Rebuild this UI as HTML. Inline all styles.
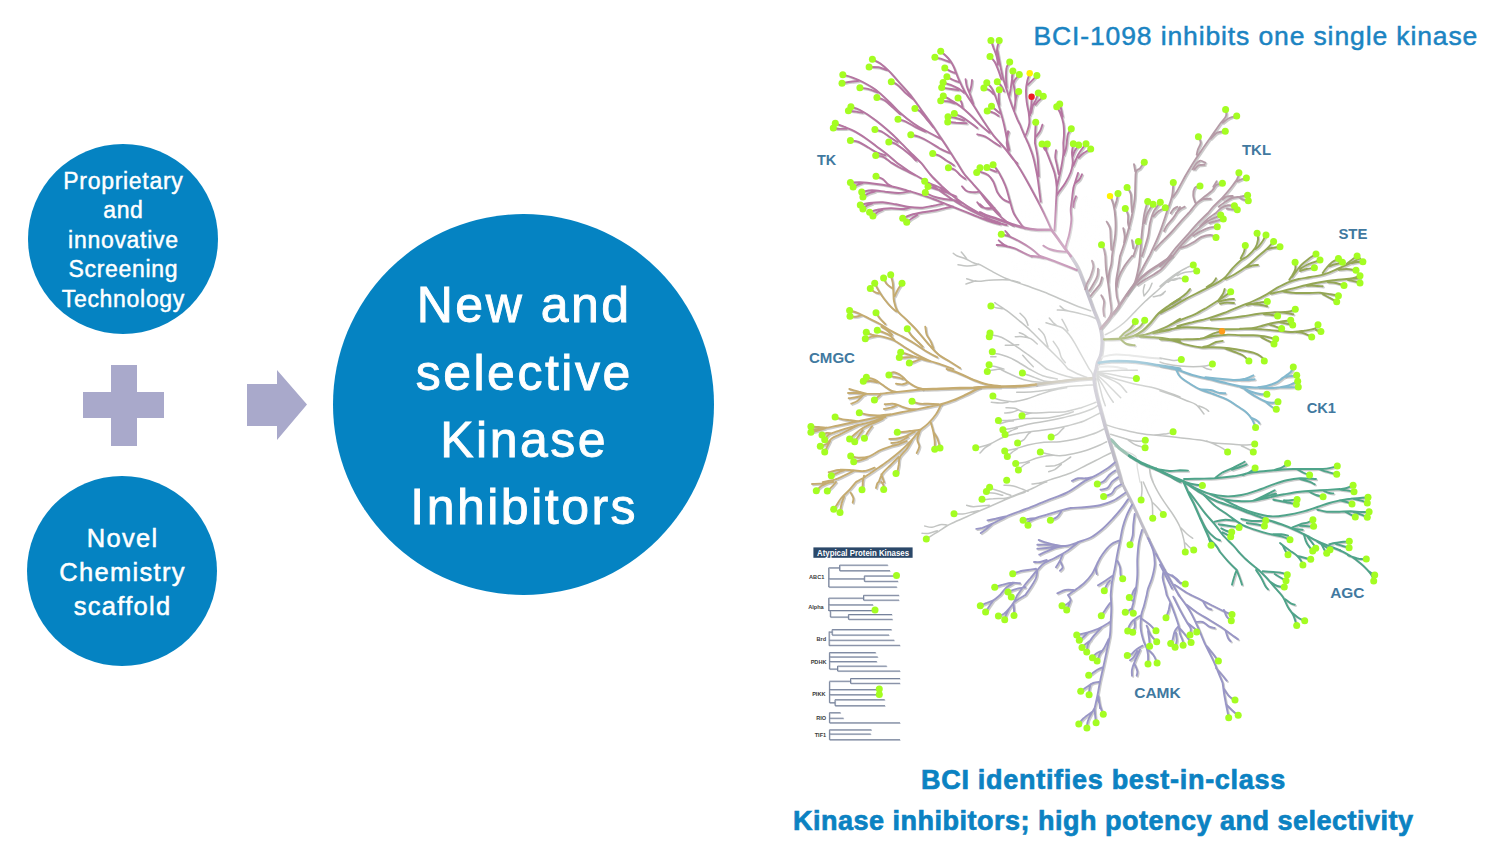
<!DOCTYPE html>
<html>
<head>
<meta charset="utf-8">
<title>BCI Kinase Inhibitors</title>
<style>
html,body{margin:0;padding:0;background:#fff;}
body{width:1500px;height:849px;position:relative;overflow:hidden;font-family:"Liberation Sans",sans-serif;}
.circ{position:absolute;border-radius:50%;background:#0583c2;}
.t{position:absolute;color:#fff;text-align:center;white-space:nowrap;}
.t div{white-space:nowrap;}
.lav{position:absolute;background:#a9a9cb;}
.title{position:absolute;color:#1b84c2;white-space:nowrap;}
.bot{position:absolute;color:#0b82c2;font-weight:bold;white-space:nowrap;text-align:center;}
svg{position:absolute;left:0;top:0;}
.lab{font-family:"Liberation Sans",sans-serif;font-weight:bold;font-size:14.2px;fill:#41799f;}
</style>
</head>
<body>
<!-- left circles -->
<div class="circ" style="left:28px;top:144px;width:190px;height:190px;"></div>
<div class="circ" style="left:27px;top:475.5px;width:190px;height:190px;"></div>
<div class="circ" style="left:332.5px;top:214px;width:381px;height:381px;"></div>

<!-- plus -->
<div class="lav" style="left:110.5px;top:364.5px;width:26px;height:81px;"></div>
<div class="lav" style="left:83px;top:392px;width:81px;height:26px;"></div>
<!-- arrow -->
<svg width="1500" height="849" viewBox="0 0 1500 849">
<polygon points="247,384 277,384 277,370 307,404.5 277,440 277,426 247,426" fill="#a9a9cb"/>
</svg>

<!-- circle texts -->
<div class="t" id="t1" style="-webkit-text-stroke:0.45px #fff;left:28.4px;top:167px;width:190px;font-size:23px;line-height:29.4px;letter-spacing:0.7px;">
<div>Proprietary</div><div>and</div><div>innovative</div><div>Screening</div><div>Technology</div></div>
<div class="t" id="t2" style="-webkit-text-stroke:0.5px #fff;left:27.6px;top:521.3px;width:190px;font-size:25.5px;line-height:34px;letter-spacing:1.3px;">
<div>Novel</div><div>Chemistry</div><div>scaffold</div></div>
<div class="t" id="t3" style="-webkit-text-stroke:0.9px #fff;left:333.7px;top:272.3px;width:381px;font-size:50px;line-height:67.3px;letter-spacing:2.5px;">
<div>New and</div><div>selective</div><div>Kinase</div><div>Inhibitors</div></div>

<div class="title" id="title" style="-webkit-text-stroke:0.5px #1b84c2;left:1033.4px;top:19.8px;font-size:26.5px;line-height:32px;letter-spacing:0.88px;">BCI-1098 inhibits one single kinase</div>

<div class="bot" id="b1" style="-webkit-text-stroke:0.7px #0b82c2;left:921px;top:762.6px;font-size:27px;line-height:34px;letter-spacing:0.71px;">BCI identifies best-in-class</div>
<div class="bot" id="b2" style="-webkit-text-stroke:0.7px #0b82c2;left:793px;top:803.6px;font-size:27px;line-height:34px;letter-spacing:0.5px;">Kinase inhibitors; high potency and selectivity</div>

<!-- kinome tree -->
<svg width="1500" height="849" viewBox="0 0 1500 849">
<defs><filter id="soft" x="-2%" y="-2%" width="104%" height="104%"><feGaussianBlur stdDeviation="0.45"/></filter></defs><g filter="url(#soft)"><g fill="none" stroke="#9a9a9a" stroke-opacity=".5" stroke-linecap="round" stroke-linejoin="round" transform="translate(1.2,1.2)"><path d="M872.4 59.3 C873.7 60.0 877.2 61.3 880.0 63.3 C882.8 65.3 886.0 68.0 889.3 71.3 C892.7 74.7 896.4 79.3 900.0 83.3 C903.6 87.3 907.1 90.9 910.7 95.3 C914.2 99.8 917.8 105.1 921.3 110.0 C924.9 114.9 928.9 120.2 932.0 124.7 C935.1 129.1 937.3 132.7 940.0 136.7 C942.7 140.7 945.6 144.9 948.0 148.7 C950.4 152.4 953.1 156.9 954.7 159.3 C956.2 161.7 956.9 162.4 957.3 163.1 M869.1 66.9 C870.7 67.0 875.7 66.8 878.7 67.3 C881.6 67.8 885.3 69.6 886.7 70.0 M891.3 81.7 C892.3 82.2 895.0 82.8 897.3 84.7 C899.7 86.5 902.7 90.2 905.3 92.7 C908.0 95.1 912.0 98.2 913.3 99.3 M842.8 74.8 C844.3 75.2 848.7 76.1 852.0 77.3 C855.3 78.5 858.7 79.9 862.7 82.0 C866.7 84.1 871.6 86.7 876.0 90.0 C880.4 93.3 885.3 98.2 889.3 102.0 C893.3 105.8 896.0 109.1 900.0 112.7 C904.0 116.2 908.9 120.2 913.3 123.3 C917.8 126.4 922.1 128.8 926.7 131.3 C931.2 133.9 938.3 137.4 940.7 138.7 M842.0 83.2 C843.4 83.0 847.9 82.1 850.7 81.7 C853.4 81.4 857.3 81.1 858.7 80.9 M859.9 87.7 C861.2 87.9 865.1 88.2 868.0 88.9 C870.9 89.7 875.8 91.8 877.3 92.4 M876.9 97.6 C878.1 98.0 881.5 98.5 884.0 100.0 C886.5 101.5 889.3 104.3 892.0 106.7 C894.7 109.0 898.7 112.8 900.0 114.0 M914.9 108.4 C915.8 108.9 918.0 109.5 920.0 111.3 C922.0 113.2 924.4 116.7 926.7 119.3 C928.9 122.0 932.2 126.0 933.3 127.3 M898.0 119.2 C899.2 119.6 902.3 120.0 905.3 121.3 C908.3 122.7 912.7 125.6 916.0 127.3 C919.3 129.0 923.8 130.9 925.3 131.6 M850.9 106.7 C852.4 107.2 856.7 108.3 860.0 110.0 C863.3 111.7 867.1 114.2 870.7 116.7 C874.2 119.1 877.8 121.8 881.3 124.7 C884.9 127.6 888.4 130.7 892.0 134.0 C895.6 137.3 899.1 141.1 902.7 144.7 C906.2 148.2 910.2 152.3 913.3 155.3 C916.4 158.4 920.0 161.8 921.3 163.1 M848.4 110.7 C849.7 110.8 853.6 111.3 856.0 111.6 C858.4 111.9 861.6 112.5 862.7 112.7 M874.9 129.6 C876.0 129.9 878.9 130.2 881.3 131.3 C883.7 132.5 886.7 134.9 889.3 136.7 C892.0 138.4 896.0 141.1 897.3 142.0 M910.8 134.8 C912.1 135.1 915.6 135.5 918.7 136.7 C921.8 137.9 925.8 140.0 929.3 142.0 C932.9 144.0 936.7 146.8 940.0 148.7 C943.3 150.5 947.8 152.2 949.3 152.9 M835.3 123.3 C836.8 123.9 840.8 125.3 844.0 126.7 C847.2 128.0 851.1 129.4 854.7 131.3 C858.2 133.2 861.8 135.6 865.3 138.0 C868.9 140.4 872.4 143.3 876.0 146.0 C879.6 148.7 883.1 151.2 886.7 154.0 C890.2 156.8 895.6 161.6 897.3 163.1 M833.3 128.0 C834.4 128.2 837.8 128.8 840.0 128.9 C842.2 129.0 845.6 128.7 846.7 128.7 M850.4 140.4 C851.8 140.7 855.7 140.8 858.7 142.0 C861.6 143.2 864.9 145.6 868.0 147.3 C871.1 149.1 874.4 151.3 877.3 152.7 C880.2 154.0 884.0 154.9 885.3 155.3 M888.8 141.9 C889.8 142.1 892.4 142.2 894.7 143.3 C897.0 144.5 900.0 146.7 902.7 148.7 C905.3 150.7 908.4 153.3 910.7 155.3 C912.9 157.3 915.1 159.8 916.0 160.7 M875.7 155.5 C876.9 155.7 880.0 155.4 882.7 156.7 C885.4 157.9 890.4 162.0 892.0 163.1 M932.7 153.6 C933.7 153.9 936.3 154.2 938.7 155.3 C941.0 156.5 944.7 159.4 946.7 160.7 C948.7 162.0 950.0 162.7 950.7 163.1 M940.7 51.3 C941.9 52.4 945.9 55.6 948.0 58.0 C950.1 60.4 951.6 62.4 953.3 66.0 C955.1 69.6 956.7 74.9 958.7 79.3 C960.7 83.8 962.7 88.0 965.3 92.7 C968.0 97.3 971.6 102.4 974.7 107.3 C977.8 112.2 980.9 117.3 984.0 122.0 C987.1 126.7 990.0 131.1 993.3 135.3 C996.7 139.6 1000.7 143.3 1004.0 147.3 C1007.3 151.3 1011.1 156.7 1013.3 159.3 C1015.6 162.0 1016.7 162.4 1017.3 163.1 M934.9 57.2 C936.2 57.6 940.3 58.5 942.7 59.3 C945.1 60.1 948.2 61.6 949.3 62.0 M944.8 68.0 C945.8 68.6 949.0 70.5 950.7 71.3 C952.4 72.2 954.2 72.7 954.9 72.9 M946.9 76.7 C948.0 77.2 951.4 79.1 953.3 80.0 C955.3 80.9 957.8 81.7 958.7 82.0 M943.1 82.4 C944.3 82.8 948.1 83.9 950.7 84.9 C953.3 86.0 956.4 87.4 958.7 88.7 C960.9 90.0 963.1 92.0 964.0 92.7 M941.7 87.6 C943.0 87.8 946.5 88.3 949.3 88.7 C952.2 89.1 957.1 89.8 958.7 90.0 M965.6 79.3 C965.8 80.4 966.0 83.8 966.7 86.0 C967.3 88.2 968.2 89.7 969.3 92.7 C970.4 95.7 972.7 102.1 973.3 104.0 M972.0 80.0 C971.9 81.0 971.8 83.9 971.3 86.0 C970.9 88.1 969.7 91.6 969.3 92.7 M943.3 96.0 C944.6 96.7 947.9 98.3 950.7 100.0 C953.4 101.7 956.9 103.7 960.0 106.0 C963.1 108.3 966.0 110.9 969.3 114.0 C972.7 117.1 976.7 121.6 980.0 124.7 C983.3 127.8 987.8 131.3 989.3 132.7 M940.7 100.8 C941.9 100.9 945.7 100.9 948.0 101.3 C950.3 101.8 953.6 103.0 954.7 103.3 M958.0 97.9 C958.6 98.6 960.6 100.4 961.3 102.0 C962.1 103.6 962.4 106.7 962.7 107.6 M954.3 113.6 C955.4 114.1 958.8 115.3 961.3 116.7 C963.8 118.1 966.7 120.1 969.3 122.0 C972.0 123.9 976.0 127.0 977.3 128.0 M948.0 116.7 C949.3 116.9 953.3 117.3 956.0 118.0 C958.7 118.7 962.7 120.2 964.0 120.7 M947.7 122.0 C949.1 122.1 952.8 122.4 956.0 122.7 C959.2 122.9 964.9 123.2 966.7 123.3 M977.3 134.3 C978.7 134.7 982.7 135.4 985.3 136.7 C988.0 138.0 990.9 140.4 993.3 142.0 C995.8 143.6 998.9 145.6 1000.0 146.3 M997.3 50.0 C997.7 51.8 998.4 56.2 999.3 60.7 C1000.2 65.1 1001.4 71.8 1002.7 76.7 C1003.9 81.6 1005.1 85.1 1006.7 90.0 C1008.2 94.9 1010.2 101.1 1012.0 106.0 C1013.8 110.9 1016.0 116.2 1017.3 119.3 C1018.7 122.4 1019.6 123.8 1020.0 124.7 M990.0 56.4 C990.8 57.3 993.2 59.5 994.7 62.0 C996.1 64.5 997.6 68.4 998.7 71.3 C999.8 74.2 1000.9 78.0 1001.3 79.3 M1009.7 62.0 C1009.2 62.9 1007.3 64.9 1006.7 67.3 C1006.0 69.8 1006.0 73.3 1006.0 76.7 C1006.0 80.0 1006.6 85.6 1006.7 87.3 M1012.9 70.9 C1012.8 72.3 1012.4 76.4 1012.0 79.3 C1011.6 82.3 1011.1 85.9 1010.7 88.7 C1010.2 91.4 1009.6 94.8 1009.3 96.0 M986.8 82.8 C987.7 83.8 990.5 86.1 992.0 88.7 C993.5 91.2 994.7 94.4 996.0 98.0 C997.3 101.6 998.7 105.6 1000.0 110.0 C1001.3 114.4 1002.9 120.0 1004.0 124.7 C1005.1 129.3 1005.8 133.8 1006.7 138.0 C1007.6 142.2 1008.9 148.0 1009.3 150.0 M983.9 88.1 C984.8 88.4 987.8 89.0 989.3 90.0 C990.9 91.0 992.7 93.3 993.3 94.0 M997.3 81.7 C998.0 82.4 1000.2 84.4 1001.3 86.0 C1002.4 87.6 1003.6 90.4 1004.0 91.3 M999.3 89.7 C999.2 90.7 998.7 92.8 998.7 95.3 C998.7 97.8 999.2 103.1 999.3 104.7 M991.5 106.3 C992.2 106.9 994.6 108.8 996.0 110.0 C997.4 111.2 999.3 112.8 1000.0 113.3 M987.2 110.9 C988.2 111.2 991.4 111.8 993.3 112.7 C995.2 113.5 997.8 115.4 998.7 116.0 M1008.0 131.3 C1007.8 132.4 1006.7 135.6 1006.7 138.0 C1006.7 140.4 1007.8 144.7 1008.0 146.0 M990.9 40.4 C991.3 41.6 992.4 44.6 993.3 47.3 C994.3 50.0 995.9 53.8 996.7 56.7 C997.4 59.6 997.8 63.3 998.0 64.7 M999.2 40.4 C998.9 41.6 997.8 45.1 997.3 47.3 C996.9 49.6 996.8 52.9 996.7 54.0 M1020.0 124.7 C1020.4 125.8 1021.3 128.3 1022.7 131.3 C1024.0 134.4 1027.1 141.1 1028.0 143.1 M1019.3 74.4 C1018.7 75.2 1016.3 77.8 1015.3 79.3 C1014.3 80.8 1013.7 82.7 1013.3 83.3 M1012.9 70.9 C1012.8 72.1 1011.9 75.9 1012.0 78.0 C1012.1 80.1 1012.8 80.9 1013.3 83.3 C1013.8 85.8 1014.6 89.6 1014.9 92.7 C1015.3 95.8 1015.5 98.9 1015.3 102.0 C1015.2 105.1 1014.2 109.8 1014.0 111.3 M1018.7 91.5 C1018.3 92.3 1016.8 94.9 1016.3 96.7 C1015.7 98.4 1015.5 101.1 1015.3 102.0 M1029.7 73.3 C1029.3 74.6 1028.0 77.9 1027.3 80.7 C1026.7 83.4 1026.1 86.4 1026.0 90.0 C1025.9 93.6 1026.2 98.2 1026.7 102.0 C1027.1 105.8 1028.2 109.1 1028.7 112.7 C1029.1 116.2 1029.7 120.0 1029.3 123.3 C1029.0 126.7 1027.4 130.4 1026.7 132.7 C1025.9 134.9 1025.0 136.0 1024.7 136.7 M1036.9 75.6 C1036.1 76.4 1033.5 79.2 1032.0 80.7 C1030.5 82.2 1028.7 84.0 1028.0 84.7 M1031.6 96.7 C1031.6 98.0 1031.6 101.6 1031.3 104.7 C1031.1 107.8 1030.2 113.6 1030.0 115.3 M1038.3 93.1 C1037.9 94.1 1036.9 97.2 1036.0 99.3 C1035.1 101.5 1033.4 103.8 1032.7 106.0 C1031.9 108.2 1031.6 111.6 1031.3 112.7 M1043.3 96.3 C1042.6 97.0 1040.0 99.3 1038.7 100.7 C1037.3 102.1 1035.9 104.0 1035.3 104.7 M1035.7 122.3 C1035.7 123.6 1035.5 126.5 1035.3 130.0 C1035.2 133.5 1035.0 140.9 1034.9 143.1 M1042.4 124.7 C1042.0 125.8 1041.1 129.3 1040.0 131.3 C1038.9 133.3 1036.7 135.8 1036.0 136.7 M1056.7 106.7 C1057.2 107.7 1058.9 109.9 1060.0 112.7 C1061.1 115.4 1062.7 119.8 1063.3 123.3 C1064.0 126.9 1064.0 130.7 1064.0 134.0 C1064.0 137.3 1063.4 141.6 1063.3 143.1 M1059.7 104.1 C1060.0 105.1 1060.8 107.9 1061.3 110.0 C1061.8 112.1 1062.4 115.6 1062.7 116.7 M1071.3 128.7 C1070.8 129.6 1068.8 131.6 1068.0 134.0 C1067.2 136.4 1066.9 141.6 1066.7 143.1 M1008.7 132.0 C1008.4 132.8 1007.7 134.8 1007.3 136.7 C1007.0 138.5 1006.8 142.0 1006.7 143.1 M1000.0 143.0 C1001.6 144.8 1006.2 149.7 1009.3 153.7 C1012.4 157.7 1015.6 162.1 1018.7 167.0 C1021.8 171.9 1024.9 177.4 1028.0 183.0 C1031.1 188.6 1034.4 194.8 1037.3 200.3 C1040.2 205.9 1043.0 211.4 1045.3 216.3 C1047.7 221.2 1050.3 227.4 1051.3 229.7 M1028.0 143.0 C1028.9 145.4 1031.8 152.1 1033.3 157.7 C1034.9 163.2 1036.3 170.8 1037.3 176.3 C1038.3 181.9 1038.8 186.8 1039.3 191.0 C1039.9 195.2 1040.4 199.9 1040.7 201.7 M1034.9 143.0 C1035.4 145.4 1037.0 152.1 1037.6 157.7 C1038.2 163.2 1038.5 173.2 1038.7 176.3 M1006.7 143.0 C1006.8 143.7 1007.0 145.7 1007.3 147.0 C1007.7 148.3 1008.4 150.3 1008.7 151.0 M1044.0 145.7 C1044.9 147.9 1047.6 154.3 1049.3 159.0 C1051.1 163.7 1053.4 169.0 1054.7 173.7 C1055.9 178.3 1056.4 182.1 1056.7 187.0 C1056.9 191.9 1056.2 198.1 1056.0 203.0 C1055.8 207.9 1055.6 211.8 1055.3 216.3 C1055.1 220.9 1054.6 228.0 1054.4 230.3 M1042.0 144.1 L1044.7 149.7 M1047.3 144.1 L1046.0 149.7 M1056.0 150.3 C1055.9 151.6 1055.1 154.9 1055.3 157.7 C1055.6 160.4 1056.8 164.2 1057.3 167.0 C1057.9 169.8 1058.4 173.1 1058.7 174.3 M1063.3 143.0 C1063.3 144.8 1063.7 149.7 1063.3 153.7 C1063.0 157.7 1062.1 162.8 1061.3 167.0 C1060.6 171.2 1059.4 175.7 1058.7 179.0 C1057.9 182.3 1057.0 185.7 1056.7 187.0 M1066.7 143.0 C1066.6 143.9 1066.4 146.3 1066.0 148.3 C1065.6 150.3 1064.3 153.9 1064.0 155.0 M1073.3 143.7 C1073.1 145.1 1072.1 149.1 1072.0 152.3 C1071.9 155.6 1072.9 159.7 1072.7 163.0 C1072.4 166.3 1071.9 169.0 1070.7 172.3 C1069.4 175.7 1067.3 179.7 1065.3 183.0 C1063.3 186.3 1060.2 190.1 1058.7 192.3 C1057.2 194.6 1056.7 195.7 1056.3 196.3 M1086.0 143.7 C1084.8 145.3 1080.8 150.0 1078.7 153.7 C1076.6 157.3 1074.2 163.7 1073.3 165.7 M1090.7 149.0 C1089.3 149.8 1084.7 152.2 1082.7 153.7 C1080.7 155.1 1079.3 157.0 1078.7 157.7 M1078.7 145.0 C1078.0 146.0 1075.7 149.1 1074.7 151.0 C1073.7 152.9 1073.0 155.4 1072.7 156.3 M1078.0 173.0 C1077.6 174.4 1076.1 179.1 1075.3 181.7 C1074.6 184.2 1073.9 185.4 1073.3 188.3 C1072.8 191.2 1072.4 195.4 1072.0 199.0 C1071.6 202.6 1070.8 206.1 1070.7 209.7 C1070.6 213.2 1071.6 216.3 1071.3 220.3 C1071.1 224.3 1070.1 229.9 1069.3 233.7 C1068.6 237.4 1067.3 240.6 1066.7 243.0 C1066.0 245.4 1065.6 247.4 1065.3 248.3 M1082.0 174.3 C1081.6 175.2 1080.4 178.2 1079.3 179.7 C1078.2 181.1 1076.0 182.4 1075.3 183.0 M1076.0 196.3 C1075.7 197.2 1074.4 199.9 1074.0 201.7 C1073.6 203.4 1073.4 206.1 1073.3 207.0 M993.1 164.7 C994.0 166.0 996.6 168.8 998.7 172.3 C1000.7 175.8 1003.6 181.2 1005.3 185.7 C1007.1 190.1 1008.0 194.6 1009.3 199.0 C1010.7 203.4 1011.6 208.3 1013.3 212.3 C1015.1 216.3 1018.2 220.4 1020.0 223.0 C1021.8 225.6 1023.3 226.9 1024.0 227.7 M986.9 167.4 C987.6 167.8 989.2 169.0 990.7 169.7 C992.2 170.4 995.1 171.3 996.0 171.7 M980.0 171.7 C981.3 172.2 985.8 173.3 988.0 175.0 C990.2 176.7 991.8 178.8 993.3 181.7 C994.9 184.6 995.8 189.4 997.3 192.3 C998.9 195.2 1000.7 197.3 1002.7 199.0 C1004.7 200.7 1008.2 201.8 1009.3 202.3 M980.0 192.3 C981.3 194.1 985.1 199.4 988.0 203.0 C990.9 206.6 994.2 210.6 997.3 213.7 C1000.4 216.8 1004.0 219.7 1006.7 221.7 C1009.3 223.7 1012.2 225.0 1013.3 225.7 M980.0 204.3 C980.9 205.0 983.3 207.6 985.3 208.3 C987.3 209.0 990.9 208.6 992.0 208.6 M980.0 217.7 C982.2 218.3 988.9 220.4 993.3 221.7 C997.8 222.9 1004.4 224.4 1006.7 225.0 M1001.3 234.3 C1002.7 234.7 1006.2 235.1 1009.3 236.3 C1012.4 237.6 1016.4 239.7 1020.0 241.7 C1023.6 243.7 1027.3 245.9 1030.7 248.3 C1034.0 250.7 1038.4 254.8 1040.0 256.1 M1005.3 231.0 L1009.3 235.7 M996.7 245.0 C997.9 245.1 1001.0 245.1 1004.0 245.7 C1007.0 246.2 1011.1 247.0 1014.7 248.3 C1018.2 249.7 1022.7 252.4 1025.3 253.7 C1028.0 255.0 1029.8 255.7 1030.7 256.1 M998.7 240.3 C999.3 240.9 1001.3 242.7 1002.7 243.7 C1004.0 244.6 1006.0 245.6 1006.7 245.9 M1043.3 245.7 C1044.3 246.2 1047.0 248.1 1049.3 249.0 C1051.7 249.9 1054.7 250.6 1057.3 251.0 C1060.0 251.4 1064.0 251.6 1065.3 251.7 M897.3 163.0 C899.6 164.6 905.8 169.2 910.7 172.3 C915.6 175.4 921.1 178.1 926.7 181.7 C932.2 185.2 938.4 189.9 944.0 193.7 C949.6 197.4 954.0 200.8 960.0 204.3 C966.0 207.9 973.3 211.9 980.0 215.0 C986.7 218.1 996.7 221.7 1000.0 223.0 M892.0 163.0 C893.1 163.7 896.2 165.7 898.7 167.0 C901.1 168.3 904.0 169.7 906.7 171.0 C909.3 172.3 913.3 174.3 914.7 175.0 M921.3 163.0 C922.9 165.0 927.3 171.2 930.7 175.0 C934.0 178.8 937.6 182.1 941.3 185.7 C945.1 189.2 949.1 193.0 953.3 196.3 C957.6 199.7 962.2 202.8 966.7 205.7 C971.1 208.6 977.8 212.3 980.0 213.7 M957.3 163.0 C958.4 164.8 961.3 170.1 964.0 173.7 C966.7 177.2 970.0 180.6 973.3 184.3 C976.7 188.1 980.7 192.6 984.0 196.3 C987.3 200.1 990.7 203.9 993.3 207.0 C996.0 210.1 998.9 213.7 1000.0 215.0 M950.7 163.0 L954.0 165.4 M948.4 167.7 C949.4 168.0 952.7 168.4 954.7 169.7 C956.6 170.9 958.2 173.4 960.0 175.0 C961.8 176.6 964.4 178.3 965.3 179.0 M962.0 186.3 C962.8 187.1 964.6 190.0 966.7 191.0 C968.8 192.0 972.7 192.2 974.7 192.3 C976.7 192.4 978.0 191.8 978.7 191.7 M977.3 202.3 C978.0 203.1 979.3 206.0 981.3 207.0 C983.3 208.0 987.1 208.1 989.3 208.3 C991.6 208.6 993.8 208.3 994.7 208.3 M876.0 176.3 C877.1 176.8 880.7 177.7 882.7 179.0 C884.7 180.3 886.2 183.0 888.0 184.3 C889.8 185.7 892.4 186.6 893.3 187.0 M850.4 182.6 C852.0 182.6 856.0 182.2 860.0 182.3 C864.0 182.5 869.6 183.0 874.7 183.7 C879.8 184.3 885.3 185.2 890.7 186.3 C896.0 187.4 901.8 189.0 906.7 190.3 C911.6 191.7 915.6 192.9 920.0 194.3 C924.4 195.8 928.9 197.3 933.3 199.0 C937.8 200.7 942.2 202.6 946.7 204.3 C951.1 206.1 955.6 207.9 960.0 209.7 C964.4 211.4 968.9 213.2 973.3 215.0 C977.8 216.8 982.2 218.8 986.7 220.3 C991.1 221.9 997.8 223.7 1000.0 224.3 M853.1 187.0 C853.8 186.7 855.7 185.7 857.3 185.0 C858.9 184.3 861.8 183.3 862.7 183.0 M861.7 191.9 C863.4 191.7 868.1 190.4 872.0 190.3 C875.9 190.3 880.9 191.2 885.3 191.7 C889.8 192.1 894.4 193.1 898.7 193.0 C902.9 192.9 908.7 191.6 910.7 191.3 M862.9 197.0 C863.8 196.4 866.0 194.6 868.0 193.7 C870.0 192.8 873.6 192.0 874.7 191.7 M860.3 205.0 C861.8 204.7 865.6 203.4 869.3 203.0 C873.1 202.6 878.2 202.1 882.7 202.3 C887.1 202.6 891.6 203.6 896.0 204.3 C900.4 205.1 904.9 206.4 909.3 207.0 C913.8 207.6 918.7 207.9 922.7 207.7 C926.7 207.4 930.0 206.3 933.3 205.7 C936.7 205.0 941.1 204.0 942.7 203.7 M862.9 209.0 C863.6 208.4 865.2 206.6 866.7 205.7 C868.2 204.8 871.1 204.0 872.0 203.7 M869.6 212.3 C870.9 211.9 873.8 210.3 877.3 209.7 C880.8 209.0 886.2 208.4 890.7 208.3 C895.1 208.2 900.7 209.2 904.0 209.0 C907.3 208.8 909.6 207.7 910.7 207.4 M872.9 216.1 C873.7 215.4 875.7 213.4 877.3 212.3 C879.0 211.3 881.8 210.1 882.7 209.7 M902.7 218.3 C904.0 217.8 907.3 216.0 910.7 215.0 C914.0 214.0 918.4 213.1 922.7 212.3 C926.9 211.6 932.0 211.1 936.0 210.3 C940.0 209.6 943.8 208.3 946.7 207.7 C949.6 207.1 952.2 206.9 953.3 206.7 M906.7 222.3 C907.6 221.7 910.2 219.6 912.0 218.3 C913.8 217.1 916.4 215.6 917.3 215.0 M924.7 181.3 C925.9 181.8 929.2 183.2 932.0 184.3 C934.8 185.5 938.4 186.8 941.3 188.3 C944.2 189.9 948.0 192.8 949.3 193.7 M928.0 186.6 C929.3 187.0 932.9 188.0 936.0 189.0 C939.1 190.0 943.3 191.1 946.7 192.3 C950.0 193.6 954.4 195.7 956.0 196.3 M925.3 192.6 C926.7 193.2 930.2 195.3 933.3 196.3 C936.4 197.4 940.4 198.3 944.0 199.0 C947.6 199.7 951.6 199.7 954.7 200.3 C957.8 201.0 961.3 202.6 962.7 203.0" stroke-width="1.9"/><path d="M980.0 212.3 C980.9 212.8 982.4 213.9 985.3 215.0 C988.2 216.1 993.1 217.6 997.3 219.0 C1001.6 220.4 1006.2 222.2 1010.7 223.7 C1015.1 225.1 1019.6 226.7 1024.0 227.7 C1028.4 228.7 1032.8 229.3 1037.3 229.7 C1041.9 230.0 1049.0 229.7 1051.3 229.7 M1051.3 229.7 C1052.8 231.7 1056.8 237.3 1060.0 241.7 C1063.2 246.1 1068.9 253.7 1070.7 256.1" stroke-width="2.6"/><path d="M1144.3 162.3 C1143.6 163.3 1141.4 166.8 1140.0 168.3 C1138.6 169.9 1136.8 169.2 1136.0 171.7 C1135.2 174.1 1135.6 178.4 1135.3 183.0 C1135.1 187.6 1135.2 193.7 1134.7 199.0 C1134.1 204.3 1133.1 209.7 1132.0 215.0 C1130.9 220.3 1129.3 226.1 1128.0 231.0 C1126.7 235.9 1125.3 240.2 1124.0 244.3 C1122.7 248.5 1120.7 254.1 1120.0 256.1 M1134.0 164.3 L1135.3 171.7 M1127.1 187.4 C1127.7 188.4 1130.0 191.1 1130.7 193.7 C1131.4 196.3 1131.1 199.9 1131.3 203.0 C1131.6 206.1 1131.9 210.8 1132.0 212.3 M1110.0 196.1 C1110.6 197.4 1112.4 200.7 1113.3 204.3 C1114.2 207.9 1115.0 212.8 1115.3 217.7 C1115.7 222.6 1115.7 228.8 1115.3 233.7 C1115.0 238.6 1113.9 243.3 1113.3 247.0 C1112.8 250.7 1112.2 254.6 1112.0 256.1 M1118.0 193.4 C1117.8 194.6 1117.2 198.1 1116.7 200.3 C1116.1 202.6 1115.0 205.9 1114.7 207.0 M1106.7 221.7 C1107.2 222.8 1109.3 225.4 1110.0 228.3 C1110.7 231.2 1110.4 235.4 1110.7 239.0 C1110.9 242.6 1111.2 247.9 1111.3 249.7 M1125.3 208.6 C1125.8 209.7 1127.6 212.6 1128.0 215.0 C1128.4 217.4 1127.8 220.8 1128.0 223.0 C1128.2 225.2 1129.1 227.4 1129.3 228.3 M1123.3 228.3 C1123.6 229.7 1124.6 233.9 1124.7 236.3 C1124.8 238.8 1124.1 241.9 1124.0 243.0 M1147.7 201.4 C1147.2 203.2 1145.5 208.3 1144.7 212.3 C1143.8 216.4 1143.2 221.2 1142.7 225.7 C1142.1 230.1 1141.8 233.9 1141.3 239.0 C1140.9 244.1 1140.2 253.2 1140.0 256.1 M1153.1 204.3 C1152.4 205.2 1150.4 207.9 1149.3 209.7 C1148.3 211.4 1147.4 212.8 1146.7 215.0 C1145.9 217.2 1145.0 221.7 1144.7 223.0 M1160.3 202.3 C1159.1 204.0 1155.0 208.9 1153.3 212.3 C1151.6 215.8 1150.9 219.0 1150.0 223.0 C1149.1 227.0 1149.0 231.9 1148.0 236.3 C1147.0 240.8 1145.0 246.4 1144.0 249.7 C1143.0 253.0 1142.3 255.0 1142.0 256.1 M1165.3 207.7 C1164.2 208.2 1160.7 209.6 1158.7 211.0 C1156.7 212.4 1154.2 215.4 1153.3 216.3 M1173.3 182.6 C1173.1 184.9 1173.1 191.4 1172.0 196.3 C1170.9 201.3 1168.4 207.0 1166.7 212.3 C1164.9 217.7 1163.1 223.4 1161.3 228.3 C1159.6 233.2 1158.0 237.0 1156.0 241.7 C1154.0 246.3 1150.4 253.7 1149.3 256.1 M1180.0 207.0 C1178.9 208.8 1175.6 214.6 1173.3 217.7 C1171.1 220.8 1168.2 223.4 1166.7 225.7 C1165.1 227.9 1164.4 230.1 1164.0 231.0 M1138.4 241.4 C1138.0 242.6 1136.8 245.9 1136.0 248.3 C1135.2 250.8 1133.8 254.8 1133.3 256.1 M1132.0 240.3 L1133.3 248.3 M1101.5 244.7 C1101.9 245.6 1103.4 247.8 1104.0 249.7 C1104.6 251.6 1105.1 255.0 1105.3 256.1 M1225.6 109.6 C1225.7 110.7 1226.9 113.6 1226.0 116.0 C1225.1 118.4 1222.6 120.4 1220.0 124.0 C1217.4 127.6 1213.8 132.9 1210.7 137.3 C1207.6 141.8 1204.2 146.4 1201.3 150.7 C1198.4 154.9 1196.0 158.4 1193.3 162.7 C1190.7 166.9 1188.0 171.3 1185.3 176.0 C1182.7 180.7 1179.4 187.1 1177.3 190.7 C1175.2 194.2 1173.4 196.2 1172.7 197.3 M1236.7 116.0 C1235.4 116.3 1231.7 116.9 1229.3 118.0 C1227.0 119.1 1223.8 121.9 1222.7 122.7 M1225.3 131.3 C1224.0 131.6 1219.8 131.4 1217.3 132.7 C1214.9 133.9 1211.8 137.7 1210.7 138.7 M1198.4 136.7 C1198.8 137.7 1200.7 140.6 1200.7 142.7 C1200.6 144.8 1198.7 147.3 1198.0 149.3 C1197.3 151.3 1196.9 153.8 1196.7 154.7 M1205.3 162.7 C1204.4 162.3 1201.6 160.4 1200.0 160.7 C1198.4 160.9 1197.2 162.6 1196.0 164.0 C1194.8 165.4 1193.2 168.4 1192.7 169.3 M1204.7 164.7 C1203.7 164.8 1200.3 164.6 1198.7 165.3 C1197.0 166.1 1195.3 168.7 1194.7 169.3 M1200.0 186.0 C1199.1 186.3 1195.8 186.3 1194.7 188.0 C1193.6 189.7 1193.2 193.6 1193.3 196.0 C1193.4 198.4 1195.0 201.6 1195.3 202.7 M1222.4 183.3 C1221.3 183.7 1217.7 184.1 1216.0 185.3 C1214.3 186.6 1213.8 188.9 1212.0 190.7 C1210.2 192.4 1207.8 194.0 1205.3 196.0 C1202.9 198.0 1199.8 200.2 1197.3 202.7 C1194.9 205.1 1192.1 208.9 1190.7 210.7 C1189.2 212.4 1189.0 212.7 1188.7 213.1 M1216.7 181.3 L1213.3 186.7 M1210.7 198.7 C1209.3 198.8 1204.9 198.7 1202.7 199.3 C1200.4 200.0 1198.2 202.1 1197.3 202.7 M1238.9 172.8 C1238.7 173.8 1238.7 176.1 1237.3 178.7 C1236.0 181.2 1233.1 184.9 1230.7 188.0 C1228.2 191.1 1225.6 194.2 1222.7 197.3 C1219.8 200.4 1215.8 204.0 1213.3 206.7 C1210.9 209.3 1208.9 212.0 1208.0 213.1 M1246.4 178.0 C1245.6 178.2 1242.8 178.8 1241.3 179.3 C1239.8 179.9 1238.0 181.0 1237.3 181.3 M1247.6 195.3 C1246.3 195.6 1242.6 196.2 1240.0 196.7 C1237.4 197.1 1234.7 197.0 1232.0 198.0 C1229.3 199.0 1226.2 201.2 1224.0 202.7 C1221.8 204.1 1219.6 206.0 1218.7 206.7 M1248.3 200.7 C1247.3 200.4 1244.0 199.8 1242.7 199.3 C1241.3 198.9 1240.4 198.2 1240.0 198.0 M1232.7 196.0 C1231.7 196.1 1228.3 196.1 1226.7 196.7 C1225.0 197.2 1223.3 198.9 1222.7 199.3 M1234.4 205.7 C1233.3 205.7 1230.2 205.0 1228.0 205.3 C1225.8 205.7 1223.3 206.7 1221.3 208.0 C1219.3 209.3 1216.9 212.2 1216.0 213.1 M1237.3 209.7 C1236.4 209.7 1233.8 209.5 1232.0 209.3 C1230.2 209.2 1227.6 208.8 1226.7 208.7 M1177.3 206.7 C1176.7 207.1 1174.4 208.3 1173.3 209.3 C1172.2 210.4 1171.1 212.4 1170.7 213.1 M1184.7 206.7 C1183.9 207.1 1181.4 208.3 1180.0 209.3 C1178.6 210.4 1176.7 212.4 1176.0 213.1 M1220.7 215.0 C1219.4 215.6 1216.1 216.9 1213.3 218.3 C1210.6 219.8 1207.3 221.2 1204.0 223.7 C1200.7 226.1 1196.9 229.7 1193.3 233.0 C1189.8 236.3 1186.2 239.7 1182.7 243.7 C1179.1 247.7 1175.1 253.2 1172.0 257.0 C1168.9 260.8 1166.0 264.1 1164.0 266.3 C1162.0 268.6 1160.7 269.7 1160.0 270.3 M1223.3 219.0 C1222.1 219.3 1218.3 220.3 1216.0 221.0 C1213.7 221.7 1210.4 222.7 1209.3 223.0 M1217.3 226.7 C1216.0 226.9 1212.2 226.8 1209.3 227.7 C1206.4 228.5 1202.7 230.3 1200.0 231.7 C1197.3 233.0 1194.4 235.0 1193.3 235.7 M1216.0 237.4 C1215.1 237.0 1213.1 235.1 1210.7 235.0 C1208.2 234.9 1204.2 235.8 1201.3 237.0 C1198.4 238.2 1196.0 240.8 1193.3 242.3 C1190.7 243.9 1187.6 245.4 1185.3 246.3 C1183.1 247.3 1180.9 247.7 1180.0 247.9 M1208.0 213.0 C1206.2 214.8 1200.9 219.9 1197.3 223.7 C1193.8 227.4 1190.2 231.7 1186.7 235.7 C1183.1 239.7 1179.3 243.7 1176.0 247.7 C1172.7 251.7 1169.3 256.6 1166.7 259.7 C1164.0 262.8 1161.1 265.2 1160.0 266.3 M1188.7 213.0 C1187.2 214.6 1183.0 219.0 1180.0 222.3 C1177.0 225.7 1173.3 230.1 1170.7 233.0 C1168.0 235.9 1165.8 237.9 1164.0 239.7 C1162.2 241.4 1161.6 242.0 1160.0 243.7 C1158.4 245.3 1155.6 248.7 1154.7 249.7 M1216.0 213.0 C1214.4 214.1 1209.3 217.4 1206.7 219.7 C1204.0 221.9 1201.1 225.2 1200.0 226.3 M1092.0 260.7 C1092.2 261.7 1093.6 264.1 1093.3 266.7 C1093.1 269.2 1091.8 273.1 1090.7 276.0 C1089.6 278.9 1087.6 281.8 1086.7 284.0 C1085.8 286.2 1085.6 288.4 1085.3 289.3 M1098.0 268.7 C1097.9 269.9 1098.1 273.4 1097.3 276.0 C1096.6 278.6 1094.7 281.6 1093.3 284.0 C1092.0 286.4 1090.0 289.6 1089.3 290.7 M1102.0 277.3 C1101.7 278.4 1101.2 281.8 1100.0 284.0 C1098.8 286.2 1096.2 288.7 1094.7 290.7 C1093.1 292.7 1091.3 295.1 1090.7 296.0 M1101.3 295.3 C1101.8 296.3 1103.7 299.0 1104.0 301.3 C1104.3 303.7 1103.3 306.9 1103.3 309.3 C1103.3 311.8 1103.9 314.9 1104.0 316.0 M1105.3 256.0 C1105.4 258.2 1105.6 264.9 1106.0 269.3 C1106.4 273.8 1107.3 277.8 1108.0 282.7 C1108.7 287.6 1109.4 293.8 1110.0 298.7 C1110.6 303.6 1111.7 308.4 1111.3 312.0 C1111.0 315.6 1109.7 317.3 1108.0 320.0 C1106.3 322.7 1102.4 326.7 1101.3 328.0 M1112.0 256.0 C1111.9 257.3 1111.8 261.3 1111.3 264.0 C1110.9 266.7 1109.8 268.9 1109.3 272.0 C1108.8 275.1 1108.4 280.9 1108.3 282.7 M1120.0 256.0 C1119.7 258.2 1118.7 264.9 1118.0 269.3 C1117.3 273.8 1116.2 278.2 1116.0 282.7 C1115.8 287.1 1116.2 292.2 1116.7 296.0 C1117.1 299.8 1119.2 302.4 1118.7 305.3 C1118.1 308.2 1114.2 312.0 1113.3 313.3 M1132.0 256.0 C1130.7 257.8 1126.2 263.1 1124.0 266.7 C1121.8 270.2 1119.9 274.0 1118.7 277.3 C1117.4 280.7 1117.0 285.1 1116.7 286.7 M1140.0 256.0 C1139.8 257.8 1139.6 262.2 1138.7 266.7 C1137.8 271.1 1136.7 278.0 1134.7 282.7 C1132.7 287.3 1128.0 292.7 1126.7 294.7 M1149.3 256.0 C1148.2 258.0 1144.9 263.8 1142.7 268.0 C1140.4 272.2 1137.1 279.1 1136.0 281.3 M1160.0 270.3 C1158.9 271.0 1155.8 273.2 1153.3 274.7 C1150.9 276.2 1148.0 277.7 1145.3 279.3 C1142.7 281.0 1138.7 283.8 1137.3 284.7" stroke-width="1.9"/><path d="M1257.1 233.3 C1257.2 234.3 1258.3 237.3 1258.0 239.7 C1257.7 242.1 1257.0 245.0 1255.3 247.7 C1253.7 250.3 1250.6 253.4 1248.0 255.7 C1245.4 257.9 1242.7 258.8 1240.0 261.0 C1237.3 263.2 1234.7 266.1 1232.0 269.0 C1229.3 271.9 1227.1 275.7 1224.0 278.3 C1220.9 281.0 1217.3 282.8 1213.3 285.0 C1209.3 287.2 1204.4 289.4 1200.0 291.7 C1195.6 293.9 1191.1 295.9 1186.7 298.3 C1182.2 300.8 1177.8 303.9 1173.3 306.3 C1168.9 308.8 1162.2 311.9 1160.0 313.0 M1266.0 235.0 C1265.4 236.0 1263.9 239.1 1262.7 241.0 C1261.4 242.9 1259.9 245.0 1258.7 246.3 C1257.4 247.7 1255.9 248.6 1255.3 249.0 M1245.3 245.4 C1245.1 246.4 1244.8 249.5 1244.0 251.7 C1243.2 253.8 1241.2 257.2 1240.7 258.3 M1273.6 241.4 C1272.4 242.7 1269.4 246.4 1266.7 249.0 C1264.0 251.6 1260.7 254.1 1257.3 257.0 C1254.0 259.9 1250.4 263.4 1246.7 266.3 C1242.9 269.2 1238.2 272.2 1234.7 274.3 C1231.1 276.4 1226.9 278.2 1225.3 279.0 M1280.0 246.7 C1278.9 246.9 1275.3 247.3 1273.3 247.7 C1271.3 248.0 1268.9 248.8 1268.0 249.0 M1258.0 265.0 C1257.0 265.1 1254.1 265.2 1252.0 265.7 C1249.9 266.1 1246.4 267.3 1245.3 267.7 M1216.0 278.3 C1215.6 279.0 1214.9 280.9 1213.3 282.3 C1211.8 283.8 1207.8 286.2 1206.7 287.0 M1190.0 289.0 C1189.4 289.7 1188.3 291.4 1186.7 293.0 C1185.0 294.6 1182.4 296.6 1180.0 298.3 C1177.6 300.1 1173.3 302.8 1172.0 303.7 M1230.7 291.7 C1229.8 292.3 1227.6 294.1 1225.3 295.7 C1223.1 297.2 1220.4 299.0 1217.3 301.0 C1214.2 303.0 1210.4 305.4 1206.7 307.7 C1202.9 309.9 1198.9 312.3 1194.7 314.3 C1190.4 316.3 1185.8 317.7 1181.3 319.7 C1176.9 321.6 1170.2 325.0 1168.0 326.1 M1224.7 289.0 C1224.3 289.9 1223.7 292.6 1222.7 294.3 C1221.7 296.1 1219.3 298.8 1218.7 299.7 M1234.0 299.0 C1232.8 299.1 1229.2 299.2 1226.7 299.7 C1224.1 300.1 1220.0 301.3 1218.7 301.7 M1234.0 303.0 C1232.8 302.9 1229.0 302.5 1226.7 302.6 C1224.3 302.7 1221.1 303.5 1220.0 303.7 M1360.0 258.3 C1358.2 259.2 1353.1 261.9 1349.3 263.7 C1345.6 265.4 1341.6 267.2 1337.3 269.0 C1333.1 270.8 1328.4 273.0 1324.0 274.3 C1319.6 275.7 1314.9 276.2 1310.7 277.0 C1306.4 277.8 1302.4 278.1 1298.7 279.0 C1294.9 279.9 1291.6 280.9 1288.0 282.3 C1284.4 283.8 1280.9 285.7 1277.3 287.7 C1273.8 289.7 1270.7 292.1 1266.7 294.3 C1262.7 296.6 1257.8 299.0 1253.3 301.0 C1248.9 303.0 1244.9 304.3 1240.0 306.3 C1235.1 308.3 1229.3 311.0 1224.0 313.0 C1218.7 315.0 1213.3 316.8 1208.0 318.3 C1202.7 319.9 1197.1 321.0 1192.0 322.3 C1186.9 323.6 1179.8 325.4 1177.3 326.1 M1295.1 262.3 C1295.1 263.4 1295.8 266.8 1295.3 269.0 C1294.8 271.2 1293.0 273.9 1292.0 275.7 C1291.0 277.4 1289.8 279.0 1289.3 279.7 M1316.0 254.1 C1314.9 254.8 1311.8 256.5 1309.3 258.3 C1306.9 260.2 1303.6 262.8 1301.3 265.0 C1299.1 267.2 1297.6 269.7 1296.0 271.7 C1294.4 273.7 1292.7 276.1 1292.0 277.0 M1320.0 260.1 C1318.9 260.4 1315.6 261.5 1313.3 262.3 C1311.1 263.2 1308.9 263.9 1306.7 265.0 C1304.4 266.1 1301.1 268.3 1300.0 269.0 M1314.4 267.7 C1313.1 267.9 1309.1 268.4 1306.7 269.0 C1304.3 269.6 1301.1 270.7 1300.0 271.0 M1338.4 258.6 C1337.3 259.2 1334.0 260.8 1332.0 262.3 C1330.0 263.8 1328.2 265.9 1326.7 267.7 C1325.1 269.4 1323.3 272.1 1322.7 273.0 M1342.4 262.3 C1341.1 262.7 1336.8 263.7 1334.7 264.3 C1332.5 265.0 1330.2 266.0 1329.3 266.3 M1357.1 255.9 C1356.2 256.6 1353.7 258.4 1352.0 259.7 C1350.3 261.0 1347.6 263.0 1346.7 263.7 M1356.0 270.3 C1354.4 270.1 1349.6 269.1 1346.7 269.0 C1343.8 268.9 1340.0 269.6 1338.7 269.7 M1360.0 278.3 C1357.8 278.4 1351.1 278.7 1346.7 279.0 C1342.2 279.3 1337.8 279.8 1333.3 280.3 C1328.9 280.9 1324.4 281.6 1320.0 282.3 C1315.6 283.1 1311.1 284.0 1306.7 285.0 C1302.2 286.0 1297.8 287.2 1293.3 288.3 C1288.9 289.4 1283.8 290.8 1280.0 291.7 C1276.2 292.6 1272.2 293.3 1270.7 293.7 M1344.0 285.4 C1342.7 285.0 1338.7 283.5 1336.0 283.0 C1333.3 282.5 1329.3 282.4 1328.0 282.3 M1322.7 286.3 C1321.3 286.2 1317.3 285.8 1314.7 285.7 C1312.0 285.6 1308.0 285.7 1306.7 285.7 M1338.4 295.7 C1337.1 295.4 1333.7 294.8 1330.7 294.3 C1327.6 293.8 1324.0 293.0 1320.0 292.7 C1316.0 292.5 1311.1 293.0 1306.7 293.0 C1302.2 293.0 1297.1 293.0 1293.3 292.7 C1289.6 292.5 1285.6 291.8 1284.0 291.7 M1336.7 301.7 C1335.4 301.0 1331.7 298.9 1329.3 297.7 C1327.0 296.4 1323.8 294.9 1322.7 294.3 M1267.3 301.4 C1266.3 301.6 1263.7 302.0 1261.3 302.3 C1259.0 302.7 1255.8 303.2 1253.3 303.7 C1250.9 304.1 1247.8 304.8 1246.7 305.0 M1267.3 306.3 C1266.3 306.1 1263.7 305.3 1261.3 305.0 C1259.0 304.7 1254.7 304.4 1253.3 304.3 M1295.3 309.3 C1294.1 309.7 1291.4 311.2 1288.0 311.7 C1284.6 312.2 1279.6 312.0 1274.7 312.3 C1269.8 312.7 1264.0 313.0 1258.7 313.7 C1253.3 314.3 1248.0 315.6 1242.7 316.3 C1237.3 317.1 1232.0 317.8 1226.7 318.3 C1221.3 318.9 1213.3 319.4 1210.7 319.7 M1293.3 314.3 C1292.2 314.1 1288.9 313.3 1286.7 313.0 C1284.4 312.7 1281.1 312.4 1280.0 312.3 M1277.6 316.1 C1276.7 315.9 1274.3 315.3 1272.0 315.0 C1269.7 314.7 1265.3 314.4 1264.0 314.3 M1290.7 320.3 C1288.9 320.6 1283.6 321.1 1280.0 321.7 C1276.4 322.2 1272.4 322.9 1269.3 323.7 C1266.2 324.4 1262.7 325.7 1261.3 326.1 M1292.7 325.0 C1291.7 324.8 1288.8 324.1 1286.7 323.7 C1284.6 323.2 1281.1 322.6 1280.0 322.3 M1362.9 261.7 C1362.0 261.8 1359.2 261.7 1357.3 262.0 C1355.5 262.3 1352.9 263.1 1352.0 263.3 M1360.0 275.6 C1359.1 276.0 1356.9 277.2 1354.7 277.7 C1352.4 278.3 1348.0 278.8 1346.7 279.1 M1360.0 283.1 C1359.1 282.8 1356.7 281.8 1354.7 281.3 C1352.7 280.8 1349.1 280.2 1348.0 280.0 M1318.0 324.7 C1317.4 325.3 1317.0 327.7 1314.7 328.7 C1312.3 329.7 1308.0 330.1 1304.0 330.7 C1300.0 331.2 1295.1 332.0 1290.7 332.0 C1286.2 332.0 1282.2 331.1 1277.3 330.7 C1272.4 330.2 1266.2 329.7 1261.3 329.3 C1256.4 329.0 1250.2 328.8 1248.0 328.7 M1320.9 331.6 L1316.0 330.0 M1311.7 336.9 C1310.4 336.3 1306.6 334.2 1304.0 333.3 C1301.4 332.5 1297.3 332.2 1296.0 332.0 M1281.6 328.4 C1280.7 328.1 1278.0 327.3 1276.0 326.7 C1274.0 326.0 1270.4 325.0 1269.3 324.7 M1261.3 326.0 C1260.0 326.3 1256.9 327.6 1253.3 328.0 C1249.8 328.4 1242.2 328.6 1240.0 328.7 M1275.7 339.1 C1274.2 338.7 1270.4 337.3 1266.7 336.7 C1262.9 336.0 1257.8 335.6 1253.3 335.3 C1248.9 335.1 1242.2 335.3 1240.0 335.3 M1180.0 318.7 C1178.2 319.8 1173.1 323.3 1169.3 325.3 C1165.6 327.3 1161.3 329.1 1157.3 330.7 C1153.3 332.2 1148.9 333.8 1145.3 334.7 C1141.8 335.6 1137.6 335.8 1136.0 336.0 M1180.0 326.7 C1177.8 327.3 1171.1 329.6 1166.7 330.7 C1162.2 331.8 1155.6 332.9 1153.3 333.3 M1135.3 321.6 C1134.6 322.7 1132.6 326.0 1130.7 328.0 C1128.8 330.0 1125.8 331.8 1124.0 333.3 C1122.2 334.9 1120.7 336.7 1120.0 337.3 M1144.7 320.3 C1143.9 321.3 1142.1 324.7 1140.0 326.7 C1137.9 328.6 1134.4 330.4 1132.0 332.0 C1129.6 333.6 1126.4 335.3 1125.3 336.0 M1134.7 345.3 C1133.3 345.1 1128.9 344.9 1126.7 344.0 C1124.4 343.1 1122.2 340.7 1121.3 340.0 M1180.0 341.3 C1177.8 340.9 1171.1 339.3 1166.7 338.7 C1162.2 338.0 1157.8 337.7 1153.3 337.3 C1148.9 337.0 1142.2 336.8 1140.0 336.7 M1275.7 339.1 C1274.2 338.7 1270.4 337.3 1266.7 336.7 C1262.9 336.0 1257.8 335.6 1253.3 335.3 C1248.9 335.1 1244.4 335.2 1240.0 335.1 C1235.6 335.0 1231.1 334.5 1226.7 334.7 C1222.2 334.8 1217.8 335.3 1213.3 336.0 C1208.9 336.7 1204.4 338.1 1200.0 338.7 C1195.6 339.2 1191.1 339.2 1186.7 339.3 C1182.2 339.4 1177.8 339.3 1173.3 339.3 C1168.9 339.3 1162.2 339.3 1160.0 339.3 M1274.0 344.0 C1273.0 343.4 1270.1 341.8 1268.0 340.7 C1265.9 339.6 1262.4 337.9 1261.3 337.3 M1222.0 331.3 C1221.0 331.6 1218.1 332.0 1216.0 332.7 C1213.9 333.3 1211.3 334.4 1209.3 335.3 C1207.3 336.2 1204.9 337.6 1204.0 338.0 M1248.0 328.7 C1244.4 328.8 1233.6 329.4 1226.7 329.3 C1219.8 329.2 1213.3 328.3 1206.7 328.0 C1200.0 327.7 1192.2 327.2 1186.7 327.3 C1181.1 327.4 1177.8 328.0 1173.3 328.7 C1168.9 329.3 1162.2 330.9 1160.0 331.3 M1160.0 339.3 C1162.2 339.6 1168.9 339.8 1173.3 340.7 C1177.8 341.6 1182.2 343.6 1186.7 344.7 C1191.1 345.8 1195.6 346.9 1200.0 347.3 C1204.4 347.8 1208.9 347.2 1213.3 347.3 C1217.8 347.4 1222.2 347.6 1226.7 348.0 C1231.1 348.4 1235.6 349.2 1240.0 350.0 C1244.4 350.8 1249.8 351.6 1253.3 352.7 C1256.9 353.8 1259.5 355.3 1261.3 356.7 C1263.2 358.0 1263.8 360.2 1264.3 360.9 M1222.7 340.9 C1221.6 341.1 1218.2 341.3 1216.0 342.0 C1213.8 342.7 1211.6 344.5 1209.3 345.3 C1207.1 346.2 1203.8 346.8 1202.7 347.1 M1225.3 348.7 C1226.9 349.2 1231.8 350.9 1234.7 352.0 C1237.6 353.1 1240.3 353.8 1242.7 355.3 C1245.0 356.8 1247.9 360.0 1248.9 360.9" stroke-width="1.9"/><path d="M1070.7 256.0 C1071.8 257.8 1075.3 262.7 1077.3 266.7 C1079.3 270.7 1080.9 275.3 1082.7 280.0 C1084.4 284.7 1086.2 289.8 1088.0 294.7 C1089.8 299.6 1091.6 304.7 1093.3 309.3 C1095.1 314.0 1097.3 318.7 1098.7 322.7 C1100.0 326.7 1100.8 330.0 1101.3 333.3 C1101.9 336.7 1102.1 339.1 1102.0 342.7 C1101.9 346.2 1101.4 351.3 1100.7 354.7 C1099.9 358.0 1098.1 360.3 1097.3 362.7 C1096.6 365.1 1096.2 368.0 1096.0 369.1 M1096.0 369.0 C1095.7 370.3 1094.2 374.1 1094.0 377.0 C1093.8 379.9 1094.1 382.8 1094.7 386.3 C1095.2 389.9 1096.2 393.9 1097.3 398.3 C1098.4 402.8 1100.0 408.1 1101.3 413.0 C1102.7 417.9 1104.0 423.0 1105.3 427.7 C1106.7 432.3 1108.0 436.6 1109.3 441.0 C1110.7 445.4 1112.0 449.9 1113.3 454.3 C1114.7 458.8 1116.0 463.0 1117.3 467.7 C1118.7 472.3 1120.7 479.7 1121.3 482.1" stroke-width="3.1"/><path d="M1040.0 256.0 C1042.4 256.9 1050.2 259.7 1054.7 261.3 C1059.1 263.0 1063.0 264.6 1066.7 266.0 C1070.3 267.4 1075.0 269.3 1076.7 270.0 M1030.7 256.0 C1031.8 256.1 1035.1 256.3 1037.3 256.7 C1039.6 257.0 1042.9 257.8 1044.0 258.0" stroke-width="2.2"/><path d="M1100.7 328.7 C1101.9 327.2 1105.0 323.7 1108.0 320.0 C1111.0 316.3 1115.6 310.9 1118.7 306.7 C1121.8 302.4 1123.8 298.7 1126.7 294.7 C1129.6 290.7 1132.4 286.4 1136.0 282.7 C1139.6 278.9 1144.0 275.1 1148.0 272.0 C1152.0 268.9 1156.0 266.7 1160.0 264.0 C1164.0 261.3 1170.0 257.3 1172.0 256.0" stroke-width="2.6"/><path d="M1098.7 362.7 C1100.7 362.4 1106.0 361.6 1110.7 361.3 C1115.3 361.1 1121.3 361.1 1126.7 361.3 C1132.0 361.6 1137.3 362.0 1142.7 362.7 C1148.0 363.3 1153.8 364.6 1158.7 365.3 C1163.6 366.1 1168.4 366.8 1172.0 367.3 C1175.6 367.9 1178.7 368.4 1180.0 368.7" stroke-width="2.6"/><path d="M1180.0 298.7 C1178.2 299.8 1172.9 302.9 1169.3 305.3 C1165.8 307.8 1161.8 310.4 1158.7 313.3 C1155.6 316.2 1153.3 319.8 1150.7 322.7 C1148.0 325.6 1145.6 328.4 1142.7 330.7 C1139.8 332.9 1137.1 334.7 1133.3 336.0 C1129.6 337.3 1124.9 338.1 1120.0 338.7 C1115.1 339.2 1106.7 339.2 1104.0 339.3" stroke-width="2.2"/><path d="M890.7 274.7 C891.0 276.0 892.2 280.0 892.7 282.7 C893.1 285.3 893.1 287.6 893.3 290.7 C893.6 293.8 893.3 298.0 894.0 301.3 C894.7 304.7 895.4 307.8 897.3 310.7 C899.2 313.6 902.4 315.8 905.3 318.7 C908.2 321.6 911.8 324.9 914.7 328.0 C917.6 331.1 920.0 334.2 922.7 337.3 C925.3 340.4 928.0 343.8 930.7 346.7 C933.3 349.6 935.6 352.2 938.7 354.7 C941.8 357.1 945.8 359.1 949.3 361.3 C952.9 363.6 958.2 366.9 960.0 368.0 M883.6 278.0 C884.1 279.0 885.3 282.3 886.7 284.0 C888.1 285.7 891.1 287.3 892.0 288.0 M902.0 283.3 C901.3 284.3 899.2 287.2 898.0 289.3 C896.8 291.4 895.2 294.9 894.7 296.0 M874.7 283.3 C875.3 284.6 877.1 288.1 878.7 290.7 C880.2 293.2 882.0 296.0 884.0 298.7 C886.0 301.3 888.7 304.6 890.7 306.7 C892.7 308.8 895.1 310.6 896.0 311.3 M870.3 288.4 C871.0 289.0 873.3 291.2 874.7 292.0 C876.1 292.8 878.0 293.1 878.7 293.3 M849.6 310.4 C851.1 310.9 855.4 312.0 858.7 313.3 C862.0 314.7 865.8 316.9 869.3 318.7 C872.9 320.4 876.4 322.0 880.0 324.0 C883.6 326.0 887.1 328.7 890.7 330.7 C894.2 332.7 897.6 334.0 901.3 336.0 C905.1 338.0 909.3 340.2 913.3 342.7 C917.3 345.1 921.3 348.2 925.3 350.7 C929.3 353.1 935.3 356.2 937.3 357.3 M850.0 316.3 C851.0 316.3 854.1 316.8 856.0 316.7 C857.9 316.5 860.4 315.6 861.3 315.3 M876.0 312.7 C876.7 313.7 878.4 316.8 880.0 318.7 C881.6 320.6 884.4 323.1 885.3 324.0 M907.3 328.7 C907.9 329.7 909.0 332.6 910.7 334.7 C912.3 336.8 915.3 339.3 917.3 341.3 C919.3 343.3 921.8 345.8 922.7 346.7 M925.3 326.7 C925.6 328.0 925.8 332.2 926.7 334.7 C927.6 337.1 929.6 339.1 930.7 341.3 C931.8 343.6 932.9 346.9 933.3 348.0 M866.3 332.3 C867.2 332.7 869.3 333.9 872.0 334.7 C874.7 335.4 879.1 335.8 882.7 336.7 C886.2 337.6 889.8 338.3 893.3 340.0 C896.9 341.7 900.4 344.4 904.0 346.7 C907.6 348.9 910.7 351.1 914.7 353.3 C918.7 355.6 923.6 358.1 928.0 360.0 C932.4 361.9 937.1 363.2 941.3 364.7 C945.6 366.2 951.3 368.3 953.3 369.1 M865.3 338.7 C866.4 338.3 870.0 337.2 872.0 336.7 C874.0 336.2 876.4 335.9 877.3 335.7 M877.3 330.3 C878.4 330.7 881.8 331.7 884.0 332.7 C886.2 333.6 888.9 334.7 890.7 336.0 C892.4 337.3 894.0 339.9 894.7 340.7 M881.3 326.7 C882.2 327.2 884.9 328.7 886.7 330.0 C888.4 331.3 891.1 333.9 892.0 334.7 M900.7 352.3 C901.7 352.6 904.3 353.3 906.7 354.0 C909.0 354.7 912.0 355.8 914.7 356.7 C917.3 357.6 920.0 358.6 922.7 359.3 C925.3 360.1 929.3 361.0 930.7 361.3 M899.3 357.6 C900.6 357.6 904.3 357.5 906.7 357.3 C909.0 357.2 912.2 356.8 913.3 356.7 M909.3 363.1 C910.2 362.8 912.9 362.0 914.7 361.3 C916.4 360.7 919.1 359.7 920.0 359.3 M941.3 404.3 C939.1 404.8 932.4 406.1 928.0 407.0 C923.6 407.9 919.1 408.8 914.7 409.7 C910.2 410.6 906.2 411.3 901.3 412.3 C896.4 413.3 890.7 414.6 885.3 415.7 C880.0 416.8 874.7 417.9 869.3 419.0 C864.0 420.1 858.7 421.2 853.3 422.3 C848.0 423.4 842.2 424.7 837.3 425.7 C832.4 426.7 828.0 427.7 824.0 428.3 C820.0 429.0 815.1 429.4 813.3 429.7 M888.9 375.0 C889.7 374.6 891.3 372.2 893.3 372.3 C895.4 372.4 899.1 374.2 901.3 375.7 C903.6 377.1 904.4 379.2 906.7 381.0 C908.9 382.8 912.0 385.0 914.7 386.3 C917.3 387.7 921.3 388.6 922.7 389.0 M896.0 383.7 C897.1 383.8 900.7 384.6 902.7 384.3 C904.7 384.1 907.1 382.7 908.0 382.3 M892.0 376.3 C893.1 376.6 896.9 377.2 898.7 377.7 C900.4 378.1 902.0 378.8 902.7 379.0 M922.7 389.3 C920.0 389.6 911.6 390.5 906.7 391.0 C901.8 391.5 897.8 391.9 893.3 392.3 C888.9 392.8 884.4 393.4 880.0 393.7 C875.6 393.9 870.2 394.0 866.7 393.7 C863.1 393.3 861.6 392.4 858.7 391.7 C855.8 390.9 850.9 389.4 849.3 389.0 M866.4 377.3 C867.8 377.7 872.0 378.4 874.7 379.7 C877.4 381.0 880.0 383.2 882.7 385.0 C885.3 386.8 888.4 389.2 890.7 390.3 C892.9 391.5 895.1 391.7 896.0 391.9 M863.3 381.3 C864.6 381.2 868.3 380.8 870.7 381.0 C873.0 381.2 876.2 382.1 877.3 382.3 M848.0 393.0 C849.3 393.0 853.3 392.9 856.0 393.0 C858.7 393.1 862.7 393.4 864.0 393.5 M848.7 398.3 C850.1 398.1 854.6 397.7 857.3 397.0 C860.1 396.3 864.0 394.8 865.3 394.3 M851.3 403.7 C852.3 403.2 855.4 402.3 857.3 401.0 C859.2 399.7 861.8 396.6 862.7 395.7 M874.4 399.9 C875.1 399.3 877.5 397.4 878.7 396.3 C879.8 395.3 880.9 394.1 881.3 393.7 M912.0 401.3 C913.3 401.7 917.3 403.3 920.0 403.7 C922.7 404.1 924.9 403.6 928.0 403.7 C931.1 403.8 936.9 404.1 938.7 404.2 M884.7 404.3 C886.1 404.2 890.6 403.3 893.3 403.7 C896.1 404.0 898.7 405.4 901.3 406.3 C904.0 407.2 906.9 408.5 909.3 409.0 C911.8 409.5 914.9 409.2 916.0 409.3 M884.0 409.0 C885.1 408.8 888.7 408.2 890.7 407.7 C892.7 407.1 895.1 406.0 896.0 405.7 M859.3 412.7 C861.0 413.1 865.9 414.6 869.3 415.0 C872.8 415.4 876.4 415.5 880.0 415.4 C883.6 415.3 888.9 414.5 890.7 414.3 M835.1 417.0 C836.3 417.4 840.1 418.8 842.7 419.4 C845.3 420.0 848.2 420.0 850.7 420.3 C853.1 420.6 856.2 421.1 857.3 421.3 M810.9 426.6 C812.2 426.7 816.0 426.8 818.7 427.0 C821.3 427.2 825.3 427.6 826.7 427.7 M810.9 432.3 C812.2 432.0 816.3 431.0 818.7 430.3 C821.1 429.7 824.2 428.7 825.3 428.3 M885.3 417.0 C882.7 417.9 874.7 420.8 869.3 422.3 C864.0 423.9 858.2 425.0 853.3 426.3 C848.4 427.7 844.0 429.0 840.0 430.3 C836.0 431.7 831.8 432.9 829.3 434.3 C826.9 435.8 826.0 438.2 825.3 439.0 M822.0 435.0 C822.8 434.7 825.2 433.3 826.7 433.0 C828.1 432.7 830.0 433.2 830.7 433.3 M820.3 446.3 C821.3 445.9 824.7 445.0 826.7 443.7 C828.6 442.3 829.8 439.9 832.0 438.3 C834.2 436.8 836.9 435.9 840.0 434.3 C843.1 432.8 847.6 430.6 850.7 429.0 C853.8 427.4 857.3 425.7 858.7 425.0 M824.7 451.9 C825.1 451.0 826.4 448.2 827.3 446.3 C828.2 444.5 829.6 441.9 830.0 441.0 M849.6 439.0 C850.4 438.2 852.7 436.0 854.7 434.3 C856.6 432.7 858.4 430.8 861.3 429.0 C864.2 427.2 868.4 425.3 872.0 423.7 C875.6 422.0 880.9 419.8 882.7 419.0 M854.7 441.7 C855.3 440.7 857.3 437.6 858.7 435.7 C860.0 433.8 862.0 431.2 862.7 430.3 M864.4 438.3 C865.0 437.2 866.7 433.7 868.0 431.7 C869.3 429.7 871.3 427.2 872.0 426.3 M941.3 404.3 C940.4 406.0 938.2 411.1 936.0 414.3 C933.8 417.6 930.7 421.0 928.0 423.7 C925.3 426.3 922.7 427.7 920.0 430.3 C917.3 433.0 915.1 436.3 912.0 439.7 C908.9 443.0 905.3 446.8 901.3 450.3 C897.3 453.9 892.4 457.7 888.0 461.0 C883.6 464.3 878.9 467.4 874.7 470.3 C870.4 473.2 865.8 476.4 862.7 478.3 C859.6 480.3 857.1 481.4 856.0 482.1 M930.7 422.3 C931.1 423.9 932.7 428.6 933.3 431.7 C934.0 434.8 934.4 438.1 934.7 441.0 C934.9 443.9 934.7 447.7 934.7 449.0 M933.3 431.7 C934.0 432.8 936.2 435.7 937.3 438.3 C938.4 441.0 939.6 446.1 940.0 447.7 M920.0 430.3 C919.6 431.9 917.4 437.0 917.3 439.7 C917.2 442.3 919.4 444.1 919.3 446.3 C919.2 448.6 917.1 451.9 916.7 453.0 M897.3 432.3 C898.7 432.2 902.7 432.0 905.3 431.7 C908.0 431.4 910.9 430.9 913.3 430.6 C915.8 430.3 918.9 429.8 920.0 429.7 M889.3 439.0 C890.9 438.9 895.8 438.9 898.7 438.3 C901.6 437.8 904.0 436.8 906.7 435.7 C909.3 434.6 913.3 432.3 914.7 431.7 M891.3 443.0 C892.8 442.8 897.2 442.7 900.0 441.7 C902.8 440.7 906.7 437.8 908.0 437.0 M850.7 455.9 C852.0 456.2 855.6 457.6 858.7 457.7 C861.8 457.7 865.8 457.6 869.3 456.3 C872.9 455.1 876.4 452.0 880.0 450.3 C883.6 448.7 887.6 447.3 890.7 446.3 C893.8 445.3 896.0 445.2 898.7 444.3 C901.3 443.4 905.3 441.6 906.7 441.0 M853.7 461.7 C854.8 461.4 857.8 460.9 860.0 460.3 C862.2 459.7 865.6 458.4 866.7 458.1 M912.0 440.3 C911.1 441.8 908.7 446.2 906.7 449.0 C904.7 451.8 901.3 454.3 900.0 457.0 C898.7 459.7 899.1 462.4 898.7 465.0 C898.2 467.6 897.6 471.1 897.3 472.3 M898.7 457.0 C897.3 458.3 893.3 462.3 890.7 465.0 C888.0 467.7 884.7 470.2 882.7 473.0 C880.7 475.8 879.3 480.6 878.7 482.1 M828.7 472.3 C830.6 471.9 835.9 470.0 840.0 469.7 C844.1 469.3 849.3 470.1 853.3 470.3 C857.3 470.6 860.4 471.4 864.0 471.0 C867.6 470.6 872.9 468.2 874.7 467.7 M831.3 475.7 C832.6 475.1 836.6 473.2 838.7 472.3 C840.8 471.4 843.1 470.7 844.0 470.3 M822.7 482.1 C824.7 481.7 831.1 480.7 834.7 479.7 C838.2 478.6 840.9 477.1 844.0 475.7 C847.1 474.2 851.8 471.8 853.3 471.0 M881.3 474.3 L884.0 482.1 M864.0 475.7 L862.7 482.1 M856.0 482.0 C854.9 483.3 851.8 487.3 849.3 490.0 C846.9 492.7 843.6 495.3 841.3 498.0 C839.1 500.7 837.3 504.1 836.0 506.0 C834.7 507.9 834.1 508.8 833.7 509.3 M840.0 512.4 C840.2 511.1 840.7 507.3 841.3 504.7 C842.0 502.0 843.6 498.0 844.0 496.7 M850.7 492.7 C851.1 493.6 853.0 496.3 853.3 498.0 C853.7 499.7 852.8 501.9 852.7 502.7 M816.3 490.7 C817.1 489.9 819.6 487.2 821.3 486.0 C823.1 484.8 824.7 484.0 826.7 483.3 C828.7 482.7 832.2 482.2 833.3 482.0 M827.3 491.1 C828.1 490.3 830.6 488.2 832.0 486.7 C833.4 485.2 835.3 482.8 836.0 482.0 M812.0 484.0 C813.3 483.9 817.6 483.7 820.0 483.6 C822.4 483.5 825.6 483.4 826.7 483.3 M862.0 489.7 C862.1 488.9 862.6 486.0 862.7 484.7 C862.8 483.4 862.7 482.4 862.7 482.0 M883.7 489.6 C883.7 488.8 883.7 485.9 883.3 484.7 C882.9 483.4 881.7 482.4 881.3 482.0 M876.0 488.0 C876.2 487.2 876.9 484.3 877.3 483.3 C877.8 482.3 878.4 482.2 878.7 482.0" stroke-width="1.9"/><path d="M1000.0 387.0 C997.8 387.0 991.1 386.9 986.7 387.0 C982.2 387.1 978.9 387.4 973.3 387.7 C967.8 387.9 960.0 388.1 953.3 388.3 C946.7 388.6 938.4 388.8 933.3 389.0 C928.2 389.2 924.4 389.2 922.7 389.3 M1000.0 386.6 C1003.3 386.5 1014.0 386.4 1020.0 386.1 C1026.0 385.7 1033.3 384.7 1036.0 384.5" stroke-width="2.6"/><path d="M946.7 369.0 C948.9 369.8 955.6 371.9 960.0 373.7 C964.4 375.4 968.9 377.9 973.3 379.7 C977.8 381.4 982.2 383.3 986.7 384.3 C991.1 385.4 997.8 385.8 1000.0 386.1 M980.0 387.7 C977.8 388.8 971.1 392.2 966.7 394.3 C962.2 396.4 957.6 398.7 953.3 400.3 C949.1 402.0 943.3 403.7 941.3 404.3" stroke-width="2.2"/><path d="M1036.0 384.5 C1040.0 383.9 1052.7 382.2 1060.0 381.3 C1067.3 380.4 1074.3 379.5 1080.0 379.0 C1085.7 378.5 1091.7 378.2 1094.0 378.1" stroke-width="2.6"/><path d="M1111.3 439.7 C1112.6 441.0 1115.7 445.0 1118.7 447.7 C1121.7 450.3 1127.6 454.3 1129.3 455.7" stroke-width="3.0"/><path d="M1129.3 455.7 C1131.6 457.0 1138.2 461.4 1142.7 463.7 C1147.1 465.9 1153.8 468.1 1156.0 469.0" stroke-width="3.0"/><path d="M1156.0 469.0 C1158.2 469.3 1165.3 470.8 1169.3 471.0 C1173.3 471.2 1176.9 470.4 1180.0 470.3 C1183.1 470.3 1186.7 470.6 1188.0 470.6 M1236.7 570.0 C1236.3 570.9 1235.4 572.9 1234.7 575.3 C1233.9 577.8 1232.4 583.1 1232.0 584.7 M1236.7 570.0 C1237.1 571.1 1238.4 574.2 1239.3 576.7 C1240.2 579.1 1241.6 583.3 1242.0 584.7 M1256.0 570.0 C1256.9 571.3 1259.8 575.3 1261.3 578.0 C1262.9 580.7 1264.2 584.1 1265.3 586.0 C1266.4 587.9 1267.6 588.8 1268.0 589.3 M1258.7 570.0 C1260.0 571.3 1264.0 575.1 1266.7 578.0 C1269.3 580.9 1272.0 584.2 1274.7 587.3 C1277.3 590.4 1280.4 593.3 1282.7 596.7 C1284.9 600.0 1286.2 604.2 1288.0 607.3 C1289.8 610.4 1291.9 612.3 1293.3 615.3 C1294.8 618.4 1296.1 623.9 1296.7 625.6 M1292.0 612.7 C1293.1 613.6 1296.6 616.7 1298.7 618.0 C1300.8 619.3 1303.7 620.2 1304.7 620.7 M1262.7 571.3 C1264.4 571.4 1270.2 571.8 1273.3 572.0 C1276.4 572.2 1279.0 572.2 1281.3 572.7 C1283.7 573.1 1286.3 574.3 1287.3 574.7 M1274.7 574.0 C1275.8 574.7 1279.4 576.9 1281.3 578.0 C1283.2 579.1 1285.2 580.2 1286.0 580.7 M1270.7 582.0 C1271.8 582.7 1275.1 585.2 1277.3 586.0 C1279.6 586.8 1283.1 586.9 1284.3 587.1 M1285.3 599.3 C1286.2 600.0 1289.1 602.4 1290.7 603.3 C1292.2 604.2 1294.0 604.4 1294.7 604.7 M1184.0 479.0 C1186.7 479.0 1194.9 478.8 1200.0 478.7 C1205.1 478.6 1209.1 478.7 1214.7 478.3 C1220.2 477.9 1226.9 477.3 1233.3 476.3 C1239.8 475.3 1246.7 473.3 1253.3 472.3 C1260.0 471.3 1266.7 470.9 1273.3 470.3 C1280.0 469.8 1286.7 469.2 1293.3 469.0 C1300.0 468.8 1307.8 469.1 1313.3 469.0 C1318.9 468.9 1322.7 469.0 1326.7 468.6 C1330.7 468.2 1335.6 466.7 1337.3 466.3 M1287.6 463.3 C1286.8 463.9 1284.8 465.9 1282.7 467.0 C1280.5 468.1 1276.0 469.4 1274.7 469.9 M1255.1 468.1 C1254.1 468.8 1251.4 471.2 1249.3 472.3 C1247.3 473.5 1243.8 474.6 1242.7 475.0 M1214.7 478.3 C1216.0 477.3 1219.6 474.1 1222.7 472.3 C1225.8 470.6 1230.2 469.1 1233.3 467.7 C1236.4 466.2 1239.4 464.7 1241.3 463.7 C1243.2 462.7 1244.1 462.0 1244.7 461.7 M1232.0 469.7 C1233.3 469.2 1237.6 467.9 1240.0 467.0 C1242.4 466.1 1245.6 464.8 1246.7 464.3 M1297.3 469.4 C1298.4 470.0 1302.0 472.1 1304.0 473.0 C1306.0 473.9 1308.7 474.7 1309.6 475.0 M1318.7 469.0 C1320.0 469.4 1323.7 470.8 1326.7 471.7 C1329.7 472.6 1335.0 473.9 1336.7 474.3 M1184.0 481.7 C1185.6 482.1 1190.3 483.7 1193.3 484.3 C1196.4 485.0 1200.9 485.2 1202.4 485.4 M1184.0 481.7 C1186.0 482.8 1191.8 486.3 1196.0 488.3 C1200.2 490.3 1204.4 492.3 1209.3 493.7 C1214.2 495.0 1220.0 496.1 1225.3 496.3 C1230.7 496.6 1236.0 496.0 1241.3 495.0 C1246.7 494.0 1252.0 492.1 1257.3 490.3 C1262.7 488.6 1268.4 486.0 1273.3 484.3 C1278.2 482.7 1282.2 481.3 1286.7 480.3 C1291.1 479.3 1295.1 478.6 1300.0 478.3 C1304.9 478.1 1313.3 478.9 1316.0 479.0 M1300.0 479.0 C1301.6 479.4 1306.9 480.8 1309.3 481.7 C1311.8 482.6 1313.8 483.9 1314.7 484.3 M1209.3 493.7 C1211.6 494.6 1217.8 497.8 1222.7 499.0 C1227.6 500.2 1233.3 500.7 1238.7 501.0 C1244.0 501.3 1249.8 501.2 1254.7 500.6 C1259.6 500.0 1263.1 498.7 1268.0 497.7 C1272.9 496.6 1278.7 495.3 1284.0 494.3 C1289.3 493.3 1294.0 492.3 1300.0 491.7 C1306.0 491.0 1313.3 490.8 1320.0 490.3 C1326.7 489.9 1336.7 489.2 1340.0 489.0 M1309.3 491.7 C1310.4 492.2 1313.7 494.2 1316.0 495.0 C1318.3 495.8 1321.9 496.4 1323.1 496.7 M1324.0 491.0 C1324.9 491.3 1327.8 492.6 1329.3 493.0 C1330.9 493.4 1332.7 493.3 1333.3 493.4 M1253.3 500.6 C1254.9 499.9 1259.8 497.7 1262.7 496.3 C1265.6 495.0 1268.7 493.3 1270.7 492.3 C1272.7 491.3 1274.0 490.7 1274.7 490.3 M1260.0 498.3 C1261.3 497.9 1265.3 496.4 1268.0 495.7 C1270.7 494.9 1274.7 494.0 1276.0 493.7 M1273.3 499.7 C1275.1 500.0 1280.2 500.9 1284.0 501.7 C1287.8 502.4 1294.2 503.9 1296.3 504.3 M1284.0 500.3 C1285.1 500.3 1288.5 500.5 1290.7 500.3 C1292.8 500.2 1296.0 499.6 1297.1 499.4 M1222.7 499.0 C1225.3 500.3 1233.3 504.7 1238.7 507.0 C1244.0 509.3 1249.3 511.4 1254.7 513.0 C1260.0 514.6 1265.3 516.0 1270.7 516.3 C1276.0 516.7 1281.3 515.8 1286.7 515.0 C1292.0 514.2 1297.6 513.0 1302.7 511.7 C1307.8 510.3 1312.9 508.4 1317.3 507.0 C1321.8 505.6 1325.6 504.1 1329.3 503.0 C1333.1 501.9 1338.2 500.8 1340.0 500.3 M1317.3 509.7 C1318.9 510.0 1322.9 511.3 1326.7 511.7 C1330.4 512.0 1337.8 511.7 1340.0 511.7 M1292.0 527.7 C1293.3 527.1 1297.3 525.2 1300.0 524.3 C1302.7 523.4 1305.8 523.1 1308.0 522.3 C1310.2 521.6 1312.1 520.1 1312.9 519.7 M1300.0 525.7 C1301.3 525.8 1305.7 526.2 1308.0 526.3 C1310.3 526.4 1312.7 526.3 1313.6 526.3 M1294.7 529.0 L1302.7 529.7 M1204.0 495.0 C1205.8 496.8 1210.7 502.3 1214.7 505.7 C1218.7 509.0 1223.6 511.9 1228.0 515.0 C1232.4 518.1 1236.9 521.9 1241.3 524.3 C1245.8 526.8 1250.2 528.1 1254.7 529.7 C1259.1 531.2 1263.6 532.6 1268.0 533.7 C1272.4 534.8 1277.7 535.3 1281.3 536.3 C1285.0 537.3 1288.6 539.1 1290.0 539.7 M1273.3 534.3 C1274.7 534.3 1278.9 534.1 1281.3 534.3 C1283.8 534.6 1286.9 535.4 1288.0 535.7 M1241.3 519.0 C1243.1 519.3 1247.9 520.7 1252.0 521.0 C1256.1 521.3 1263.4 520.7 1265.7 520.6 M1246.7 523.0 C1248.2 523.2 1253.0 523.8 1256.0 524.3 C1259.0 524.8 1263.0 525.8 1264.4 526.1 M1280.0 543.0 C1281.1 543.9 1284.7 546.8 1286.7 548.3 C1288.7 549.8 1291.1 551.4 1292.0 552.1 M1189.3 492.3 C1190.7 494.1 1194.7 499.4 1197.3 503.0 C1200.0 506.6 1202.4 510.1 1205.3 513.7 C1208.2 517.2 1211.8 520.8 1214.7 524.3 C1217.6 527.9 1219.6 531.4 1222.7 535.0 C1225.8 538.6 1230.7 542.8 1233.3 545.7 C1236.0 548.5 1237.8 551.0 1238.7 552.1 M1200.0 517.7 C1201.1 519.7 1204.2 526.3 1206.7 529.7 C1209.1 533.0 1212.4 535.9 1214.7 537.7 C1216.9 539.4 1219.1 539.9 1220.0 540.3 M1209.3 539.0 C1210.4 540.1 1214.2 543.5 1216.0 545.7 C1217.8 547.8 1219.3 551.0 1220.0 552.1 M1214.7 521.7 C1216.4 521.3 1221.8 519.8 1225.3 519.7 C1228.9 519.6 1234.2 520.8 1236.0 521.0 M1218.7 524.3 C1220.2 524.6 1224.6 525.2 1228.0 525.7 C1231.4 526.2 1237.2 527.1 1239.1 527.4 M1221.3 528.3 C1222.2 528.8 1224.9 530.4 1226.7 531.0 C1228.4 531.6 1230.9 531.8 1231.7 531.9 M1222.7 532.3 C1223.6 532.8 1226.7 534.3 1228.0 535.0 C1229.3 535.7 1230.2 536.4 1230.7 536.7 M1304.0 535.0 C1304.4 536.3 1305.2 540.3 1306.7 543.0 C1308.1 545.7 1311.7 549.7 1312.7 551.0 M1308.0 537.7 C1308.9 538.8 1312.0 542.6 1313.3 544.3 C1314.6 546.1 1315.3 547.7 1315.7 548.3 M1317.3 541.7 C1318.4 542.3 1321.9 544.3 1324.0 545.7 C1326.1 547.0 1329.0 549.0 1330.0 549.7 M1329.3 544.3 C1330.2 544.1 1332.9 543.3 1334.7 543.0 C1336.4 542.7 1339.1 542.4 1340.0 542.3 M1340.0 489.1 C1341.1 488.9 1344.5 488.6 1346.7 488.0 C1348.8 487.4 1352.0 485.8 1353.1 485.3 M1340.0 489.6 C1341.1 489.7 1344.3 490.0 1346.7 490.4 C1349.0 490.8 1352.8 491.5 1354.0 491.7 M1340.0 500.3 C1341.8 500.0 1347.3 499.0 1350.7 498.7 C1354.0 498.3 1357.1 498.2 1360.0 498.0 C1362.9 497.8 1366.7 497.4 1368.0 497.3 M1353.3 498.7 C1354.7 499.0 1359.0 500.0 1361.3 500.7 C1363.7 501.4 1366.3 502.6 1367.3 502.9 M1340.0 500.3 C1341.1 500.6 1344.7 501.4 1346.7 502.0 C1348.7 502.6 1351.1 503.7 1352.0 504.0 M1340.0 511.6 C1341.8 511.6 1347.1 511.3 1350.7 511.3 C1354.2 511.4 1358.3 511.9 1361.3 512.0 C1364.4 512.1 1367.8 511.8 1369.1 511.7 M1353.3 512.0 C1354.7 512.4 1359.0 513.8 1361.3 514.7 C1363.7 515.6 1366.3 516.9 1367.3 517.3 M1345.3 512.0 C1346.2 512.4 1349.0 513.8 1350.7 514.7 C1352.3 515.5 1354.6 516.6 1355.3 516.9 M1340.0 550.3 C1341.8 551.2 1347.1 553.7 1350.7 556.0 C1354.2 558.3 1358.4 561.6 1361.3 564.0 C1364.2 566.4 1366.2 568.7 1368.0 570.7 C1369.8 572.7 1371.0 574.3 1372.0 576.0 C1373.0 577.7 1373.4 580.1 1373.7 580.9 M1368.0 570.7 C1368.7 571.1 1370.9 572.6 1372.0 573.3 C1373.1 574.0 1374.2 574.7 1374.7 574.9 M1348.0 555.3 C1349.8 555.9 1355.6 558.0 1358.7 558.7 C1361.7 559.3 1365.0 559.0 1366.3 559.1 M1340.0 542.3 C1340.9 542.2 1343.8 541.8 1345.3 541.6 C1346.9 541.4 1348.7 541.4 1349.3 541.3 M1336.0 544.0 C1337.1 544.3 1340.5 545.4 1342.7 546.0 C1344.8 546.6 1348.0 547.4 1349.1 547.7 M1321.3 544.0 C1321.8 544.9 1323.1 547.8 1324.0 549.3 C1324.9 550.9 1326.2 552.7 1326.7 553.3 M1292.0 552.0 C1292.9 552.7 1295.8 554.4 1297.3 556.0 C1298.9 557.6 1300.4 559.8 1301.3 561.3 C1302.3 562.8 1302.7 564.3 1302.9 564.9 M1297.3 556.0 C1298.7 556.3 1303.1 557.4 1305.3 558.0 C1307.6 558.6 1309.8 559.1 1310.7 559.3 M1282.7 545.3 C1283.1 546.2 1284.4 549.1 1285.3 550.7 C1286.2 552.2 1287.6 554.0 1288.0 554.7 M1238.7 552.0 C1240.0 553.3 1244.0 557.6 1246.7 560.0 C1249.3 562.4 1252.7 565.0 1254.7 566.7 C1256.7 568.3 1258.0 569.4 1258.7 570.0 M1220.0 552.0 C1221.3 553.6 1225.2 558.3 1228.0 561.3 C1230.8 564.3 1235.2 568.6 1236.7 570.0" stroke-width="1.9"/><path d="M1156.0 469.0 C1157.8 469.9 1163.3 472.6 1166.7 474.3 C1170.0 476.1 1173.8 478.4 1176.0 479.7 C1178.2 480.9 1179.3 481.3 1180.0 481.7" stroke-width="2.4"/><path d="M1072.0 480.9 C1073.0 480.4 1075.8 478.8 1078.0 478.3 C1080.2 477.9 1083.1 478.5 1085.3 478.3 C1087.6 478.2 1090.3 477.4 1091.3 477.3 M1114.8 462.4 C1113.7 463.3 1111.1 465.8 1108.0 468.0 C1104.9 470.2 1099.8 473.2 1096.0 475.3 C1092.2 477.5 1089.8 478.0 1084.9 480.9 C1080.0 483.8 1073.0 489.4 1066.7 492.7 C1060.3 496.0 1053.3 498.0 1046.7 500.7 C1040.0 503.3 1032.9 506.3 1026.7 508.7 C1020.4 511.1 1015.1 512.6 1009.3 515.1 C1003.6 517.6 996.8 521.6 992.3 523.7 C987.8 525.9 985.1 527.0 982.4 527.9 C979.7 528.7 977.3 528.8 976.3 528.9 M987.5 520.4 C988.8 520.1 992.6 519.3 995.6 518.7 C998.6 518.0 1003.8 516.8 1005.5 516.4 M992.3 523.7 C991.2 524.7 987.6 527.9 985.7 529.5 C983.8 531.0 981.6 532.5 980.8 533.1 M1125.3 492.7 C1123.3 494.0 1117.6 498.6 1113.3 500.7 C1109.1 502.8 1104.9 504.2 1100.0 505.3 C1095.1 506.4 1088.9 506.9 1084.0 507.3 C1079.1 507.8 1074.7 507.4 1070.7 508.0 C1066.7 508.6 1064.0 509.6 1060.0 510.7 C1056.0 511.8 1050.7 513.4 1046.7 514.7 C1042.7 515.9 1039.1 516.8 1036.0 518.0 C1032.9 519.2 1029.3 521.3 1028.0 522.0 M1023.1 520.3 C1024.1 520.0 1027.2 519.0 1029.3 518.7 C1031.5 518.3 1034.9 518.1 1036.0 518.0 M1050.4 520.3 C1051.6 519.7 1055.5 518.2 1057.3 516.7 C1059.2 515.2 1060.7 512.2 1061.3 511.3 M1115.3 470.4 C1114.3 471.2 1110.8 473.6 1108.9 475.3 C1107.1 477.1 1106.1 479.5 1104.1 480.9 C1102.2 482.3 1098.5 483.3 1097.3 483.7 M1118.1 477.3 C1117.1 478.1 1113.9 479.9 1112.1 481.7 C1110.3 483.5 1109.3 486.8 1107.3 488.1 C1105.4 489.5 1101.7 489.5 1100.5 489.7 M1120.9 484.5 C1120.0 485.1 1116.9 486.6 1115.3 488.1 C1113.7 489.7 1113.3 492.3 1111.3 493.7 C1109.4 495.1 1105.0 496.1 1103.7 496.5 M1128.0 499.3 C1126.9 500.9 1123.8 505.6 1121.3 508.7 C1118.9 511.8 1116.4 514.7 1113.3 518.0 C1110.2 521.3 1106.2 525.6 1102.7 528.7 C1099.1 531.8 1096.0 534.4 1092.0 536.7 C1088.0 538.9 1083.1 540.4 1078.7 542.0 C1074.2 543.6 1069.3 545.6 1065.3 546.0 C1061.3 546.4 1057.8 545.2 1054.7 544.7 C1051.6 544.1 1049.3 543.4 1046.7 542.7 C1044.0 541.9 1040.0 540.4 1038.7 540.0 M1037.3 544.7 C1038.9 544.7 1043.8 544.6 1046.7 544.7 C1049.6 544.7 1053.3 544.9 1054.7 544.9 M1037.3 548.7 C1038.9 548.6 1043.3 548.4 1046.7 548.0 C1050.0 547.6 1055.6 546.3 1057.3 546.0 M1039.3 554.7 C1040.6 554.1 1044.1 552.4 1046.7 551.3 C1049.2 550.2 1052.0 548.8 1054.7 548.0 C1057.3 547.2 1061.3 546.6 1062.7 546.3 M1078.7 542.0 C1076.7 543.6 1070.7 548.7 1066.7 551.3 C1062.7 554.0 1058.4 556.0 1054.7 558.0 C1050.9 560.0 1046.9 561.3 1044.0 563.3 C1041.1 565.3 1039.6 567.6 1037.3 570.0 C1035.1 572.4 1032.9 575.3 1030.7 578.0 C1028.4 580.7 1026.2 583.2 1024.0 586.0 C1021.8 588.8 1018.4 593.6 1017.3 595.1 M1034.0 562.0 C1035.0 562.0 1037.9 562.3 1040.0 562.0 C1042.1 561.7 1045.6 560.3 1046.7 560.0 M1062.7 554.0 C1062.2 555.1 1061.1 558.4 1060.0 560.7 C1058.9 562.9 1056.7 566.2 1056.0 567.3 M1060.0 560.7 C1060.4 561.8 1062.7 565.7 1062.7 567.3 C1062.7 569.0 1060.4 570.1 1060.0 570.7 M1012.7 573.7 C1013.9 573.3 1017.4 572.0 1020.0 571.3 C1022.6 570.7 1025.3 570.4 1028.0 570.0 C1030.7 569.6 1034.7 568.9 1036.0 568.7 M1037.3 570.0 C1037.1 571.3 1037.1 575.1 1036.0 578.0 C1034.9 580.9 1032.4 584.5 1030.7 587.3 C1028.9 590.2 1026.2 593.8 1025.3 595.1 M994.7 587.3 C996.0 586.9 999.8 585.4 1002.7 584.7 C1005.6 583.9 1009.1 582.9 1012.0 582.7 C1014.9 582.4 1018.7 583.2 1020.0 583.3 M1000.0 595.1 C1001.1 593.8 1004.4 589.3 1006.7 587.3 C1008.9 585.4 1012.2 584.0 1013.3 583.3 M1008.0 592.0 C1009.6 591.4 1014.4 589.4 1017.3 588.7 C1020.2 587.9 1024.0 587.6 1025.3 587.3 M1132.0 504.7 C1131.1 506.4 1128.2 511.6 1126.7 515.3 C1125.1 519.1 1123.8 523.1 1122.7 527.3 C1121.6 531.6 1120.9 536.2 1120.0 540.7 C1119.1 545.1 1118.2 549.3 1117.3 554.0 C1116.4 558.7 1115.6 564.0 1114.7 568.7 C1113.8 573.3 1112.7 577.6 1112.0 582.0 C1111.3 586.4 1110.9 592.9 1110.7 595.1 M1134.7 514.0 C1134.4 515.8 1133.7 521.1 1133.3 524.7 C1133.0 528.2 1133.2 532.1 1132.7 535.3 C1132.1 538.6 1130.4 542.6 1130.0 544.0 M1118.7 540.7 C1117.3 541.3 1113.3 542.4 1110.7 544.7 C1108.0 546.9 1104.9 550.9 1102.7 554.0 C1100.4 557.1 1099.1 560.0 1097.3 563.3 C1095.6 566.7 1094.2 570.7 1092.0 574.0 C1089.8 577.3 1087.1 580.4 1084.0 583.3 C1080.9 586.2 1076.0 589.4 1073.3 591.3 C1070.7 593.3 1068.9 594.4 1068.0 595.1 M1100.0 558.0 C1099.3 559.6 1096.6 564.7 1096.0 567.3 C1095.4 570.0 1096.6 572.9 1096.7 574.0 M1057.3 593.3 C1058.7 592.8 1062.7 590.6 1065.3 590.0 C1068.0 589.4 1072.0 590.0 1073.3 590.0 M1117.3 560.7 C1117.8 561.8 1119.4 564.9 1120.0 567.3 C1120.6 569.8 1120.2 573.4 1120.7 575.3 C1121.1 577.2 1122.3 578.1 1122.7 578.7 M1113.3 575.3 C1112.0 576.2 1107.9 579.0 1105.3 580.7 C1102.8 582.3 1099.2 584.6 1098.0 585.3 M1104.3 590.7 C1104.7 589.7 1105.7 586.3 1106.7 584.7 C1107.6 583.0 1109.4 581.3 1110.0 580.7 M1142.0 530.0 C1141.4 532.2 1139.4 538.4 1138.7 543.3 C1137.9 548.2 1137.6 554.0 1137.3 559.3 C1137.1 564.7 1137.6 570.4 1137.3 575.3 C1137.1 580.2 1136.4 585.4 1136.0 588.7 C1135.6 592.0 1134.9 594.0 1134.7 595.1 M1136.0 587.3 C1135.6 588.0 1134.0 590.0 1133.3 591.3 C1132.7 592.6 1132.2 594.4 1132.0 595.1 M1148.0 538.0 C1148.9 540.2 1152.2 546.9 1153.3 551.3 C1154.4 555.8 1154.9 560.2 1154.7 564.7 C1154.4 569.1 1153.1 574.0 1152.0 578.0 C1150.9 582.0 1148.9 585.8 1148.0 588.7 C1147.1 591.5 1146.9 594.0 1146.7 595.1 M1164.0 568.7 C1163.8 570.2 1162.4 574.7 1162.7 578.0 C1162.9 581.3 1164.7 585.8 1165.3 588.7 C1166.0 591.5 1166.4 594.0 1166.7 595.1 M1172.0 575.3 C1172.9 576.0 1176.0 578.0 1177.3 579.3 C1178.7 580.7 1179.6 582.7 1180.0 583.3 M1160.0 564.7 C1161.1 566.9 1164.7 574.0 1166.7 578.0 C1168.7 582.0 1171.1 586.9 1172.0 588.7 M1000.0 595.0 C998.9 595.9 995.6 599.0 993.3 600.3 C991.1 601.7 988.8 602.1 986.7 603.0 C984.5 603.9 981.3 605.2 980.3 605.7 M993.3 600.3 C992.6 601.4 990.0 605.0 988.7 607.0 C987.4 609.0 986.1 611.2 985.6 612.1 M1017.3 595.0 C1016.7 596.3 1014.7 600.8 1013.3 603.0 C1012.0 605.2 1010.9 606.6 1009.3 608.3 C1007.8 610.1 1005.8 612.4 1004.0 613.7 C1002.2 614.9 999.3 615.6 998.4 615.9 M1009.3 608.3 C1008.8 609.4 1006.8 613.1 1006.0 615.0 C1005.2 616.9 1004.9 618.9 1004.7 619.7 M1013.3 603.0 C1013.4 604.1 1013.9 607.6 1014.0 609.7 C1014.1 611.7 1014.0 614.4 1014.0 615.4 M1025.3 595.0 C1024.2 595.7 1020.4 597.9 1018.7 599.0 C1016.9 600.1 1015.3 601.2 1014.7 601.7 M1068.0 595.0 C1068.4 595.9 1070.9 598.8 1070.7 600.3 C1070.4 601.9 1068.1 603.4 1066.7 604.3 C1065.2 605.2 1062.8 605.4 1062.0 605.7 M1070.7 600.3 C1070.3 601.2 1069.3 604.1 1068.7 605.7 C1068.0 607.3 1067.0 609.2 1066.7 609.9 M1110.7 595.0 C1110.8 597.2 1111.3 603.9 1111.3 608.3 C1111.3 612.8 1110.9 617.2 1110.7 621.7 C1110.4 626.1 1110.7 630.1 1110.0 635.0 C1109.3 639.9 1107.8 645.7 1106.7 651.0 C1105.6 656.3 1104.4 661.9 1103.3 667.0 C1102.2 672.1 1101.0 676.8 1100.0 681.7 C1099.0 686.6 1098.2 691.9 1097.3 696.3 C1096.4 700.7 1095.1 706.1 1094.7 708.1 M1101.3 615.7 C1102.0 614.7 1103.9 611.8 1105.3 609.7 C1106.8 607.6 1109.2 604.1 1110.0 603.0 M1110.7 621.7 C1109.6 622.3 1106.4 624.3 1104.0 625.7 C1101.6 627.0 1098.7 628.6 1096.0 629.7 C1093.3 630.8 1091.2 631.4 1088.0 632.3 C1084.8 633.2 1078.6 634.6 1076.7 635.0 M1088.0 632.3 C1087.1 633.2 1084.1 636.3 1082.7 637.7 C1081.2 639.0 1079.9 639.9 1079.3 640.3 M1101.3 627.7 C1100.0 629.1 1095.6 633.6 1093.3 636.3 C1091.1 639.1 1089.1 641.7 1088.0 644.3 C1086.9 647.0 1086.9 650.8 1086.7 652.1 M1090.7 640.3 C1089.8 641.0 1086.8 643.2 1085.3 644.3 C1083.9 645.5 1082.6 646.9 1082.0 647.4 M1108.7 639.0 C1107.9 640.6 1105.4 645.9 1104.0 648.3 C1102.6 650.8 1101.2 651.6 1100.0 653.7 C1098.8 655.8 1097.6 659.8 1097.1 661.0 M1101.3 651.0 C1100.4 651.4 1097.5 652.6 1096.0 653.7 C1094.5 654.8 1093.0 657.0 1092.4 657.7 M1103.3 667.0 C1102.3 667.4 1099.2 668.6 1097.3 669.7 C1095.4 670.8 1093.4 672.7 1092.0 673.7 C1090.6 674.6 1089.2 675.0 1088.7 675.3 M1100.0 681.7 C1098.9 681.9 1095.6 682.1 1093.3 683.0 C1091.1 683.9 1088.8 685.6 1086.7 687.0 C1084.6 688.4 1081.7 690.6 1080.7 691.3 M1090.7 684.3 C1090.4 685.2 1089.6 687.9 1089.3 689.7 C1089.1 691.4 1089.1 693.9 1089.1 694.7 M1097.3 699.0 C1097.7 699.7 1098.9 701.5 1099.3 703.0 C1099.8 704.5 1099.9 707.2 1100.0 708.1 M1134.7 595.0 C1134.4 596.3 1133.8 600.8 1133.3 603.0 C1132.9 605.2 1132.0 606.6 1132.0 608.3 C1132.0 610.0 1133.1 612.4 1133.3 613.3 M1132.0 608.3 C1131.3 608.8 1129.1 610.3 1128.0 611.0 C1126.9 611.7 1125.8 612.1 1125.3 612.3 M1129.3 597.4 L1132.0 600.3 M1146.7 595.0 C1146.2 596.8 1144.9 602.3 1144.0 605.7 C1143.1 609.0 1141.9 611.2 1141.3 615.0 C1140.8 618.8 1140.3 624.1 1140.7 628.3 C1141.0 632.6 1142.3 637.0 1143.3 640.3 C1144.3 643.7 1145.9 645.9 1146.7 648.3 C1147.4 650.8 1147.8 652.4 1148.0 655.0 C1148.2 657.6 1148.0 662.6 1148.0 664.1 M1146.7 648.3 C1147.8 649.4 1151.6 652.6 1153.3 655.0 C1155.1 657.4 1156.4 661.7 1157.1 663.0 M1141.3 615.0 C1140.0 615.9 1135.3 618.6 1133.3 620.3 C1131.3 622.1 1130.3 623.9 1129.3 625.7 C1128.4 627.4 1128.0 630.1 1127.7 631.0 M1134.7 620.3 C1134.7 621.4 1135.0 625.0 1134.7 627.0 C1134.3 629.0 1133.0 631.4 1132.7 632.3 M1142.0 619.0 C1143.2 619.9 1147.4 622.8 1149.3 624.3 C1151.2 625.9 1152.2 627.3 1153.3 628.3 C1154.4 629.4 1155.6 630.3 1156.0 630.7 M1146.7 625.7 C1147.3 627.2 1149.0 632.3 1150.7 635.0 C1152.3 637.7 1155.7 640.6 1156.7 641.7 M1148.0 631.0 C1148.2 632.6 1149.1 637.8 1149.3 640.3 C1149.6 642.9 1149.6 645.3 1149.6 646.3 M1142.7 645.7 C1141.6 646.3 1137.8 648.3 1136.0 649.7 C1134.2 651.0 1133.4 652.7 1132.0 653.7 C1130.6 654.6 1128.1 655.1 1127.3 655.4 M1137.3 651.0 C1136.7 652.1 1134.6 656.1 1133.3 657.7 C1132.1 659.2 1130.6 659.9 1130.0 660.3 M1140.0 649.7 C1139.1 651.7 1136.0 658.3 1134.7 661.7 C1133.3 665.0 1132.4 667.3 1132.0 669.7 C1131.6 672.0 1132.0 674.7 1132.0 675.7 M1134.7 664.3 C1135.1 665.4 1137.0 669.1 1137.3 671.0 C1137.7 672.9 1136.8 674.9 1136.7 675.7 M1178.7 595.1 C1180.4 597.6 1186.2 604.8 1189.3 610.0 C1192.4 615.2 1194.7 620.2 1197.3 626.0 C1200.0 631.8 1202.7 638.9 1205.3 644.7 C1208.0 650.4 1210.9 655.3 1213.3 660.7 C1215.8 666.0 1218.4 672.9 1220.0 676.7 C1221.6 680.4 1222.2 682.0 1222.7 683.1 M1166.7 595.1 C1167.3 596.4 1169.3 600.2 1170.7 603.3 C1172.0 606.5 1173.3 610.2 1174.7 614.0 C1176.0 617.8 1177.8 622.7 1178.7 626.0 C1179.6 629.3 1179.3 631.6 1180.0 634.0 C1180.7 636.4 1182.2 638.8 1182.7 640.7 C1183.2 642.6 1183.0 644.6 1183.1 645.3 M1170.0 603.3 C1169.8 604.4 1169.3 607.6 1168.7 610.0 C1168.0 612.4 1166.4 616.4 1166.0 617.7 M1178.7 626.0 C1178.0 626.9 1175.7 629.1 1174.7 631.3 C1173.7 633.6 1173.3 637.3 1172.7 639.3 C1172.0 641.4 1171.0 642.9 1170.7 643.6 M1176.0 632.7 C1176.1 634.0 1176.8 638.2 1176.7 640.7 C1176.5 643.1 1175.3 646.2 1175.1 647.3 M1180.0 628.7 C1181.1 630.0 1184.8 634.4 1186.7 636.7 C1188.5 639.0 1190.3 641.4 1191.1 642.4 M1173.3 596.7 C1174.4 598.9 1177.8 605.8 1180.0 610.0 C1182.2 614.2 1184.9 618.9 1186.7 622.0 C1188.4 625.1 1190.1 626.5 1190.7 628.7 C1191.2 630.8 1190.1 634.0 1190.0 635.1 M1188.0 623.3 C1189.1 624.2 1193.2 627.2 1194.7 628.7 C1196.1 630.1 1196.3 631.4 1196.7 632.0 M1165.3 572.7 C1166.7 573.3 1171.1 575.1 1173.3 576.7 C1175.6 578.2 1176.7 580.8 1178.7 582.0 C1180.7 583.2 1184.2 583.7 1185.3 584.0 M1174.7 584.7 C1176.7 586.0 1182.4 590.2 1186.7 592.7 C1190.9 595.1 1195.6 597.1 1200.0 599.3 C1204.4 601.6 1209.3 604.0 1213.3 606.0 C1217.3 608.0 1220.9 609.9 1224.0 611.3 C1227.1 612.7 1230.7 613.9 1232.0 614.4 M1224.0 610.0 C1224.4 611.1 1225.4 614.9 1226.7 616.7 C1227.9 618.4 1230.6 620.0 1231.3 620.7 M1202.7 600.7 C1203.3 601.8 1205.2 605.9 1206.7 607.3 C1208.1 608.8 1210.6 609.0 1211.3 609.3 M1186.7 604.7 C1188.4 606.0 1193.3 610.0 1197.3 612.7 C1201.3 615.3 1206.7 618.2 1210.7 620.7 C1214.7 623.1 1218.0 625.1 1221.3 627.3 C1224.7 629.6 1227.9 632.0 1230.7 634.0 C1233.4 636.0 1236.8 638.4 1238.0 639.3 M1225.3 630.0 C1225.8 631.3 1227.1 636.1 1228.0 638.0 C1228.9 639.9 1230.2 640.8 1230.7 641.3 M1196.0 622.0 C1197.1 622.0 1200.4 621.2 1202.7 622.0 C1204.9 622.8 1207.3 625.7 1209.3 626.7 C1211.3 627.7 1213.8 627.8 1214.7 628.0 M1206.7 646.0 C1207.6 647.1 1210.0 650.2 1212.0 652.7 C1214.0 655.2 1217.3 659.7 1218.4 661.1 M1216.0 668.0 C1216.9 669.0 1219.6 671.9 1221.3 674.0 C1223.1 676.1 1225.8 679.6 1226.7 680.7 M1094.6 707.9 C1093.5 710.0 1089.3 716.7 1088.1 720.1 C1086.8 723.5 1087.1 726.8 1086.9 728.1 M1098.5 696.1 C1098.7 697.7 1099.3 702.7 1100.1 705.7 C1100.9 708.7 1102.7 712.8 1103.3 714.2 M1094.6 707.9 C1094.7 709.4 1095.0 714.4 1095.3 716.9 C1095.5 719.4 1095.9 721.8 1096.1 722.8 M1092.9 711.3 C1091.3 712.5 1085.6 716.4 1083.3 718.5 C1080.9 720.6 1079.5 723.2 1078.8 724.1 M1222.6 682.9 C1222.9 684.9 1223.6 690.4 1224.2 694.5 C1224.9 698.5 1225.9 703.4 1226.6 707.3 C1227.4 711.2 1228.4 716.0 1228.7 717.7 M1223.4 688.1 C1224.4 689.4 1227.1 694.1 1229.1 696.1 C1231.0 698.1 1234.0 699.4 1235.0 700.1 M1225.8 704.1 C1226.9 705.2 1230.2 708.6 1232.3 710.5 C1234.3 712.4 1237.2 714.5 1238.2 715.3" stroke-width="1.9"/><path d="M1121.3 482.0 C1122.2 483.8 1124.7 488.7 1126.7 492.7 C1128.7 496.7 1131.1 501.3 1133.3 506.0 C1135.6 510.7 1137.6 515.3 1140.0 520.7 C1142.4 526.0 1146.7 535.1 1148.0 538.0" stroke-width="2.5"/><path d="M1148.0 538.0 L1156.0 554.0" stroke-width="2.4"/><path d="M1156.0 554.0 C1157.3 556.4 1161.3 563.8 1164.0 568.7 C1166.7 573.6 1169.6 578.9 1172.0 583.3 C1174.4 587.7 1177.6 593.1 1178.7 595.1" stroke-width="2.0"/><path d="M1160.0 366.0 C1162.7 366.6 1170.4 367.8 1176.0 369.3 C1181.6 370.9 1187.6 373.7 1193.3 375.3 C1199.1 377.0 1205.1 378.0 1210.7 379.3 C1216.2 380.7 1221.3 382.1 1226.7 383.3 C1232.0 384.6 1237.3 386.0 1242.7 386.7 C1248.0 387.3 1253.3 387.9 1258.7 387.3 C1264.0 386.8 1270.7 384.9 1274.7 383.3 C1278.7 381.8 1280.0 379.9 1282.7 378.0 C1285.3 376.1 1288.9 373.8 1290.7 372.0 C1292.4 370.2 1292.9 367.9 1293.3 367.1" stroke-width="2.2"/><path d="M1176.0 369.3 C1176.7 370.6 1177.8 374.3 1180.0 376.7 C1182.2 379.0 1186.0 381.2 1189.3 383.3 C1192.7 385.4 1196.0 387.6 1200.0 389.3 C1204.0 391.1 1208.9 392.3 1213.3 394.0 C1217.8 395.7 1222.7 397.3 1226.7 399.3 C1230.7 401.3 1234.0 403.8 1237.3 406.0 C1240.7 408.2 1244.2 410.4 1246.7 412.7 C1249.1 414.9 1250.5 416.8 1252.0 419.3 C1253.5 421.8 1255.0 426.2 1255.6 427.6 M1252.0 418.0 C1252.9 418.4 1256.1 419.8 1257.3 420.7 C1258.6 421.6 1259.0 422.9 1259.3 423.3 M1200.0 389.3 C1201.8 389.4 1207.6 389.4 1210.7 390.0 C1213.8 390.6 1216.2 392.1 1218.7 392.7 C1221.1 393.2 1224.2 393.2 1225.3 393.3 M1205.3 377.3 C1207.8 377.6 1215.1 378.2 1220.0 378.7 C1224.9 379.1 1230.4 380.0 1234.7 380.0 C1238.9 380.0 1242.2 379.4 1245.3 378.7 C1248.4 377.9 1252.0 375.9 1253.3 375.3 M1240.0 380.0 C1241.3 380.0 1245.6 380.1 1248.0 380.0 C1250.4 379.9 1253.6 379.4 1254.7 379.3 M1285.3 376.7 C1286.4 376.6 1290.1 376.2 1292.0 376.0 C1293.9 375.8 1295.9 375.4 1296.7 375.3 M1258.7 387.3 C1261.1 387.4 1268.7 388.2 1273.3 388.0 C1278.0 387.8 1282.6 387.1 1286.7 386.0 C1290.7 384.9 1295.9 382.1 1297.7 381.3 M1280.0 387.3 C1281.6 387.3 1286.3 387.4 1289.3 387.3 C1292.4 387.3 1296.8 387.1 1298.3 387.1 M1240.0 386.7 C1241.8 387.4 1247.3 390.1 1250.7 391.3 C1254.0 392.6 1257.3 393.5 1260.0 394.0 C1262.7 394.5 1265.8 394.2 1266.9 394.3 M1245.3 390.0 C1247.1 391.1 1252.4 394.7 1256.0 396.7 C1259.6 398.7 1263.8 401.0 1266.7 402.0 C1269.6 403.0 1271.4 402.7 1273.3 402.7 C1275.2 402.6 1277.2 401.9 1278.0 401.7 M1264.0 400.7 C1265.1 401.6 1268.6 404.6 1270.7 406.0 C1272.7 407.4 1275.3 408.8 1276.3 409.3" stroke-width="1.9"/><path d="M1156.0 469.0 C1157.8 469.9 1162.0 472.2 1166.7 474.3 C1171.3 476.4 1181.1 480.4 1184.0 481.7" stroke-width="2.6"/><path d="M1184.0 481.7 C1186.7 483.4 1194.9 489.2 1200.0 492.3 C1205.1 495.4 1209.1 497.9 1214.7 500.3 C1220.2 502.8 1227.6 504.9 1233.3 507.0 C1239.1 509.1 1244.0 511.0 1249.3 513.0 C1254.7 515.0 1260.0 517.1 1265.3 519.0 C1270.7 520.9 1276.4 522.6 1281.3 524.3 C1286.2 526.1 1290.2 527.7 1294.7 529.7 C1299.1 531.7 1303.6 534.1 1308.0 536.3 C1312.4 538.6 1316.9 541.0 1321.3 543.0 C1325.8 545.0 1331.6 547.1 1334.7 548.3 C1337.8 549.6 1339.1 550.0 1340.0 550.3 M1184.0 483.0 C1184.9 485.0 1187.6 491.2 1189.3 495.0 C1191.1 498.8 1192.9 501.9 1194.7 505.7 C1196.4 509.4 1198.2 513.7 1200.0 517.7 C1201.8 521.7 1203.8 526.1 1205.3 529.7 C1206.9 533.2 1208.4 536.4 1209.3 539.0 C1210.3 541.6 1210.8 544.2 1211.1 545.3" stroke-width="2.2"/></g>
<path d="M1101.3 357.3 C1103.3 356.9 1108.7 355.0 1113.3 354.7 C1118.0 354.3 1124.0 354.9 1129.3 355.3 C1134.7 355.8 1140.0 356.8 1145.3 357.3 C1150.7 357.9 1158.7 358.4 1161.3 358.7 M1098.7 366.7 C1101.1 366.7 1108.7 366.3 1113.3 366.7 C1118.0 367.1 1124.4 368.7 1126.7 369.1" fill="none" stroke="#dedfde" stroke-width="2.0" stroke-linecap="round" stroke-linejoin="round"/>
<path d="M1114.7 446.3 C1116.7 447.2 1123.1 449.9 1126.7 451.7 C1130.2 453.4 1134.2 454.3 1136.0 457.0 C1137.8 459.7 1136.7 463.5 1137.3 467.7 C1138.0 471.8 1139.6 479.7 1140.0 482.1 M1149.3 465.0 C1149.6 466.3 1150.0 470.2 1150.7 473.0 C1151.3 475.8 1152.9 480.6 1153.3 482.1" fill="none" stroke="#dedfde" stroke-width="1.3" stroke-linecap="round" stroke-linejoin="round"/>
<path d="M1193.3 265.0 C1192.2 265.4 1189.3 266.3 1186.7 267.7 C1184.0 269.0 1180.4 271.0 1177.3 273.0 C1174.2 275.0 1170.9 277.4 1168.0 279.7 C1165.1 281.9 1161.3 285.2 1160.0 286.3 M1196.7 271.0 C1195.7 271.1 1193.0 271.3 1190.7 271.7 C1188.3 272.0 1184.9 272.3 1182.7 273.0 C1180.4 273.7 1178.2 275.2 1177.3 275.7 M1185.3 279.0 C1184.2 278.9 1180.9 278.2 1178.7 278.3 C1176.4 278.4 1173.8 279.0 1172.0 279.7 C1170.2 280.3 1168.7 281.9 1168.0 282.3 M1164.7 291.7 C1164.3 292.1 1163.4 293.7 1162.7 294.3 C1161.9 295.0 1160.4 295.4 1160.0 295.7 M980.0 264.7 C981.8 265.7 986.2 268.3 990.7 270.7 C995.1 273.0 1000.9 276.2 1006.7 278.7 C1012.4 281.1 1019.1 283.1 1025.3 285.3 C1031.6 287.6 1037.8 289.6 1044.0 292.0 C1050.2 294.4 1056.9 297.6 1062.7 300.0 C1068.4 302.4 1074.0 304.9 1078.7 306.7 C1083.3 308.4 1088.7 310.0 1090.7 310.7 M980.0 281.3 C982.2 281.1 988.4 280.2 993.3 280.0 C998.2 279.8 1004.9 279.6 1009.3 280.0 C1013.8 280.4 1018.2 282.2 1020.0 282.7 M994.7 302.7 C996.7 304.0 1002.4 307.6 1006.7 310.7 C1010.9 313.8 1016.0 318.0 1020.0 321.3 C1024.0 324.7 1027.1 327.3 1030.7 330.7 C1034.2 334.0 1037.8 337.8 1041.3 341.3 C1044.9 344.9 1048.4 348.4 1052.0 352.0 C1055.6 355.6 1060.0 359.8 1062.7 362.7 C1065.3 365.5 1067.1 368.0 1068.0 369.1 M990.9 306.0 C992.0 306.3 995.4 307.6 997.3 308.0 C999.3 308.4 1001.8 308.6 1002.7 308.7 M1020.0 313.3 C1020.9 314.2 1024.0 316.7 1025.3 318.7 C1026.7 320.7 1027.6 324.2 1028.0 325.3 M1057.3 310.0 C1058.9 310.1 1063.1 310.1 1066.7 310.7 C1070.2 311.2 1074.9 312.4 1078.7 313.3 C1082.4 314.2 1086.4 315.1 1089.3 316.0 C1092.2 316.9 1094.9 318.2 1096.0 318.7 M1060.0 306.0 C1060.7 306.6 1062.7 308.6 1064.0 309.3 C1065.3 310.1 1067.3 310.4 1068.0 310.7 M1046.0 322.7 C1047.4 323.1 1051.9 324.4 1054.7 325.3 C1057.4 326.2 1060.2 326.4 1062.7 328.0 C1065.1 329.6 1067.1 331.8 1069.3 334.7 C1071.6 337.6 1073.8 341.6 1076.0 345.3 C1078.2 349.1 1080.4 353.4 1082.7 357.3 C1084.9 361.3 1088.2 367.1 1089.3 369.1 M1049.3 318.0 C1050.0 318.8 1052.0 321.3 1053.3 322.7 C1054.7 324.0 1056.7 325.4 1057.3 326.0 M1062.0 319.3 C1062.6 320.3 1064.3 323.4 1065.3 325.3 C1066.3 327.2 1067.6 329.8 1068.0 330.7 M990.0 334.7 C991.9 335.1 997.2 335.6 1001.3 337.3 C1005.4 339.1 1010.2 342.4 1014.7 345.3 C1019.1 348.2 1024.0 351.8 1028.0 354.7 C1032.0 357.6 1035.6 360.3 1038.7 362.7 C1041.8 365.1 1045.3 368.0 1046.7 369.1 M1015.3 336.7 C1016.6 336.7 1020.1 336.3 1022.7 336.7 C1025.2 337.0 1028.2 337.4 1030.7 338.7 C1033.1 339.9 1036.2 343.1 1037.3 344.0 M1019.3 332.7 C1020.1 333.0 1022.6 333.9 1024.0 334.7 C1025.4 335.4 1027.3 336.9 1028.0 337.3 M1038.7 328.7 C1039.6 329.7 1042.7 332.3 1044.0 334.7 C1045.3 337.0 1046.0 340.7 1046.7 342.7 C1047.3 344.7 1047.8 346.0 1048.0 346.7 M1053.3 341.3 C1054.2 342.7 1057.3 346.7 1058.7 349.3 C1060.0 352.0 1060.2 355.1 1061.3 357.3 C1062.4 359.6 1064.7 361.8 1065.3 362.7 M1005.3 345.3 C1006.4 345.3 1009.8 345.4 1012.0 345.3 C1014.2 345.2 1017.6 344.8 1018.7 344.7 M992.3 353.3 C993.8 353.6 998.0 353.8 1001.3 354.7 C1004.6 355.6 1008.7 357.1 1012.0 358.7 C1015.3 360.2 1018.4 362.3 1021.3 364.0 C1024.2 365.7 1028.0 368.2 1029.3 369.1 M990.7 356.7 L996.0 356.7 M1022.7 355.3 C1023.6 356.3 1026.2 359.4 1028.0 361.3 C1029.8 363.2 1032.4 365.8 1033.3 366.7 M989.1 366.0 C990.2 366.1 993.5 366.2 996.0 366.7 C998.5 367.2 1002.7 368.7 1004.0 369.1 M1180.0 272.0 C1178.2 273.3 1173.1 276.9 1169.3 280.0 C1165.6 283.1 1161.3 287.1 1157.3 290.7 C1153.3 294.2 1149.1 297.8 1145.3 301.3 C1141.6 304.9 1138.2 308.4 1134.7 312.0 C1131.1 315.6 1127.6 319.6 1124.0 322.7 C1120.4 325.8 1116.4 328.7 1113.3 330.7 C1110.2 332.7 1106.7 334.0 1105.3 334.7 M1152.0 283.3 C1151.6 284.3 1150.7 287.2 1149.3 289.3 C1148.0 291.4 1144.9 294.9 1144.0 296.0 M1144.7 284.7 C1144.4 285.7 1143.4 288.8 1143.3 290.7 C1143.2 292.6 1143.9 295.1 1144.0 296.0 M1165.3 291.3 C1164.4 292.0 1162.0 294.4 1160.0 295.3 C1158.0 296.2 1154.4 296.4 1153.3 296.7 M1180.0 278.0 C1179.1 278.3 1176.2 279.6 1174.7 280.0 C1173.1 280.4 1171.3 280.2 1170.7 280.3 M980.0 264.7 C978.9 264.3 975.8 263.7 973.3 262.7 C970.9 261.7 968.0 259.8 965.3 258.7 C962.7 257.6 959.3 256.9 957.3 256.0 C955.3 255.1 954.0 253.8 953.3 253.3 M958.0 264.7 C959.4 264.9 963.9 265.9 966.7 266.0 C969.4 266.1 972.7 265.7 974.7 265.3 C976.7 265.0 978.0 264.2 978.7 264.0 M961.3 252.0 C961.8 252.6 963.1 254.2 964.0 255.3 C964.9 256.4 966.2 258.1 966.7 258.7 M980.0 281.3 C978.9 281.2 975.6 281.1 973.3 280.7 C971.1 280.2 967.8 279.0 966.7 278.7 M966.0 284.0 C967.0 283.7 970.3 282.5 972.0 282.0 C973.7 281.5 975.3 281.2 976.0 281.1 M975.7 447.7 L980.0 447.1 M1000.0 502.0 C998.2 502.8 992.9 505.1 989.3 506.7 C985.8 508.2 982.4 509.7 978.7 511.3 C974.9 513.0 970.7 514.9 966.7 516.7 C962.7 518.4 958.0 520.4 954.7 522.0 C951.3 523.6 949.3 524.4 946.7 526.0 C944.0 527.6 941.1 529.8 938.7 531.3 C936.2 532.9 934.1 534.0 932.0 535.3 C929.9 536.6 927.2 538.4 926.3 539.1 M966.7 505.3 C967.8 505.6 970.9 506.6 973.3 506.7 C975.8 506.8 978.7 506.2 981.3 506.0 C984.0 505.8 988.0 505.4 989.3 505.3 M954.0 513.7 C955.4 513.8 959.7 514.3 962.7 514.0 C965.7 513.7 969.3 512.6 972.0 512.0 C974.7 511.4 977.6 510.9 978.7 510.7 M924.7 526.0 C925.9 526.2 929.4 527.6 932.0 527.3 C934.6 527.1 937.6 525.1 940.0 524.7 C942.4 524.3 945.6 524.9 946.7 524.9 M922.0 533.3 C923.2 533.3 926.8 533.8 929.3 533.3 C931.9 532.9 936.0 531.1 937.3 530.7 M987.3 371.4 C988.3 371.2 991.2 370.5 993.3 370.1 C995.4 369.7 998.9 369.2 1000.0 369.0 M1000.0 369.0 C1001.8 369.9 1006.7 372.6 1010.7 374.3 C1014.7 376.1 1019.1 378.3 1024.0 379.7 C1028.9 381.0 1034.9 382.0 1040.0 382.3 C1045.1 382.7 1052.2 381.8 1054.7 381.7 M1022.4 373.0 C1024.2 373.7 1029.7 375.7 1033.3 377.0 C1036.9 378.3 1040.4 380.2 1044.0 381.0 C1047.6 381.8 1050.2 381.9 1054.7 381.7 C1059.1 381.4 1065.3 380.2 1070.7 379.7 C1076.0 379.1 1084.0 378.6 1086.7 378.3 M1029.3 369.0 C1031.6 370.1 1038.0 374.0 1042.7 375.7 C1047.3 377.3 1054.9 378.4 1057.3 379.0 M1046.7 369.0 C1048.9 369.9 1055.6 372.9 1060.0 374.3 C1064.4 375.8 1069.3 377.0 1073.3 377.7 C1077.3 378.3 1082.2 378.2 1084.0 378.3 M1068.0 369.0 C1069.8 369.9 1075.6 373.0 1078.7 374.3 C1081.8 375.7 1085.3 376.8 1086.7 377.3 M1089.3 369.0 C1089.8 369.7 1091.3 371.7 1092.0 373.0 C1092.7 374.3 1093.1 376.3 1093.3 377.0 M1097.3 371.7 C1099.1 371.6 1104.0 371.2 1108.0 371.0 C1112.0 370.8 1116.4 370.4 1121.3 370.3 C1126.2 370.2 1134.7 370.3 1137.3 370.3 M1097.3 372.3 C1099.6 372.7 1106.2 373.6 1110.7 374.3 C1115.1 375.1 1119.7 376.3 1124.0 377.0 C1128.3 377.7 1134.3 378.3 1136.4 378.6 M1097.3 373.7 C1099.1 374.4 1104.4 376.7 1108.0 378.3 C1111.6 380.0 1115.6 381.3 1118.7 383.7 C1121.8 386.0 1125.3 390.9 1126.7 392.3 M1097.3 375.0 C1098.7 376.2 1102.7 379.8 1105.3 382.3 C1108.0 384.9 1110.8 387.8 1113.3 390.3 C1115.9 392.9 1119.4 396.4 1120.7 397.7 M1097.3 376.3 C1098.2 377.8 1100.9 382.0 1102.7 385.0 C1104.4 388.0 1106.2 391.4 1108.0 394.3 C1109.8 397.2 1112.4 401.0 1113.3 402.3 M1097.3 378.3 C1097.8 379.9 1099.1 384.3 1100.0 387.7 C1100.9 391.0 1101.8 395.3 1102.7 398.3 C1103.6 401.3 1104.9 404.4 1105.3 405.7 M1098.7 373.0 C1101.1 373.9 1107.6 376.6 1113.3 378.3 C1119.1 380.1 1126.7 382.1 1133.3 383.7 C1140.0 385.2 1147.3 386.1 1153.3 387.7 C1159.3 389.2 1164.9 391.4 1169.3 393.0 C1173.8 394.6 1178.2 396.3 1180.0 397.0 M1016.7 392.3 C1019.4 392.2 1027.9 392.1 1033.3 391.7 C1038.8 391.2 1044.0 390.4 1049.3 389.7 C1054.7 388.9 1060.0 387.7 1065.3 387.0 C1070.7 386.3 1076.6 386.0 1081.3 385.7 C1086.1 385.3 1091.9 385.1 1094.0 385.0 M992.9 397.7 C994.3 398.1 997.9 399.7 1001.3 400.3 C1004.7 401.0 1009.1 401.9 1013.3 401.7 C1017.6 401.4 1022.2 400.2 1026.7 399.0 C1031.1 397.8 1035.6 395.8 1040.0 394.3 C1044.4 392.9 1048.9 391.4 1053.3 390.3 C1057.8 389.2 1064.4 388.1 1066.7 387.7 M991.3 402.3 C992.8 402.4 997.2 403.0 1000.0 403.0 C1002.8 403.0 1006.7 402.4 1008.0 402.3 M1006.0 407.7 C1007.4 407.8 1011.9 407.7 1014.7 408.3 C1017.4 409.0 1019.6 410.9 1022.7 411.7 C1025.8 412.4 1028.9 412.9 1033.3 413.0 C1037.8 413.1 1044.0 412.6 1049.3 412.3 C1054.7 412.1 1060.0 412.4 1065.3 411.7 C1070.7 410.9 1076.2 409.2 1081.3 407.7 C1086.4 406.1 1093.6 403.2 1096.0 402.3 M1004.7 413.0 C1005.9 412.9 1009.7 412.9 1012.0 412.3 C1014.3 411.8 1017.6 410.1 1018.7 409.7 M1022.0 415.7 C1023.0 415.3 1026.1 414.1 1028.0 413.7 C1029.9 413.2 1032.4 413.1 1033.3 413.0 M998.4 420.6 C1000.2 420.6 1005.7 420.6 1009.3 420.3 C1012.9 420.1 1016.0 419.3 1020.0 419.0 C1024.0 418.7 1028.4 418.6 1033.3 418.3 C1038.2 418.1 1044.0 418.3 1049.3 417.7 C1054.7 417.0 1061.3 415.3 1065.3 414.3 C1069.3 413.3 1072.0 412.1 1073.3 411.7 M1000.0 423.7 C1001.1 423.3 1004.4 422.1 1006.7 421.7 C1008.9 421.2 1012.2 421.1 1013.3 421.0 M1002.9 429.7 C1004.9 429.3 1010.0 428.7 1014.7 427.7 C1019.3 426.7 1025.3 424.8 1030.7 423.7 C1036.0 422.6 1041.3 422.0 1046.7 421.0 C1052.0 420.0 1057.3 418.9 1062.7 417.7 C1068.0 416.4 1073.8 415.1 1078.7 413.7 C1083.6 412.2 1088.7 410.4 1092.0 409.0 C1095.3 407.6 1097.6 405.7 1098.7 405.0 M1005.1 434.6 C1006.0 434.0 1008.6 432.0 1010.7 431.0 C1012.7 430.0 1016.2 428.8 1017.3 428.3 M980.0 447.1 C981.8 446.6 986.7 445.4 990.7 443.7 C994.7 442.0 999.1 438.8 1004.0 437.0 C1008.9 435.2 1014.7 434.0 1020.0 433.0 C1025.3 432.0 1030.7 431.7 1036.0 431.0 C1041.3 430.3 1046.7 429.9 1052.0 429.0 C1057.3 428.1 1062.7 427.0 1068.0 425.7 C1073.3 424.3 1078.7 423.1 1084.0 421.0 C1089.3 418.9 1097.3 414.3 1100.0 413.0 M980.0 453.0 C980.9 452.1 983.6 449.1 985.3 447.7 C987.1 446.2 989.8 444.9 990.7 444.3 M1017.6 443.1 C1018.7 442.6 1022.3 441.1 1024.0 439.7 C1025.7 438.2 1026.9 435.6 1028.0 434.3 C1029.1 433.1 1030.2 432.7 1030.7 432.3 M1051.1 437.0 C1052.1 436.6 1055.6 435.4 1057.3 434.3 C1059.0 433.2 1060.2 431.4 1061.3 430.3 C1062.4 429.2 1063.6 428.1 1064.0 427.7 M1004.7 451.0 C1006.3 450.7 1010.8 450.0 1014.7 449.0 C1018.6 448.0 1023.1 446.1 1028.0 445.0 C1032.9 443.9 1038.7 442.9 1044.0 442.3 C1049.3 441.8 1054.7 442.2 1060.0 441.7 C1065.3 441.1 1070.7 440.2 1076.0 439.0 C1081.3 437.8 1087.3 436.0 1092.0 434.3 C1096.7 432.7 1102.0 429.9 1104.0 429.0 M1007.3 456.6 C1008.1 455.9 1010.3 453.6 1012.0 452.3 C1013.7 451.1 1016.4 449.6 1017.3 449.0 M1040.3 452.1 C1041.8 452.4 1046.0 453.7 1049.3 454.3 C1052.6 454.9 1056.0 455.8 1060.0 455.7 C1064.0 455.6 1068.9 454.6 1073.3 453.7 C1077.8 452.8 1082.2 451.8 1086.7 450.3 C1091.1 448.9 1096.7 446.4 1100.0 445.0 C1103.3 443.6 1105.6 442.2 1106.7 441.7 M1015.7 463.4 C1017.3 463.2 1022.0 463.2 1025.3 462.3 C1028.7 461.5 1032.4 459.4 1036.0 458.3 C1039.6 457.2 1043.1 456.2 1046.7 455.7 C1050.2 455.2 1055.6 455.4 1057.3 455.4 M1018.4 469.9 C1019.3 469.1 1022.2 466.3 1024.0 465.0 C1025.8 463.7 1028.4 462.8 1029.3 462.3 M1046.0 466.3 C1047.4 466.2 1051.9 466.3 1054.7 465.7 C1057.4 465.0 1060.0 463.8 1062.7 462.3 C1065.3 460.9 1069.3 457.9 1070.7 457.0 M1048.7 471.7 C1049.7 471.3 1052.6 470.9 1054.7 469.7 C1056.8 468.4 1060.2 465.2 1061.3 464.3 M1042.7 482.1 C1044.7 481.4 1050.0 479.8 1054.7 478.3 C1059.3 476.8 1065.3 475.2 1070.7 473.0 C1076.0 470.8 1081.8 467.4 1086.7 465.0 C1091.6 462.6 1096.0 460.3 1100.0 458.3 C1104.0 456.3 1108.9 453.9 1110.7 453.0 M1106.7 425.0 C1108.9 425.7 1114.9 427.7 1120.0 429.0 C1125.1 430.3 1131.8 432.0 1137.3 433.0 C1142.9 434.0 1148.4 434.9 1153.3 435.0 C1158.2 435.1 1163.4 434.1 1166.7 433.7 C1170.0 433.2 1172.0 432.6 1173.1 432.3 M1153.3 435.0 C1155.6 435.2 1162.2 435.9 1166.7 436.3 C1171.1 436.8 1177.8 437.4 1180.0 437.7 M1110.7 434.3 C1112.9 435.0 1120.0 437.2 1124.0 438.3 C1128.0 439.4 1131.1 440.6 1134.7 441.0 C1138.2 441.4 1143.6 441.0 1145.3 441.0 M1126.7 439.0 C1128.2 440.0 1132.9 443.6 1136.0 445.0 C1139.1 446.4 1143.6 447.2 1145.1 447.7 M1004.0 485.3 C1005.6 485.4 1010.2 485.3 1013.3 486.0 C1016.4 486.7 1020.2 488.4 1022.7 489.3 C1025.1 490.2 1027.1 491.0 1028.0 491.3 M989.6 488.0 C991.3 488.6 996.5 490.1 1000.0 491.3 C1003.5 492.6 1008.9 494.7 1010.7 495.3 M986.4 492.7 C987.8 492.8 992.0 492.9 994.7 493.3 C997.4 493.8 1001.3 495.0 1002.7 495.3 M982.0 500.0 C983.9 499.8 989.2 499.0 993.3 498.7 C997.4 498.3 1002.2 498.9 1006.7 498.0 C1011.1 497.1 1015.6 495.0 1020.0 493.3 C1024.4 491.7 1029.6 489.7 1033.3 488.0 C1037.1 486.3 1040.4 484.3 1042.7 483.3 C1044.9 482.3 1046.0 482.2 1046.7 482.0 M1000.0 502.0 C1001.6 501.3 1005.1 499.7 1009.3 498.0 C1013.6 496.3 1022.7 493.0 1025.3 492.0 M1032.0 484.0 C1033.1 483.9 1036.7 483.7 1038.7 483.3 C1040.7 483.0 1043.1 482.2 1044.0 482.0 M1141.3 482.0 C1141.4 483.3 1142.0 487.1 1142.0 490.0 C1142.0 492.9 1141.2 497.8 1141.1 499.3 M1143.3 482.0 C1144.1 483.8 1146.6 489.3 1148.0 492.7 C1149.4 496.0 1151.2 497.8 1152.0 502.0 C1152.8 506.2 1152.6 515.3 1152.7 518.0 M1152.0 502.0 C1153.1 503.1 1156.8 506.7 1158.7 508.7 C1160.6 510.7 1162.6 513.1 1163.3 514.0 M1181.3 359.6 C1180.0 359.7 1176.9 360.7 1173.3 360.4 C1169.8 360.1 1162.2 358.4 1160.0 358.0 M1212.4 364.0 C1211.2 364.3 1208.5 365.6 1205.3 366.0 C1202.2 366.4 1197.6 366.7 1193.3 366.7 C1189.1 366.7 1184.4 366.4 1180.0 366.0 C1175.6 365.6 1170.0 364.7 1166.7 364.0 C1163.3 363.3 1161.1 362.3 1160.0 362.0 M1211.3 369.7 C1210.6 369.6 1208.1 369.2 1206.7 368.7 C1205.2 368.2 1203.3 367.0 1202.7 366.7 M1160.0 390.7 C1162.2 391.4 1168.9 393.7 1173.3 395.3 C1177.8 397.0 1182.9 399.1 1186.7 400.7 C1190.4 402.2 1193.1 402.4 1196.0 404.7 C1198.9 406.9 1202.7 412.4 1204.0 414.0 M1198.7 406.0 C1199.8 406.4 1203.7 407.8 1205.3 408.7 C1207.0 409.6 1208.1 410.9 1208.7 411.3 M1180.0 437.7 C1183.3 438.1 1194.2 439.2 1200.0 440.1 C1205.8 441.0 1209.1 442.3 1214.7 443.0 C1220.2 443.7 1228.0 444.0 1233.3 444.3 C1238.7 444.7 1243.1 445.1 1246.7 445.0 C1250.2 444.9 1253.3 444.1 1254.7 443.9 M1241.3 445.7 C1242.4 446.2 1246.0 448.0 1248.0 449.0 C1250.0 450.0 1252.4 451.4 1253.3 451.9 M1206.7 441.0 C1208.2 441.7 1213.3 443.8 1216.0 445.0 C1218.7 446.2 1220.7 447.2 1222.7 448.3 C1224.6 449.5 1226.8 451.3 1227.6 451.9 M1149.3 465.7 C1149.6 467.4 1149.6 472.6 1150.7 476.3 C1151.8 480.1 1153.8 484.1 1156.0 488.3 C1158.2 492.6 1161.1 497.2 1164.0 501.7 C1166.9 506.1 1170.7 510.8 1173.3 515.0 C1176.0 519.2 1178.2 522.8 1180.0 527.0 C1181.8 531.2 1183.1 536.2 1184.0 540.3 C1184.9 544.5 1185.1 550.1 1185.3 552.1 M1180.0 527.0 C1181.1 528.1 1184.6 531.8 1186.7 533.7 C1188.8 535.6 1191.7 537.6 1192.7 538.3 M1185.3 543.0 C1186.0 543.7 1187.9 545.8 1189.3 547.0 C1190.7 548.2 1193.0 549.4 1193.7 549.9" fill="none" stroke="#c3c5c3" stroke-width="1.5" stroke-linecap="round" stroke-linejoin="round"/>
<path d="M1036.0 384.5 C1040.0 383.9 1052.7 382.2 1060.0 381.3 C1067.3 380.4 1074.3 379.5 1080.0 379.0 C1085.7 378.5 1091.7 378.2 1094.0 378.1" fill="none" stroke="#c4bfb0" stroke-width="2.6" stroke-linecap="round" stroke-linejoin="round"/>
<path d="M1111.3 439.7 C1112.6 441.0 1115.7 445.0 1118.7 447.7 C1121.7 450.3 1127.6 454.3 1129.3 455.7" fill="none" stroke="#9cc3b4" stroke-width="3.0" stroke-linecap="round" stroke-linejoin="round"/>
<path d="M1148.0 538.0 L1156.0 554.0" fill="none" stroke="#aeabc8" stroke-width="2.4" stroke-linecap="round" stroke-linejoin="round"/>
<path d="M1070.7 256.0 C1071.8 257.8 1075.3 262.7 1077.3 266.7 C1079.3 270.7 1080.9 275.3 1082.7 280.0 C1084.4 284.7 1086.2 289.8 1088.0 294.7 C1089.8 299.6 1091.6 304.7 1093.3 309.3 C1095.1 314.0 1097.3 318.7 1098.7 322.7 C1100.0 326.7 1100.8 330.0 1101.3 333.3 C1101.9 336.7 1102.1 339.1 1102.0 342.7 C1101.9 346.2 1101.4 351.3 1100.7 354.7 C1099.9 358.0 1098.1 360.3 1097.3 362.7 C1096.6 365.1 1096.2 368.0 1096.0 369.1 M1096.0 369.0 C1095.7 370.3 1094.2 374.1 1094.0 377.0 C1093.8 379.9 1094.1 382.8 1094.7 386.3 C1095.2 389.9 1096.2 393.9 1097.3 398.3 C1098.4 402.8 1100.0 408.1 1101.3 413.0 C1102.7 417.9 1104.0 423.0 1105.3 427.7 C1106.7 432.3 1108.0 436.6 1109.3 441.0 C1110.7 445.4 1112.0 449.9 1113.3 454.3 C1114.7 458.8 1116.0 463.0 1117.3 467.7 C1118.7 472.3 1120.7 479.7 1121.3 482.1" fill="none" stroke="#bebbc7" stroke-width="3.1" stroke-linecap="round" stroke-linejoin="round"/>
<path d="M1121.3 482.0 C1122.2 483.8 1124.7 488.7 1126.7 492.7 C1128.7 496.7 1131.1 501.3 1133.3 506.0 C1135.6 510.7 1137.6 515.3 1140.0 520.7 C1142.4 526.0 1146.7 535.1 1148.0 538.0" fill="none" stroke="#bebbc7" stroke-width="2.5" stroke-linecap="round" stroke-linejoin="round"/>
<path d="M1100.7 328.7 C1101.9 327.2 1105.0 323.7 1108.0 320.0 C1111.0 316.3 1115.6 310.9 1118.7 306.7 C1121.8 302.4 1123.8 298.7 1126.7 294.7 C1129.6 290.7 1132.4 286.4 1136.0 282.7 C1139.6 278.9 1144.0 275.1 1148.0 272.0 C1152.0 268.9 1156.0 266.7 1160.0 264.0 C1164.0 261.3 1170.0 257.3 1172.0 256.0" fill="none" stroke="#b59ba7" stroke-width="2.6" stroke-linecap="round" stroke-linejoin="round"/>
<path d="M1144.3 162.3 C1143.6 163.3 1141.4 166.8 1140.0 168.3 C1138.6 169.9 1136.8 169.2 1136.0 171.7 C1135.2 174.1 1135.6 178.4 1135.3 183.0 C1135.1 187.6 1135.2 193.7 1134.7 199.0 C1134.1 204.3 1133.1 209.7 1132.0 215.0 C1130.9 220.3 1129.3 226.1 1128.0 231.0 C1126.7 235.9 1125.3 240.2 1124.0 244.3 C1122.7 248.5 1120.7 254.1 1120.0 256.1 M1134.0 164.3 L1135.3 171.7 M1127.1 187.4 C1127.7 188.4 1130.0 191.1 1130.7 193.7 C1131.4 196.3 1131.1 199.9 1131.3 203.0 C1131.6 206.1 1131.9 210.8 1132.0 212.3 M1110.0 196.1 C1110.6 197.4 1112.4 200.7 1113.3 204.3 C1114.2 207.9 1115.0 212.8 1115.3 217.7 C1115.7 222.6 1115.7 228.8 1115.3 233.7 C1115.0 238.6 1113.9 243.3 1113.3 247.0 C1112.8 250.7 1112.2 254.6 1112.0 256.1 M1118.0 193.4 C1117.8 194.6 1117.2 198.1 1116.7 200.3 C1116.1 202.6 1115.0 205.9 1114.7 207.0 M1106.7 221.7 C1107.2 222.8 1109.3 225.4 1110.0 228.3 C1110.7 231.2 1110.4 235.4 1110.7 239.0 C1110.9 242.6 1111.2 247.9 1111.3 249.7 M1125.3 208.6 C1125.8 209.7 1127.6 212.6 1128.0 215.0 C1128.4 217.4 1127.8 220.8 1128.0 223.0 C1128.2 225.2 1129.1 227.4 1129.3 228.3 M1123.3 228.3 C1123.6 229.7 1124.6 233.9 1124.7 236.3 C1124.8 238.8 1124.1 241.9 1124.0 243.0 M1147.7 201.4 C1147.2 203.2 1145.5 208.3 1144.7 212.3 C1143.8 216.4 1143.2 221.2 1142.7 225.7 C1142.1 230.1 1141.8 233.9 1141.3 239.0 C1140.9 244.1 1140.2 253.2 1140.0 256.1 M1153.1 204.3 C1152.4 205.2 1150.4 207.9 1149.3 209.7 C1148.3 211.4 1147.4 212.8 1146.7 215.0 C1145.9 217.2 1145.0 221.7 1144.7 223.0 M1160.3 202.3 C1159.1 204.0 1155.0 208.9 1153.3 212.3 C1151.6 215.8 1150.9 219.0 1150.0 223.0 C1149.1 227.0 1149.0 231.9 1148.0 236.3 C1147.0 240.8 1145.0 246.4 1144.0 249.7 C1143.0 253.0 1142.3 255.0 1142.0 256.1 M1165.3 207.7 C1164.2 208.2 1160.7 209.6 1158.7 211.0 C1156.7 212.4 1154.2 215.4 1153.3 216.3 M1173.3 182.6 C1173.1 184.9 1173.1 191.4 1172.0 196.3 C1170.9 201.3 1168.4 207.0 1166.7 212.3 C1164.9 217.7 1163.1 223.4 1161.3 228.3 C1159.6 233.2 1158.0 237.0 1156.0 241.7 C1154.0 246.3 1150.4 253.7 1149.3 256.1 M1180.0 207.0 C1178.9 208.8 1175.6 214.6 1173.3 217.7 C1171.1 220.8 1168.2 223.4 1166.7 225.7 C1165.1 227.9 1164.4 230.1 1164.0 231.0 M1138.4 241.4 C1138.0 242.6 1136.8 245.9 1136.0 248.3 C1135.2 250.8 1133.8 254.8 1133.3 256.1 M1132.0 240.3 L1133.3 248.3 M1101.5 244.7 C1101.9 245.6 1103.4 247.8 1104.0 249.7 C1104.6 251.6 1105.1 255.0 1105.3 256.1 M1225.6 109.6 C1225.7 110.7 1226.9 113.6 1226.0 116.0 C1225.1 118.4 1222.6 120.4 1220.0 124.0 C1217.4 127.6 1213.8 132.9 1210.7 137.3 C1207.6 141.8 1204.2 146.4 1201.3 150.7 C1198.4 154.9 1196.0 158.4 1193.3 162.7 C1190.7 166.9 1188.0 171.3 1185.3 176.0 C1182.7 180.7 1179.4 187.1 1177.3 190.7 C1175.2 194.2 1173.4 196.2 1172.7 197.3 M1236.7 116.0 C1235.4 116.3 1231.7 116.9 1229.3 118.0 C1227.0 119.1 1223.8 121.9 1222.7 122.7 M1225.3 131.3 C1224.0 131.6 1219.8 131.4 1217.3 132.7 C1214.9 133.9 1211.8 137.7 1210.7 138.7 M1198.4 136.7 C1198.8 137.7 1200.7 140.6 1200.7 142.7 C1200.6 144.8 1198.7 147.3 1198.0 149.3 C1197.3 151.3 1196.9 153.8 1196.7 154.7 M1205.3 162.7 C1204.4 162.3 1201.6 160.4 1200.0 160.7 C1198.4 160.9 1197.2 162.6 1196.0 164.0 C1194.8 165.4 1193.2 168.4 1192.7 169.3 M1204.7 164.7 C1203.7 164.8 1200.3 164.6 1198.7 165.3 C1197.0 166.1 1195.3 168.7 1194.7 169.3 M1200.0 186.0 C1199.1 186.3 1195.8 186.3 1194.7 188.0 C1193.6 189.7 1193.2 193.6 1193.3 196.0 C1193.4 198.4 1195.0 201.6 1195.3 202.7 M1222.4 183.3 C1221.3 183.7 1217.7 184.1 1216.0 185.3 C1214.3 186.6 1213.8 188.9 1212.0 190.7 C1210.2 192.4 1207.8 194.0 1205.3 196.0 C1202.9 198.0 1199.8 200.2 1197.3 202.7 C1194.9 205.1 1192.1 208.9 1190.7 210.7 C1189.2 212.4 1189.0 212.7 1188.7 213.1 M1216.7 181.3 L1213.3 186.7 M1210.7 198.7 C1209.3 198.8 1204.9 198.7 1202.7 199.3 C1200.4 200.0 1198.2 202.1 1197.3 202.7 M1238.9 172.8 C1238.7 173.8 1238.7 176.1 1237.3 178.7 C1236.0 181.2 1233.1 184.9 1230.7 188.0 C1228.2 191.1 1225.6 194.2 1222.7 197.3 C1219.8 200.4 1215.8 204.0 1213.3 206.7 C1210.9 209.3 1208.9 212.0 1208.0 213.1 M1246.4 178.0 C1245.6 178.2 1242.8 178.8 1241.3 179.3 C1239.8 179.9 1238.0 181.0 1237.3 181.3 M1247.6 195.3 C1246.3 195.6 1242.6 196.2 1240.0 196.7 C1237.4 197.1 1234.7 197.0 1232.0 198.0 C1229.3 199.0 1226.2 201.2 1224.0 202.7 C1221.8 204.1 1219.6 206.0 1218.7 206.7 M1248.3 200.7 C1247.3 200.4 1244.0 199.8 1242.7 199.3 C1241.3 198.9 1240.4 198.2 1240.0 198.0 M1232.7 196.0 C1231.7 196.1 1228.3 196.1 1226.7 196.7 C1225.0 197.2 1223.3 198.9 1222.7 199.3 M1234.4 205.7 C1233.3 205.7 1230.2 205.0 1228.0 205.3 C1225.8 205.7 1223.3 206.7 1221.3 208.0 C1219.3 209.3 1216.9 212.2 1216.0 213.1 M1237.3 209.7 C1236.4 209.7 1233.8 209.5 1232.0 209.3 C1230.2 209.2 1227.6 208.8 1226.7 208.7 M1177.3 206.7 C1176.7 207.1 1174.4 208.3 1173.3 209.3 C1172.2 210.4 1171.1 212.4 1170.7 213.1 M1184.7 206.7 C1183.9 207.1 1181.4 208.3 1180.0 209.3 C1178.6 210.4 1176.7 212.4 1176.0 213.1 M1220.7 215.0 C1219.4 215.6 1216.1 216.9 1213.3 218.3 C1210.6 219.8 1207.3 221.2 1204.0 223.7 C1200.7 226.1 1196.9 229.7 1193.3 233.0 C1189.8 236.3 1186.2 239.7 1182.7 243.7 C1179.1 247.7 1175.1 253.2 1172.0 257.0 C1168.9 260.8 1166.0 264.1 1164.0 266.3 C1162.0 268.6 1160.7 269.7 1160.0 270.3 M1223.3 219.0 C1222.1 219.3 1218.3 220.3 1216.0 221.0 C1213.7 221.7 1210.4 222.7 1209.3 223.0 M1217.3 226.7 C1216.0 226.9 1212.2 226.8 1209.3 227.7 C1206.4 228.5 1202.7 230.3 1200.0 231.7 C1197.3 233.0 1194.4 235.0 1193.3 235.7 M1216.0 237.4 C1215.1 237.0 1213.1 235.1 1210.7 235.0 C1208.2 234.9 1204.2 235.8 1201.3 237.0 C1198.4 238.2 1196.0 240.8 1193.3 242.3 C1190.7 243.9 1187.6 245.4 1185.3 246.3 C1183.1 247.3 1180.9 247.7 1180.0 247.9 M1208.0 213.0 C1206.2 214.8 1200.9 219.9 1197.3 223.7 C1193.8 227.4 1190.2 231.7 1186.7 235.7 C1183.1 239.7 1179.3 243.7 1176.0 247.7 C1172.7 251.7 1169.3 256.6 1166.7 259.7 C1164.0 262.8 1161.1 265.2 1160.0 266.3 M1188.7 213.0 C1187.2 214.6 1183.0 219.0 1180.0 222.3 C1177.0 225.7 1173.3 230.1 1170.7 233.0 C1168.0 235.9 1165.8 237.9 1164.0 239.7 C1162.2 241.4 1161.6 242.0 1160.0 243.7 C1158.4 245.3 1155.6 248.7 1154.7 249.7 M1216.0 213.0 C1214.4 214.1 1209.3 217.4 1206.7 219.7 C1204.0 221.9 1201.1 225.2 1200.0 226.3 M1092.0 260.7 C1092.2 261.7 1093.6 264.1 1093.3 266.7 C1093.1 269.2 1091.8 273.1 1090.7 276.0 C1089.6 278.9 1087.6 281.8 1086.7 284.0 C1085.8 286.2 1085.6 288.4 1085.3 289.3 M1098.0 268.7 C1097.9 269.9 1098.1 273.4 1097.3 276.0 C1096.6 278.6 1094.7 281.6 1093.3 284.0 C1092.0 286.4 1090.0 289.6 1089.3 290.7 M1102.0 277.3 C1101.7 278.4 1101.2 281.8 1100.0 284.0 C1098.8 286.2 1096.2 288.7 1094.7 290.7 C1093.1 292.7 1091.3 295.1 1090.7 296.0 M1101.3 295.3 C1101.8 296.3 1103.7 299.0 1104.0 301.3 C1104.3 303.7 1103.3 306.9 1103.3 309.3 C1103.3 311.8 1103.9 314.9 1104.0 316.0 M1105.3 256.0 C1105.4 258.2 1105.6 264.9 1106.0 269.3 C1106.4 273.8 1107.3 277.8 1108.0 282.7 C1108.7 287.6 1109.4 293.8 1110.0 298.7 C1110.6 303.6 1111.7 308.4 1111.3 312.0 C1111.0 315.6 1109.7 317.3 1108.0 320.0 C1106.3 322.7 1102.4 326.7 1101.3 328.0 M1112.0 256.0 C1111.9 257.3 1111.8 261.3 1111.3 264.0 C1110.9 266.7 1109.8 268.9 1109.3 272.0 C1108.8 275.1 1108.4 280.9 1108.3 282.7 M1120.0 256.0 C1119.7 258.2 1118.7 264.9 1118.0 269.3 C1117.3 273.8 1116.2 278.2 1116.0 282.7 C1115.8 287.1 1116.2 292.2 1116.7 296.0 C1117.1 299.8 1119.2 302.4 1118.7 305.3 C1118.1 308.2 1114.2 312.0 1113.3 313.3 M1132.0 256.0 C1130.7 257.8 1126.2 263.1 1124.0 266.7 C1121.8 270.2 1119.9 274.0 1118.7 277.3 C1117.4 280.7 1117.0 285.1 1116.7 286.7 M1140.0 256.0 C1139.8 257.8 1139.6 262.2 1138.7 266.7 C1137.8 271.1 1136.7 278.0 1134.7 282.7 C1132.7 287.3 1128.0 292.7 1126.7 294.7 M1149.3 256.0 C1148.2 258.0 1144.9 263.8 1142.7 268.0 C1140.4 272.2 1137.1 279.1 1136.0 281.3 M1160.0 270.3 C1158.9 271.0 1155.8 273.2 1153.3 274.7 C1150.9 276.2 1148.0 277.7 1145.3 279.3 C1142.7 281.0 1138.7 283.8 1137.3 284.7" fill="none" stroke="#b59ba7" stroke-width="1.9" stroke-linecap="round" stroke-linejoin="round"/>
<path d="M1180.0 298.7 C1178.2 299.8 1172.9 302.9 1169.3 305.3 C1165.8 307.8 1161.8 310.4 1158.7 313.3 C1155.6 316.2 1153.3 319.8 1150.7 322.7 C1148.0 325.6 1145.6 328.4 1142.7 330.7 C1139.8 332.9 1137.1 334.7 1133.3 336.0 C1129.6 337.3 1124.9 338.1 1120.0 338.7 C1115.1 339.2 1106.7 339.2 1104.0 339.3" fill="none" stroke="#94a655" stroke-width="2.2" stroke-linecap="round" stroke-linejoin="round"/>
<path d="M1257.1 233.3 C1257.2 234.3 1258.3 237.3 1258.0 239.7 C1257.7 242.1 1257.0 245.0 1255.3 247.7 C1253.7 250.3 1250.6 253.4 1248.0 255.7 C1245.4 257.9 1242.7 258.8 1240.0 261.0 C1237.3 263.2 1234.7 266.1 1232.0 269.0 C1229.3 271.9 1227.1 275.7 1224.0 278.3 C1220.9 281.0 1217.3 282.8 1213.3 285.0 C1209.3 287.2 1204.4 289.4 1200.0 291.7 C1195.6 293.9 1191.1 295.9 1186.7 298.3 C1182.2 300.8 1177.8 303.9 1173.3 306.3 C1168.9 308.8 1162.2 311.9 1160.0 313.0 M1266.0 235.0 C1265.4 236.0 1263.9 239.1 1262.7 241.0 C1261.4 242.9 1259.9 245.0 1258.7 246.3 C1257.4 247.7 1255.9 248.6 1255.3 249.0 M1245.3 245.4 C1245.1 246.4 1244.8 249.5 1244.0 251.7 C1243.2 253.8 1241.2 257.2 1240.7 258.3 M1273.6 241.4 C1272.4 242.7 1269.4 246.4 1266.7 249.0 C1264.0 251.6 1260.7 254.1 1257.3 257.0 C1254.0 259.9 1250.4 263.4 1246.7 266.3 C1242.9 269.2 1238.2 272.2 1234.7 274.3 C1231.1 276.4 1226.9 278.2 1225.3 279.0 M1280.0 246.7 C1278.9 246.9 1275.3 247.3 1273.3 247.7 C1271.3 248.0 1268.9 248.8 1268.0 249.0 M1258.0 265.0 C1257.0 265.1 1254.1 265.2 1252.0 265.7 C1249.9 266.1 1246.4 267.3 1245.3 267.7 M1216.0 278.3 C1215.6 279.0 1214.9 280.9 1213.3 282.3 C1211.8 283.8 1207.8 286.2 1206.7 287.0 M1190.0 289.0 C1189.4 289.7 1188.3 291.4 1186.7 293.0 C1185.0 294.6 1182.4 296.6 1180.0 298.3 C1177.6 300.1 1173.3 302.8 1172.0 303.7 M1230.7 291.7 C1229.8 292.3 1227.6 294.1 1225.3 295.7 C1223.1 297.2 1220.4 299.0 1217.3 301.0 C1214.2 303.0 1210.4 305.4 1206.7 307.7 C1202.9 309.9 1198.9 312.3 1194.7 314.3 C1190.4 316.3 1185.8 317.7 1181.3 319.7 C1176.9 321.6 1170.2 325.0 1168.0 326.1 M1224.7 289.0 C1224.3 289.9 1223.7 292.6 1222.7 294.3 C1221.7 296.1 1219.3 298.8 1218.7 299.7 M1234.0 299.0 C1232.8 299.1 1229.2 299.2 1226.7 299.7 C1224.1 300.1 1220.0 301.3 1218.7 301.7 M1234.0 303.0 C1232.8 302.9 1229.0 302.5 1226.7 302.6 C1224.3 302.7 1221.1 303.5 1220.0 303.7 M1360.0 258.3 C1358.2 259.2 1353.1 261.9 1349.3 263.7 C1345.6 265.4 1341.6 267.2 1337.3 269.0 C1333.1 270.8 1328.4 273.0 1324.0 274.3 C1319.6 275.7 1314.9 276.2 1310.7 277.0 C1306.4 277.8 1302.4 278.1 1298.7 279.0 C1294.9 279.9 1291.6 280.9 1288.0 282.3 C1284.4 283.8 1280.9 285.7 1277.3 287.7 C1273.8 289.7 1270.7 292.1 1266.7 294.3 C1262.7 296.6 1257.8 299.0 1253.3 301.0 C1248.9 303.0 1244.9 304.3 1240.0 306.3 C1235.1 308.3 1229.3 311.0 1224.0 313.0 C1218.7 315.0 1213.3 316.8 1208.0 318.3 C1202.7 319.9 1197.1 321.0 1192.0 322.3 C1186.9 323.6 1179.8 325.4 1177.3 326.1 M1295.1 262.3 C1295.1 263.4 1295.8 266.8 1295.3 269.0 C1294.8 271.2 1293.0 273.9 1292.0 275.7 C1291.0 277.4 1289.8 279.0 1289.3 279.7 M1316.0 254.1 C1314.9 254.8 1311.8 256.5 1309.3 258.3 C1306.9 260.2 1303.6 262.8 1301.3 265.0 C1299.1 267.2 1297.6 269.7 1296.0 271.7 C1294.4 273.7 1292.7 276.1 1292.0 277.0 M1320.0 260.1 C1318.9 260.4 1315.6 261.5 1313.3 262.3 C1311.1 263.2 1308.9 263.9 1306.7 265.0 C1304.4 266.1 1301.1 268.3 1300.0 269.0 M1314.4 267.7 C1313.1 267.9 1309.1 268.4 1306.7 269.0 C1304.3 269.6 1301.1 270.7 1300.0 271.0 M1338.4 258.6 C1337.3 259.2 1334.0 260.8 1332.0 262.3 C1330.0 263.8 1328.2 265.9 1326.7 267.7 C1325.1 269.4 1323.3 272.1 1322.7 273.0 M1342.4 262.3 C1341.1 262.7 1336.8 263.7 1334.7 264.3 C1332.5 265.0 1330.2 266.0 1329.3 266.3 M1357.1 255.9 C1356.2 256.6 1353.7 258.4 1352.0 259.7 C1350.3 261.0 1347.6 263.0 1346.7 263.7 M1356.0 270.3 C1354.4 270.1 1349.6 269.1 1346.7 269.0 C1343.8 268.9 1340.0 269.6 1338.7 269.7 M1360.0 278.3 C1357.8 278.4 1351.1 278.7 1346.7 279.0 C1342.2 279.3 1337.8 279.8 1333.3 280.3 C1328.9 280.9 1324.4 281.6 1320.0 282.3 C1315.6 283.1 1311.1 284.0 1306.7 285.0 C1302.2 286.0 1297.8 287.2 1293.3 288.3 C1288.9 289.4 1283.8 290.8 1280.0 291.7 C1276.2 292.6 1272.2 293.3 1270.7 293.7 M1344.0 285.4 C1342.7 285.0 1338.7 283.5 1336.0 283.0 C1333.3 282.5 1329.3 282.4 1328.0 282.3 M1322.7 286.3 C1321.3 286.2 1317.3 285.8 1314.7 285.7 C1312.0 285.6 1308.0 285.7 1306.7 285.7 M1338.4 295.7 C1337.1 295.4 1333.7 294.8 1330.7 294.3 C1327.6 293.8 1324.0 293.0 1320.0 292.7 C1316.0 292.5 1311.1 293.0 1306.7 293.0 C1302.2 293.0 1297.1 293.0 1293.3 292.7 C1289.6 292.5 1285.6 291.8 1284.0 291.7 M1336.7 301.7 C1335.4 301.0 1331.7 298.9 1329.3 297.7 C1327.0 296.4 1323.8 294.9 1322.7 294.3 M1267.3 301.4 C1266.3 301.6 1263.7 302.0 1261.3 302.3 C1259.0 302.7 1255.8 303.2 1253.3 303.7 C1250.9 304.1 1247.8 304.8 1246.7 305.0 M1267.3 306.3 C1266.3 306.1 1263.7 305.3 1261.3 305.0 C1259.0 304.7 1254.7 304.4 1253.3 304.3 M1295.3 309.3 C1294.1 309.7 1291.4 311.2 1288.0 311.7 C1284.6 312.2 1279.6 312.0 1274.7 312.3 C1269.8 312.7 1264.0 313.0 1258.7 313.7 C1253.3 314.3 1248.0 315.6 1242.7 316.3 C1237.3 317.1 1232.0 317.8 1226.7 318.3 C1221.3 318.9 1213.3 319.4 1210.7 319.7 M1293.3 314.3 C1292.2 314.1 1288.9 313.3 1286.7 313.0 C1284.4 312.7 1281.1 312.4 1280.0 312.3 M1277.6 316.1 C1276.7 315.9 1274.3 315.3 1272.0 315.0 C1269.7 314.7 1265.3 314.4 1264.0 314.3 M1290.7 320.3 C1288.9 320.6 1283.6 321.1 1280.0 321.7 C1276.4 322.2 1272.4 322.9 1269.3 323.7 C1266.2 324.4 1262.7 325.7 1261.3 326.1 M1292.7 325.0 C1291.7 324.8 1288.8 324.1 1286.7 323.7 C1284.6 323.2 1281.1 322.6 1280.0 322.3 M1362.9 261.7 C1362.0 261.8 1359.2 261.7 1357.3 262.0 C1355.5 262.3 1352.9 263.1 1352.0 263.3 M1360.0 275.6 C1359.1 276.0 1356.9 277.2 1354.7 277.7 C1352.4 278.3 1348.0 278.8 1346.7 279.1 M1360.0 283.1 C1359.1 282.8 1356.7 281.8 1354.7 281.3 C1352.7 280.8 1349.1 280.2 1348.0 280.0 M1318.0 324.7 C1317.4 325.3 1317.0 327.7 1314.7 328.7 C1312.3 329.7 1308.0 330.1 1304.0 330.7 C1300.0 331.2 1295.1 332.0 1290.7 332.0 C1286.2 332.0 1282.2 331.1 1277.3 330.7 C1272.4 330.2 1266.2 329.7 1261.3 329.3 C1256.4 329.0 1250.2 328.8 1248.0 328.7 M1320.9 331.6 L1316.0 330.0 M1311.7 336.9 C1310.4 336.3 1306.6 334.2 1304.0 333.3 C1301.4 332.5 1297.3 332.2 1296.0 332.0 M1281.6 328.4 C1280.7 328.1 1278.0 327.3 1276.0 326.7 C1274.0 326.0 1270.4 325.0 1269.3 324.7 M1261.3 326.0 C1260.0 326.3 1256.9 327.6 1253.3 328.0 C1249.8 328.4 1242.2 328.6 1240.0 328.7 M1275.7 339.1 C1274.2 338.7 1270.4 337.3 1266.7 336.7 C1262.9 336.0 1257.8 335.6 1253.3 335.3 C1248.9 335.1 1242.2 335.3 1240.0 335.3 M1180.0 318.7 C1178.2 319.8 1173.1 323.3 1169.3 325.3 C1165.6 327.3 1161.3 329.1 1157.3 330.7 C1153.3 332.2 1148.9 333.8 1145.3 334.7 C1141.8 335.6 1137.6 335.8 1136.0 336.0 M1180.0 326.7 C1177.8 327.3 1171.1 329.6 1166.7 330.7 C1162.2 331.8 1155.6 332.9 1153.3 333.3 M1135.3 321.6 C1134.6 322.7 1132.6 326.0 1130.7 328.0 C1128.8 330.0 1125.8 331.8 1124.0 333.3 C1122.2 334.9 1120.7 336.7 1120.0 337.3 M1144.7 320.3 C1143.9 321.3 1142.1 324.7 1140.0 326.7 C1137.9 328.6 1134.4 330.4 1132.0 332.0 C1129.6 333.6 1126.4 335.3 1125.3 336.0 M1134.7 345.3 C1133.3 345.1 1128.9 344.9 1126.7 344.0 C1124.4 343.1 1122.2 340.7 1121.3 340.0 M1180.0 341.3 C1177.8 340.9 1171.1 339.3 1166.7 338.7 C1162.2 338.0 1157.8 337.7 1153.3 337.3 C1148.9 337.0 1142.2 336.8 1140.0 336.7 M1275.7 339.1 C1274.2 338.7 1270.4 337.3 1266.7 336.7 C1262.9 336.0 1257.8 335.6 1253.3 335.3 C1248.9 335.1 1244.4 335.2 1240.0 335.1 C1235.6 335.0 1231.1 334.5 1226.7 334.7 C1222.2 334.8 1217.8 335.3 1213.3 336.0 C1208.9 336.7 1204.4 338.1 1200.0 338.7 C1195.6 339.2 1191.1 339.2 1186.7 339.3 C1182.2 339.4 1177.8 339.3 1173.3 339.3 C1168.9 339.3 1162.2 339.3 1160.0 339.3 M1274.0 344.0 C1273.0 343.4 1270.1 341.8 1268.0 340.7 C1265.9 339.6 1262.4 337.9 1261.3 337.3 M1222.0 331.3 C1221.0 331.6 1218.1 332.0 1216.0 332.7 C1213.9 333.3 1211.3 334.4 1209.3 335.3 C1207.3 336.2 1204.9 337.6 1204.0 338.0 M1248.0 328.7 C1244.4 328.8 1233.6 329.4 1226.7 329.3 C1219.8 329.2 1213.3 328.3 1206.7 328.0 C1200.0 327.7 1192.2 327.2 1186.7 327.3 C1181.1 327.4 1177.8 328.0 1173.3 328.7 C1168.9 329.3 1162.2 330.9 1160.0 331.3 M1160.0 339.3 C1162.2 339.6 1168.9 339.8 1173.3 340.7 C1177.8 341.6 1182.2 343.6 1186.7 344.7 C1191.1 345.8 1195.6 346.9 1200.0 347.3 C1204.4 347.8 1208.9 347.2 1213.3 347.3 C1217.8 347.4 1222.2 347.6 1226.7 348.0 C1231.1 348.4 1235.6 349.2 1240.0 350.0 C1244.4 350.8 1249.8 351.6 1253.3 352.7 C1256.9 353.8 1259.5 355.3 1261.3 356.7 C1263.2 358.0 1263.8 360.2 1264.3 360.9 M1222.7 340.9 C1221.6 341.1 1218.2 341.3 1216.0 342.0 C1213.8 342.7 1211.6 344.5 1209.3 345.3 C1207.1 346.2 1203.8 346.8 1202.7 347.1 M1225.3 348.7 C1226.9 349.2 1231.8 350.9 1234.7 352.0 C1237.6 353.1 1240.3 353.8 1242.7 355.3 C1245.0 356.8 1247.9 360.0 1248.9 360.9" fill="none" stroke="#94a655" stroke-width="1.9" stroke-linecap="round" stroke-linejoin="round"/>
<path d="M1098.7 362.7 C1100.7 362.4 1106.0 361.6 1110.7 361.3 C1115.3 361.1 1121.3 361.1 1126.7 361.3 C1132.0 361.6 1137.3 362.0 1142.7 362.7 C1148.0 363.3 1153.8 364.6 1158.7 365.3 C1163.6 366.1 1168.4 366.8 1172.0 367.3 C1175.6 367.9 1178.7 368.4 1180.0 368.7" fill="none" stroke="#82b8ce" stroke-width="2.6" stroke-linecap="round" stroke-linejoin="round"/>
<path d="M1160.0 366.0 C1162.7 366.6 1170.4 367.8 1176.0 369.3 C1181.6 370.9 1187.6 373.7 1193.3 375.3 C1199.1 377.0 1205.1 378.0 1210.7 379.3 C1216.2 380.7 1221.3 382.1 1226.7 383.3 C1232.0 384.6 1237.3 386.0 1242.7 386.7 C1248.0 387.3 1253.3 387.9 1258.7 387.3 C1264.0 386.8 1270.7 384.9 1274.7 383.3 C1278.7 381.8 1280.0 379.9 1282.7 378.0 C1285.3 376.1 1288.9 373.8 1290.7 372.0 C1292.4 370.2 1292.9 367.9 1293.3 367.1" fill="none" stroke="#82b8ce" stroke-width="2.2" stroke-linecap="round" stroke-linejoin="round"/>
<path d="M1176.0 369.3 C1176.7 370.6 1177.8 374.3 1180.0 376.7 C1182.2 379.0 1186.0 381.2 1189.3 383.3 C1192.7 385.4 1196.0 387.6 1200.0 389.3 C1204.0 391.1 1208.9 392.3 1213.3 394.0 C1217.8 395.7 1222.7 397.3 1226.7 399.3 C1230.7 401.3 1234.0 403.8 1237.3 406.0 C1240.7 408.2 1244.2 410.4 1246.7 412.7 C1249.1 414.9 1250.5 416.8 1252.0 419.3 C1253.5 421.8 1255.0 426.2 1255.6 427.6 M1252.0 418.0 C1252.9 418.4 1256.1 419.8 1257.3 420.7 C1258.6 421.6 1259.0 422.9 1259.3 423.3 M1200.0 389.3 C1201.8 389.4 1207.6 389.4 1210.7 390.0 C1213.8 390.6 1216.2 392.1 1218.7 392.7 C1221.1 393.2 1224.2 393.2 1225.3 393.3 M1205.3 377.3 C1207.8 377.6 1215.1 378.2 1220.0 378.7 C1224.9 379.1 1230.4 380.0 1234.7 380.0 C1238.9 380.0 1242.2 379.4 1245.3 378.7 C1248.4 377.9 1252.0 375.9 1253.3 375.3 M1240.0 380.0 C1241.3 380.0 1245.6 380.1 1248.0 380.0 C1250.4 379.9 1253.6 379.4 1254.7 379.3 M1285.3 376.7 C1286.4 376.6 1290.1 376.2 1292.0 376.0 C1293.9 375.8 1295.9 375.4 1296.7 375.3 M1258.7 387.3 C1261.1 387.4 1268.7 388.2 1273.3 388.0 C1278.0 387.8 1282.6 387.1 1286.7 386.0 C1290.7 384.9 1295.9 382.1 1297.7 381.3 M1280.0 387.3 C1281.6 387.3 1286.3 387.4 1289.3 387.3 C1292.4 387.3 1296.8 387.1 1298.3 387.1 M1240.0 386.7 C1241.8 387.4 1247.3 390.1 1250.7 391.3 C1254.0 392.6 1257.3 393.5 1260.0 394.0 C1262.7 394.5 1265.8 394.2 1266.9 394.3 M1245.3 390.0 C1247.1 391.1 1252.4 394.7 1256.0 396.7 C1259.6 398.7 1263.8 401.0 1266.7 402.0 C1269.6 403.0 1271.4 402.7 1273.3 402.7 C1275.2 402.6 1277.2 401.9 1278.0 401.7 M1264.0 400.7 C1265.1 401.6 1268.6 404.6 1270.7 406.0 C1272.7 407.4 1275.3 408.8 1276.3 409.3" fill="none" stroke="#82b8ce" stroke-width="1.9" stroke-linecap="round" stroke-linejoin="round"/>
<path d="M1129.3 455.7 C1131.6 457.0 1138.2 461.4 1142.7 463.7 C1147.1 465.9 1153.8 468.1 1156.0 469.0" fill="none" stroke="#4fa48a" stroke-width="3.0" stroke-linecap="round" stroke-linejoin="round"/>
<path d="M1156.0 469.0 C1157.8 469.9 1162.0 472.2 1166.7 474.3 C1171.3 476.4 1181.1 480.4 1184.0 481.7" fill="none" stroke="#4fa48a" stroke-width="2.6" stroke-linecap="round" stroke-linejoin="round"/>
<path d="M1156.0 469.0 C1157.8 469.9 1163.3 472.6 1166.7 474.3 C1170.0 476.1 1173.8 478.4 1176.0 479.7 C1178.2 480.9 1179.3 481.3 1180.0 481.7" fill="none" stroke="#4fa48a" stroke-width="2.4" stroke-linecap="round" stroke-linejoin="round"/>
<path d="M1184.0 481.7 C1186.7 483.4 1194.9 489.2 1200.0 492.3 C1205.1 495.4 1209.1 497.9 1214.7 500.3 C1220.2 502.8 1227.6 504.9 1233.3 507.0 C1239.1 509.1 1244.0 511.0 1249.3 513.0 C1254.7 515.0 1260.0 517.1 1265.3 519.0 C1270.7 520.9 1276.4 522.6 1281.3 524.3 C1286.2 526.1 1290.2 527.7 1294.7 529.7 C1299.1 531.7 1303.6 534.1 1308.0 536.3 C1312.4 538.6 1316.9 541.0 1321.3 543.0 C1325.8 545.0 1331.6 547.1 1334.7 548.3 C1337.8 549.6 1339.1 550.0 1340.0 550.3 M1184.0 483.0 C1184.9 485.0 1187.6 491.2 1189.3 495.0 C1191.1 498.8 1192.9 501.9 1194.7 505.7 C1196.4 509.4 1198.2 513.7 1200.0 517.7 C1201.8 521.7 1203.8 526.1 1205.3 529.7 C1206.9 533.2 1208.4 536.4 1209.3 539.0 C1210.3 541.6 1210.8 544.2 1211.1 545.3" fill="none" stroke="#4fa48a" stroke-width="2.2" stroke-linecap="round" stroke-linejoin="round"/>
<path d="M1156.0 469.0 C1158.2 469.3 1165.3 470.8 1169.3 471.0 C1173.3 471.2 1176.9 470.4 1180.0 470.3 C1183.1 470.3 1186.7 470.6 1188.0 470.6 M1236.7 570.0 C1236.3 570.9 1235.4 572.9 1234.7 575.3 C1233.9 577.8 1232.4 583.1 1232.0 584.7 M1236.7 570.0 C1237.1 571.1 1238.4 574.2 1239.3 576.7 C1240.2 579.1 1241.6 583.3 1242.0 584.7 M1256.0 570.0 C1256.9 571.3 1259.8 575.3 1261.3 578.0 C1262.9 580.7 1264.2 584.1 1265.3 586.0 C1266.4 587.9 1267.6 588.8 1268.0 589.3 M1258.7 570.0 C1260.0 571.3 1264.0 575.1 1266.7 578.0 C1269.3 580.9 1272.0 584.2 1274.7 587.3 C1277.3 590.4 1280.4 593.3 1282.7 596.7 C1284.9 600.0 1286.2 604.2 1288.0 607.3 C1289.8 610.4 1291.9 612.3 1293.3 615.3 C1294.8 618.4 1296.1 623.9 1296.7 625.6 M1292.0 612.7 C1293.1 613.6 1296.6 616.7 1298.7 618.0 C1300.8 619.3 1303.7 620.2 1304.7 620.7 M1262.7 571.3 C1264.4 571.4 1270.2 571.8 1273.3 572.0 C1276.4 572.2 1279.0 572.2 1281.3 572.7 C1283.7 573.1 1286.3 574.3 1287.3 574.7 M1274.7 574.0 C1275.8 574.7 1279.4 576.9 1281.3 578.0 C1283.2 579.1 1285.2 580.2 1286.0 580.7 M1270.7 582.0 C1271.8 582.7 1275.1 585.2 1277.3 586.0 C1279.6 586.8 1283.1 586.9 1284.3 587.1 M1285.3 599.3 C1286.2 600.0 1289.1 602.4 1290.7 603.3 C1292.2 604.2 1294.0 604.4 1294.7 604.7 M1184.0 479.0 C1186.7 479.0 1194.9 478.8 1200.0 478.7 C1205.1 478.6 1209.1 478.7 1214.7 478.3 C1220.2 477.9 1226.9 477.3 1233.3 476.3 C1239.8 475.3 1246.7 473.3 1253.3 472.3 C1260.0 471.3 1266.7 470.9 1273.3 470.3 C1280.0 469.8 1286.7 469.2 1293.3 469.0 C1300.0 468.8 1307.8 469.1 1313.3 469.0 C1318.9 468.9 1322.7 469.0 1326.7 468.6 C1330.7 468.2 1335.6 466.7 1337.3 466.3 M1287.6 463.3 C1286.8 463.9 1284.8 465.9 1282.7 467.0 C1280.5 468.1 1276.0 469.4 1274.7 469.9 M1255.1 468.1 C1254.1 468.8 1251.4 471.2 1249.3 472.3 C1247.3 473.5 1243.8 474.6 1242.7 475.0 M1214.7 478.3 C1216.0 477.3 1219.6 474.1 1222.7 472.3 C1225.8 470.6 1230.2 469.1 1233.3 467.7 C1236.4 466.2 1239.4 464.7 1241.3 463.7 C1243.2 462.7 1244.1 462.0 1244.7 461.7 M1232.0 469.7 C1233.3 469.2 1237.6 467.9 1240.0 467.0 C1242.4 466.1 1245.6 464.8 1246.7 464.3 M1297.3 469.4 C1298.4 470.0 1302.0 472.1 1304.0 473.0 C1306.0 473.9 1308.7 474.7 1309.6 475.0 M1318.7 469.0 C1320.0 469.4 1323.7 470.8 1326.7 471.7 C1329.7 472.6 1335.0 473.9 1336.7 474.3 M1184.0 481.7 C1185.6 482.1 1190.3 483.7 1193.3 484.3 C1196.4 485.0 1200.9 485.2 1202.4 485.4 M1184.0 481.7 C1186.0 482.8 1191.8 486.3 1196.0 488.3 C1200.2 490.3 1204.4 492.3 1209.3 493.7 C1214.2 495.0 1220.0 496.1 1225.3 496.3 C1230.7 496.6 1236.0 496.0 1241.3 495.0 C1246.7 494.0 1252.0 492.1 1257.3 490.3 C1262.7 488.6 1268.4 486.0 1273.3 484.3 C1278.2 482.7 1282.2 481.3 1286.7 480.3 C1291.1 479.3 1295.1 478.6 1300.0 478.3 C1304.9 478.1 1313.3 478.9 1316.0 479.0 M1300.0 479.0 C1301.6 479.4 1306.9 480.8 1309.3 481.7 C1311.8 482.6 1313.8 483.9 1314.7 484.3 M1209.3 493.7 C1211.6 494.6 1217.8 497.8 1222.7 499.0 C1227.6 500.2 1233.3 500.7 1238.7 501.0 C1244.0 501.3 1249.8 501.2 1254.7 500.6 C1259.6 500.0 1263.1 498.7 1268.0 497.7 C1272.9 496.6 1278.7 495.3 1284.0 494.3 C1289.3 493.3 1294.0 492.3 1300.0 491.7 C1306.0 491.0 1313.3 490.8 1320.0 490.3 C1326.7 489.9 1336.7 489.2 1340.0 489.0 M1309.3 491.7 C1310.4 492.2 1313.7 494.2 1316.0 495.0 C1318.3 495.8 1321.9 496.4 1323.1 496.7 M1324.0 491.0 C1324.9 491.3 1327.8 492.6 1329.3 493.0 C1330.9 493.4 1332.7 493.3 1333.3 493.4 M1253.3 500.6 C1254.9 499.9 1259.8 497.7 1262.7 496.3 C1265.6 495.0 1268.7 493.3 1270.7 492.3 C1272.7 491.3 1274.0 490.7 1274.7 490.3 M1260.0 498.3 C1261.3 497.9 1265.3 496.4 1268.0 495.7 C1270.7 494.9 1274.7 494.0 1276.0 493.7 M1273.3 499.7 C1275.1 500.0 1280.2 500.9 1284.0 501.7 C1287.8 502.4 1294.2 503.9 1296.3 504.3 M1284.0 500.3 C1285.1 500.3 1288.5 500.5 1290.7 500.3 C1292.8 500.2 1296.0 499.6 1297.1 499.4 M1222.7 499.0 C1225.3 500.3 1233.3 504.7 1238.7 507.0 C1244.0 509.3 1249.3 511.4 1254.7 513.0 C1260.0 514.6 1265.3 516.0 1270.7 516.3 C1276.0 516.7 1281.3 515.8 1286.7 515.0 C1292.0 514.2 1297.6 513.0 1302.7 511.7 C1307.8 510.3 1312.9 508.4 1317.3 507.0 C1321.8 505.6 1325.6 504.1 1329.3 503.0 C1333.1 501.9 1338.2 500.8 1340.0 500.3 M1317.3 509.7 C1318.9 510.0 1322.9 511.3 1326.7 511.7 C1330.4 512.0 1337.8 511.7 1340.0 511.7 M1292.0 527.7 C1293.3 527.1 1297.3 525.2 1300.0 524.3 C1302.7 523.4 1305.8 523.1 1308.0 522.3 C1310.2 521.6 1312.1 520.1 1312.9 519.7 M1300.0 525.7 C1301.3 525.8 1305.7 526.2 1308.0 526.3 C1310.3 526.4 1312.7 526.3 1313.6 526.3 M1294.7 529.0 L1302.7 529.7 M1204.0 495.0 C1205.8 496.8 1210.7 502.3 1214.7 505.7 C1218.7 509.0 1223.6 511.9 1228.0 515.0 C1232.4 518.1 1236.9 521.9 1241.3 524.3 C1245.8 526.8 1250.2 528.1 1254.7 529.7 C1259.1 531.2 1263.6 532.6 1268.0 533.7 C1272.4 534.8 1277.7 535.3 1281.3 536.3 C1285.0 537.3 1288.6 539.1 1290.0 539.7 M1273.3 534.3 C1274.7 534.3 1278.9 534.1 1281.3 534.3 C1283.8 534.6 1286.9 535.4 1288.0 535.7 M1241.3 519.0 C1243.1 519.3 1247.9 520.7 1252.0 521.0 C1256.1 521.3 1263.4 520.7 1265.7 520.6 M1246.7 523.0 C1248.2 523.2 1253.0 523.8 1256.0 524.3 C1259.0 524.8 1263.0 525.8 1264.4 526.1 M1280.0 543.0 C1281.1 543.9 1284.7 546.8 1286.7 548.3 C1288.7 549.8 1291.1 551.4 1292.0 552.1 M1189.3 492.3 C1190.7 494.1 1194.7 499.4 1197.3 503.0 C1200.0 506.6 1202.4 510.1 1205.3 513.7 C1208.2 517.2 1211.8 520.8 1214.7 524.3 C1217.6 527.9 1219.6 531.4 1222.7 535.0 C1225.8 538.6 1230.7 542.8 1233.3 545.7 C1236.0 548.5 1237.8 551.0 1238.7 552.1 M1200.0 517.7 C1201.1 519.7 1204.2 526.3 1206.7 529.7 C1209.1 533.0 1212.4 535.9 1214.7 537.7 C1216.9 539.4 1219.1 539.9 1220.0 540.3 M1209.3 539.0 C1210.4 540.1 1214.2 543.5 1216.0 545.7 C1217.8 547.8 1219.3 551.0 1220.0 552.1 M1214.7 521.7 C1216.4 521.3 1221.8 519.8 1225.3 519.7 C1228.9 519.6 1234.2 520.8 1236.0 521.0 M1218.7 524.3 C1220.2 524.6 1224.6 525.2 1228.0 525.7 C1231.4 526.2 1237.2 527.1 1239.1 527.4 M1221.3 528.3 C1222.2 528.8 1224.9 530.4 1226.7 531.0 C1228.4 531.6 1230.9 531.8 1231.7 531.9 M1222.7 532.3 C1223.6 532.8 1226.7 534.3 1228.0 535.0 C1229.3 535.7 1230.2 536.4 1230.7 536.7 M1304.0 535.0 C1304.4 536.3 1305.2 540.3 1306.7 543.0 C1308.1 545.7 1311.7 549.7 1312.7 551.0 M1308.0 537.7 C1308.9 538.8 1312.0 542.6 1313.3 544.3 C1314.6 546.1 1315.3 547.7 1315.7 548.3 M1317.3 541.7 C1318.4 542.3 1321.9 544.3 1324.0 545.7 C1326.1 547.0 1329.0 549.0 1330.0 549.7 M1329.3 544.3 C1330.2 544.1 1332.9 543.3 1334.7 543.0 C1336.4 542.7 1339.1 542.4 1340.0 542.3 M1340.0 489.1 C1341.1 488.9 1344.5 488.6 1346.7 488.0 C1348.8 487.4 1352.0 485.8 1353.1 485.3 M1340.0 489.6 C1341.1 489.7 1344.3 490.0 1346.7 490.4 C1349.0 490.8 1352.8 491.5 1354.0 491.7 M1340.0 500.3 C1341.8 500.0 1347.3 499.0 1350.7 498.7 C1354.0 498.3 1357.1 498.2 1360.0 498.0 C1362.9 497.8 1366.7 497.4 1368.0 497.3 M1353.3 498.7 C1354.7 499.0 1359.0 500.0 1361.3 500.7 C1363.7 501.4 1366.3 502.6 1367.3 502.9 M1340.0 500.3 C1341.1 500.6 1344.7 501.4 1346.7 502.0 C1348.7 502.6 1351.1 503.7 1352.0 504.0 M1340.0 511.6 C1341.8 511.6 1347.1 511.3 1350.7 511.3 C1354.2 511.4 1358.3 511.9 1361.3 512.0 C1364.4 512.1 1367.8 511.8 1369.1 511.7 M1353.3 512.0 C1354.7 512.4 1359.0 513.8 1361.3 514.7 C1363.7 515.6 1366.3 516.9 1367.3 517.3 M1345.3 512.0 C1346.2 512.4 1349.0 513.8 1350.7 514.7 C1352.3 515.5 1354.6 516.6 1355.3 516.9 M1340.0 550.3 C1341.8 551.2 1347.1 553.7 1350.7 556.0 C1354.2 558.3 1358.4 561.6 1361.3 564.0 C1364.2 566.4 1366.2 568.7 1368.0 570.7 C1369.8 572.7 1371.0 574.3 1372.0 576.0 C1373.0 577.7 1373.4 580.1 1373.7 580.9 M1368.0 570.7 C1368.7 571.1 1370.9 572.6 1372.0 573.3 C1373.1 574.0 1374.2 574.7 1374.7 574.9 M1348.0 555.3 C1349.8 555.9 1355.6 558.0 1358.7 558.7 C1361.7 559.3 1365.0 559.0 1366.3 559.1 M1340.0 542.3 C1340.9 542.2 1343.8 541.8 1345.3 541.6 C1346.9 541.4 1348.7 541.4 1349.3 541.3 M1336.0 544.0 C1337.1 544.3 1340.5 545.4 1342.7 546.0 C1344.8 546.6 1348.0 547.4 1349.1 547.7 M1321.3 544.0 C1321.8 544.9 1323.1 547.8 1324.0 549.3 C1324.9 550.9 1326.2 552.7 1326.7 553.3 M1292.0 552.0 C1292.9 552.7 1295.8 554.4 1297.3 556.0 C1298.9 557.6 1300.4 559.8 1301.3 561.3 C1302.3 562.8 1302.7 564.3 1302.9 564.9 M1297.3 556.0 C1298.7 556.3 1303.1 557.4 1305.3 558.0 C1307.6 558.6 1309.8 559.1 1310.7 559.3 M1282.7 545.3 C1283.1 546.2 1284.4 549.1 1285.3 550.7 C1286.2 552.2 1287.6 554.0 1288.0 554.7 M1238.7 552.0 C1240.0 553.3 1244.0 557.6 1246.7 560.0 C1249.3 562.4 1252.7 565.0 1254.7 566.7 C1256.7 568.3 1258.0 569.4 1258.7 570.0 M1220.0 552.0 C1221.3 553.6 1225.2 558.3 1228.0 561.3 C1230.8 564.3 1235.2 568.6 1236.7 570.0" fill="none" stroke="#4fa48a" stroke-width="1.9" stroke-linecap="round" stroke-linejoin="round"/>
<path d="M1156.0 554.0 C1157.3 556.4 1161.3 563.8 1164.0 568.7 C1166.7 573.6 1169.6 578.9 1172.0 583.3 C1174.4 587.7 1177.6 593.1 1178.7 595.1" fill="none" stroke="#9996c6" stroke-width="2.0" stroke-linecap="round" stroke-linejoin="round"/>
<path d="M1072.0 480.9 C1073.0 480.4 1075.8 478.8 1078.0 478.3 C1080.2 477.9 1083.1 478.5 1085.3 478.3 C1087.6 478.2 1090.3 477.4 1091.3 477.3 M1114.8 462.4 C1113.7 463.3 1111.1 465.8 1108.0 468.0 C1104.9 470.2 1099.8 473.2 1096.0 475.3 C1092.2 477.5 1089.8 478.0 1084.9 480.9 C1080.0 483.8 1073.0 489.4 1066.7 492.7 C1060.3 496.0 1053.3 498.0 1046.7 500.7 C1040.0 503.3 1032.9 506.3 1026.7 508.7 C1020.4 511.1 1015.1 512.6 1009.3 515.1 C1003.6 517.6 996.8 521.6 992.3 523.7 C987.8 525.9 985.1 527.0 982.4 527.9 C979.7 528.7 977.3 528.8 976.3 528.9 M987.5 520.4 C988.8 520.1 992.6 519.3 995.6 518.7 C998.6 518.0 1003.8 516.8 1005.5 516.4 M992.3 523.7 C991.2 524.7 987.6 527.9 985.7 529.5 C983.8 531.0 981.6 532.5 980.8 533.1 M1125.3 492.7 C1123.3 494.0 1117.6 498.6 1113.3 500.7 C1109.1 502.8 1104.9 504.2 1100.0 505.3 C1095.1 506.4 1088.9 506.9 1084.0 507.3 C1079.1 507.8 1074.7 507.4 1070.7 508.0 C1066.7 508.6 1064.0 509.6 1060.0 510.7 C1056.0 511.8 1050.7 513.4 1046.7 514.7 C1042.7 515.9 1039.1 516.8 1036.0 518.0 C1032.9 519.2 1029.3 521.3 1028.0 522.0 M1023.1 520.3 C1024.1 520.0 1027.2 519.0 1029.3 518.7 C1031.5 518.3 1034.9 518.1 1036.0 518.0 M1050.4 520.3 C1051.6 519.7 1055.5 518.2 1057.3 516.7 C1059.2 515.2 1060.7 512.2 1061.3 511.3 M1115.3 470.4 C1114.3 471.2 1110.8 473.6 1108.9 475.3 C1107.1 477.1 1106.1 479.5 1104.1 480.9 C1102.2 482.3 1098.5 483.3 1097.3 483.7 M1118.1 477.3 C1117.1 478.1 1113.9 479.9 1112.1 481.7 C1110.3 483.5 1109.3 486.8 1107.3 488.1 C1105.4 489.5 1101.7 489.5 1100.5 489.7 M1120.9 484.5 C1120.0 485.1 1116.9 486.6 1115.3 488.1 C1113.7 489.7 1113.3 492.3 1111.3 493.7 C1109.4 495.1 1105.0 496.1 1103.7 496.5 M1128.0 499.3 C1126.9 500.9 1123.8 505.6 1121.3 508.7 C1118.9 511.8 1116.4 514.7 1113.3 518.0 C1110.2 521.3 1106.2 525.6 1102.7 528.7 C1099.1 531.8 1096.0 534.4 1092.0 536.7 C1088.0 538.9 1083.1 540.4 1078.7 542.0 C1074.2 543.6 1069.3 545.6 1065.3 546.0 C1061.3 546.4 1057.8 545.2 1054.7 544.7 C1051.6 544.1 1049.3 543.4 1046.7 542.7 C1044.0 541.9 1040.0 540.4 1038.7 540.0 M1037.3 544.7 C1038.9 544.7 1043.8 544.6 1046.7 544.7 C1049.6 544.7 1053.3 544.9 1054.7 544.9 M1037.3 548.7 C1038.9 548.6 1043.3 548.4 1046.7 548.0 C1050.0 547.6 1055.6 546.3 1057.3 546.0 M1039.3 554.7 C1040.6 554.1 1044.1 552.4 1046.7 551.3 C1049.2 550.2 1052.0 548.8 1054.7 548.0 C1057.3 547.2 1061.3 546.6 1062.7 546.3 M1078.7 542.0 C1076.7 543.6 1070.7 548.7 1066.7 551.3 C1062.7 554.0 1058.4 556.0 1054.7 558.0 C1050.9 560.0 1046.9 561.3 1044.0 563.3 C1041.1 565.3 1039.6 567.6 1037.3 570.0 C1035.1 572.4 1032.9 575.3 1030.7 578.0 C1028.4 580.7 1026.2 583.2 1024.0 586.0 C1021.8 588.8 1018.4 593.6 1017.3 595.1 M1034.0 562.0 C1035.0 562.0 1037.9 562.3 1040.0 562.0 C1042.1 561.7 1045.6 560.3 1046.7 560.0 M1062.7 554.0 C1062.2 555.1 1061.1 558.4 1060.0 560.7 C1058.9 562.9 1056.7 566.2 1056.0 567.3 M1060.0 560.7 C1060.4 561.8 1062.7 565.7 1062.7 567.3 C1062.7 569.0 1060.4 570.1 1060.0 570.7 M1012.7 573.7 C1013.9 573.3 1017.4 572.0 1020.0 571.3 C1022.6 570.7 1025.3 570.4 1028.0 570.0 C1030.7 569.6 1034.7 568.9 1036.0 568.7 M1037.3 570.0 C1037.1 571.3 1037.1 575.1 1036.0 578.0 C1034.9 580.9 1032.4 584.5 1030.7 587.3 C1028.9 590.2 1026.2 593.8 1025.3 595.1 M994.7 587.3 C996.0 586.9 999.8 585.4 1002.7 584.7 C1005.6 583.9 1009.1 582.9 1012.0 582.7 C1014.9 582.4 1018.7 583.2 1020.0 583.3 M1000.0 595.1 C1001.1 593.8 1004.4 589.3 1006.7 587.3 C1008.9 585.4 1012.2 584.0 1013.3 583.3 M1008.0 592.0 C1009.6 591.4 1014.4 589.4 1017.3 588.7 C1020.2 587.9 1024.0 587.6 1025.3 587.3 M1132.0 504.7 C1131.1 506.4 1128.2 511.6 1126.7 515.3 C1125.1 519.1 1123.8 523.1 1122.7 527.3 C1121.6 531.6 1120.9 536.2 1120.0 540.7 C1119.1 545.1 1118.2 549.3 1117.3 554.0 C1116.4 558.7 1115.6 564.0 1114.7 568.7 C1113.8 573.3 1112.7 577.6 1112.0 582.0 C1111.3 586.4 1110.9 592.9 1110.7 595.1 M1134.7 514.0 C1134.4 515.8 1133.7 521.1 1133.3 524.7 C1133.0 528.2 1133.2 532.1 1132.7 535.3 C1132.1 538.6 1130.4 542.6 1130.0 544.0 M1118.7 540.7 C1117.3 541.3 1113.3 542.4 1110.7 544.7 C1108.0 546.9 1104.9 550.9 1102.7 554.0 C1100.4 557.1 1099.1 560.0 1097.3 563.3 C1095.6 566.7 1094.2 570.7 1092.0 574.0 C1089.8 577.3 1087.1 580.4 1084.0 583.3 C1080.9 586.2 1076.0 589.4 1073.3 591.3 C1070.7 593.3 1068.9 594.4 1068.0 595.1 M1100.0 558.0 C1099.3 559.6 1096.6 564.7 1096.0 567.3 C1095.4 570.0 1096.6 572.9 1096.7 574.0 M1057.3 593.3 C1058.7 592.8 1062.7 590.6 1065.3 590.0 C1068.0 589.4 1072.0 590.0 1073.3 590.0 M1117.3 560.7 C1117.8 561.8 1119.4 564.9 1120.0 567.3 C1120.6 569.8 1120.2 573.4 1120.7 575.3 C1121.1 577.2 1122.3 578.1 1122.7 578.7 M1113.3 575.3 C1112.0 576.2 1107.9 579.0 1105.3 580.7 C1102.8 582.3 1099.2 584.6 1098.0 585.3 M1104.3 590.7 C1104.7 589.7 1105.7 586.3 1106.7 584.7 C1107.6 583.0 1109.4 581.3 1110.0 580.7 M1142.0 530.0 C1141.4 532.2 1139.4 538.4 1138.7 543.3 C1137.9 548.2 1137.6 554.0 1137.3 559.3 C1137.1 564.7 1137.6 570.4 1137.3 575.3 C1137.1 580.2 1136.4 585.4 1136.0 588.7 C1135.6 592.0 1134.9 594.0 1134.7 595.1 M1136.0 587.3 C1135.6 588.0 1134.0 590.0 1133.3 591.3 C1132.7 592.6 1132.2 594.4 1132.0 595.1 M1148.0 538.0 C1148.9 540.2 1152.2 546.9 1153.3 551.3 C1154.4 555.8 1154.9 560.2 1154.7 564.7 C1154.4 569.1 1153.1 574.0 1152.0 578.0 C1150.9 582.0 1148.9 585.8 1148.0 588.7 C1147.1 591.5 1146.9 594.0 1146.7 595.1 M1164.0 568.7 C1163.8 570.2 1162.4 574.7 1162.7 578.0 C1162.9 581.3 1164.7 585.8 1165.3 588.7 C1166.0 591.5 1166.4 594.0 1166.7 595.1 M1172.0 575.3 C1172.9 576.0 1176.0 578.0 1177.3 579.3 C1178.7 580.7 1179.6 582.7 1180.0 583.3 M1160.0 564.7 C1161.1 566.9 1164.7 574.0 1166.7 578.0 C1168.7 582.0 1171.1 586.9 1172.0 588.7 M1000.0 595.0 C998.9 595.9 995.6 599.0 993.3 600.3 C991.1 601.7 988.8 602.1 986.7 603.0 C984.5 603.9 981.3 605.2 980.3 605.7 M993.3 600.3 C992.6 601.4 990.0 605.0 988.7 607.0 C987.4 609.0 986.1 611.2 985.6 612.1 M1017.3 595.0 C1016.7 596.3 1014.7 600.8 1013.3 603.0 C1012.0 605.2 1010.9 606.6 1009.3 608.3 C1007.8 610.1 1005.8 612.4 1004.0 613.7 C1002.2 614.9 999.3 615.6 998.4 615.9 M1009.3 608.3 C1008.8 609.4 1006.8 613.1 1006.0 615.0 C1005.2 616.9 1004.9 618.9 1004.7 619.7 M1013.3 603.0 C1013.4 604.1 1013.9 607.6 1014.0 609.7 C1014.1 611.7 1014.0 614.4 1014.0 615.4 M1025.3 595.0 C1024.2 595.7 1020.4 597.9 1018.7 599.0 C1016.9 600.1 1015.3 601.2 1014.7 601.7 M1068.0 595.0 C1068.4 595.9 1070.9 598.8 1070.7 600.3 C1070.4 601.9 1068.1 603.4 1066.7 604.3 C1065.2 605.2 1062.8 605.4 1062.0 605.7 M1070.7 600.3 C1070.3 601.2 1069.3 604.1 1068.7 605.7 C1068.0 607.3 1067.0 609.2 1066.7 609.9 M1110.7 595.0 C1110.8 597.2 1111.3 603.9 1111.3 608.3 C1111.3 612.8 1110.9 617.2 1110.7 621.7 C1110.4 626.1 1110.7 630.1 1110.0 635.0 C1109.3 639.9 1107.8 645.7 1106.7 651.0 C1105.6 656.3 1104.4 661.9 1103.3 667.0 C1102.2 672.1 1101.0 676.8 1100.0 681.7 C1099.0 686.6 1098.2 691.9 1097.3 696.3 C1096.4 700.7 1095.1 706.1 1094.7 708.1 M1101.3 615.7 C1102.0 614.7 1103.9 611.8 1105.3 609.7 C1106.8 607.6 1109.2 604.1 1110.0 603.0 M1110.7 621.7 C1109.6 622.3 1106.4 624.3 1104.0 625.7 C1101.6 627.0 1098.7 628.6 1096.0 629.7 C1093.3 630.8 1091.2 631.4 1088.0 632.3 C1084.8 633.2 1078.6 634.6 1076.7 635.0 M1088.0 632.3 C1087.1 633.2 1084.1 636.3 1082.7 637.7 C1081.2 639.0 1079.9 639.9 1079.3 640.3 M1101.3 627.7 C1100.0 629.1 1095.6 633.6 1093.3 636.3 C1091.1 639.1 1089.1 641.7 1088.0 644.3 C1086.9 647.0 1086.9 650.8 1086.7 652.1 M1090.7 640.3 C1089.8 641.0 1086.8 643.2 1085.3 644.3 C1083.9 645.5 1082.6 646.9 1082.0 647.4 M1108.7 639.0 C1107.9 640.6 1105.4 645.9 1104.0 648.3 C1102.6 650.8 1101.2 651.6 1100.0 653.7 C1098.8 655.8 1097.6 659.8 1097.1 661.0 M1101.3 651.0 C1100.4 651.4 1097.5 652.6 1096.0 653.7 C1094.5 654.8 1093.0 657.0 1092.4 657.7 M1103.3 667.0 C1102.3 667.4 1099.2 668.6 1097.3 669.7 C1095.4 670.8 1093.4 672.7 1092.0 673.7 C1090.6 674.6 1089.2 675.0 1088.7 675.3 M1100.0 681.7 C1098.9 681.9 1095.6 682.1 1093.3 683.0 C1091.1 683.9 1088.8 685.6 1086.7 687.0 C1084.6 688.4 1081.7 690.6 1080.7 691.3 M1090.7 684.3 C1090.4 685.2 1089.6 687.9 1089.3 689.7 C1089.1 691.4 1089.1 693.9 1089.1 694.7 M1097.3 699.0 C1097.7 699.7 1098.9 701.5 1099.3 703.0 C1099.8 704.5 1099.9 707.2 1100.0 708.1 M1134.7 595.0 C1134.4 596.3 1133.8 600.8 1133.3 603.0 C1132.9 605.2 1132.0 606.6 1132.0 608.3 C1132.0 610.0 1133.1 612.4 1133.3 613.3 M1132.0 608.3 C1131.3 608.8 1129.1 610.3 1128.0 611.0 C1126.9 611.7 1125.8 612.1 1125.3 612.3 M1129.3 597.4 L1132.0 600.3 M1146.7 595.0 C1146.2 596.8 1144.9 602.3 1144.0 605.7 C1143.1 609.0 1141.9 611.2 1141.3 615.0 C1140.8 618.8 1140.3 624.1 1140.7 628.3 C1141.0 632.6 1142.3 637.0 1143.3 640.3 C1144.3 643.7 1145.9 645.9 1146.7 648.3 C1147.4 650.8 1147.8 652.4 1148.0 655.0 C1148.2 657.6 1148.0 662.6 1148.0 664.1 M1146.7 648.3 C1147.8 649.4 1151.6 652.6 1153.3 655.0 C1155.1 657.4 1156.4 661.7 1157.1 663.0 M1141.3 615.0 C1140.0 615.9 1135.3 618.6 1133.3 620.3 C1131.3 622.1 1130.3 623.9 1129.3 625.7 C1128.4 627.4 1128.0 630.1 1127.7 631.0 M1134.7 620.3 C1134.7 621.4 1135.0 625.0 1134.7 627.0 C1134.3 629.0 1133.0 631.4 1132.7 632.3 M1142.0 619.0 C1143.2 619.9 1147.4 622.8 1149.3 624.3 C1151.2 625.9 1152.2 627.3 1153.3 628.3 C1154.4 629.4 1155.6 630.3 1156.0 630.7 M1146.7 625.7 C1147.3 627.2 1149.0 632.3 1150.7 635.0 C1152.3 637.7 1155.7 640.6 1156.7 641.7 M1148.0 631.0 C1148.2 632.6 1149.1 637.8 1149.3 640.3 C1149.6 642.9 1149.6 645.3 1149.6 646.3 M1142.7 645.7 C1141.6 646.3 1137.8 648.3 1136.0 649.7 C1134.2 651.0 1133.4 652.7 1132.0 653.7 C1130.6 654.6 1128.1 655.1 1127.3 655.4 M1137.3 651.0 C1136.7 652.1 1134.6 656.1 1133.3 657.7 C1132.1 659.2 1130.6 659.9 1130.0 660.3 M1140.0 649.7 C1139.1 651.7 1136.0 658.3 1134.7 661.7 C1133.3 665.0 1132.4 667.3 1132.0 669.7 C1131.6 672.0 1132.0 674.7 1132.0 675.7 M1134.7 664.3 C1135.1 665.4 1137.0 669.1 1137.3 671.0 C1137.7 672.9 1136.8 674.9 1136.7 675.7 M1178.7 595.1 C1180.4 597.6 1186.2 604.8 1189.3 610.0 C1192.4 615.2 1194.7 620.2 1197.3 626.0 C1200.0 631.8 1202.7 638.9 1205.3 644.7 C1208.0 650.4 1210.9 655.3 1213.3 660.7 C1215.8 666.0 1218.4 672.9 1220.0 676.7 C1221.6 680.4 1222.2 682.0 1222.7 683.1 M1166.7 595.1 C1167.3 596.4 1169.3 600.2 1170.7 603.3 C1172.0 606.5 1173.3 610.2 1174.7 614.0 C1176.0 617.8 1177.8 622.7 1178.7 626.0 C1179.6 629.3 1179.3 631.6 1180.0 634.0 C1180.7 636.4 1182.2 638.8 1182.7 640.7 C1183.2 642.6 1183.0 644.6 1183.1 645.3 M1170.0 603.3 C1169.8 604.4 1169.3 607.6 1168.7 610.0 C1168.0 612.4 1166.4 616.4 1166.0 617.7 M1178.7 626.0 C1178.0 626.9 1175.7 629.1 1174.7 631.3 C1173.7 633.6 1173.3 637.3 1172.7 639.3 C1172.0 641.4 1171.0 642.9 1170.7 643.6 M1176.0 632.7 C1176.1 634.0 1176.8 638.2 1176.7 640.7 C1176.5 643.1 1175.3 646.2 1175.1 647.3 M1180.0 628.7 C1181.1 630.0 1184.8 634.4 1186.7 636.7 C1188.5 639.0 1190.3 641.4 1191.1 642.4 M1173.3 596.7 C1174.4 598.9 1177.8 605.8 1180.0 610.0 C1182.2 614.2 1184.9 618.9 1186.7 622.0 C1188.4 625.1 1190.1 626.5 1190.7 628.7 C1191.2 630.8 1190.1 634.0 1190.0 635.1 M1188.0 623.3 C1189.1 624.2 1193.2 627.2 1194.7 628.7 C1196.1 630.1 1196.3 631.4 1196.7 632.0 M1165.3 572.7 C1166.7 573.3 1171.1 575.1 1173.3 576.7 C1175.6 578.2 1176.7 580.8 1178.7 582.0 C1180.7 583.2 1184.2 583.7 1185.3 584.0 M1174.7 584.7 C1176.7 586.0 1182.4 590.2 1186.7 592.7 C1190.9 595.1 1195.6 597.1 1200.0 599.3 C1204.4 601.6 1209.3 604.0 1213.3 606.0 C1217.3 608.0 1220.9 609.9 1224.0 611.3 C1227.1 612.7 1230.7 613.9 1232.0 614.4 M1224.0 610.0 C1224.4 611.1 1225.4 614.9 1226.7 616.7 C1227.9 618.4 1230.6 620.0 1231.3 620.7 M1202.7 600.7 C1203.3 601.8 1205.2 605.9 1206.7 607.3 C1208.1 608.8 1210.6 609.0 1211.3 609.3 M1186.7 604.7 C1188.4 606.0 1193.3 610.0 1197.3 612.7 C1201.3 615.3 1206.7 618.2 1210.7 620.7 C1214.7 623.1 1218.0 625.1 1221.3 627.3 C1224.7 629.6 1227.9 632.0 1230.7 634.0 C1233.4 636.0 1236.8 638.4 1238.0 639.3 M1225.3 630.0 C1225.8 631.3 1227.1 636.1 1228.0 638.0 C1228.9 639.9 1230.2 640.8 1230.7 641.3 M1196.0 622.0 C1197.1 622.0 1200.4 621.2 1202.7 622.0 C1204.9 622.8 1207.3 625.7 1209.3 626.7 C1211.3 627.7 1213.8 627.8 1214.7 628.0 M1206.7 646.0 C1207.6 647.1 1210.0 650.2 1212.0 652.7 C1214.0 655.2 1217.3 659.7 1218.4 661.1 M1216.0 668.0 C1216.9 669.0 1219.6 671.9 1221.3 674.0 C1223.1 676.1 1225.8 679.6 1226.7 680.7 M1094.6 707.9 C1093.5 710.0 1089.3 716.7 1088.1 720.1 C1086.8 723.5 1087.1 726.8 1086.9 728.1 M1098.5 696.1 C1098.7 697.7 1099.3 702.7 1100.1 705.7 C1100.9 708.7 1102.7 712.8 1103.3 714.2 M1094.6 707.9 C1094.7 709.4 1095.0 714.4 1095.3 716.9 C1095.5 719.4 1095.9 721.8 1096.1 722.8 M1092.9 711.3 C1091.3 712.5 1085.6 716.4 1083.3 718.5 C1080.9 720.6 1079.5 723.2 1078.8 724.1 M1222.6 682.9 C1222.9 684.9 1223.6 690.4 1224.2 694.5 C1224.9 698.5 1225.9 703.4 1226.6 707.3 C1227.4 711.2 1228.4 716.0 1228.7 717.7 M1223.4 688.1 C1224.4 689.4 1227.1 694.1 1229.1 696.1 C1231.0 698.1 1234.0 699.4 1235.0 700.1 M1225.8 704.1 C1226.9 705.2 1230.2 708.6 1232.3 710.5 C1234.3 712.4 1237.2 714.5 1238.2 715.3" fill="none" stroke="#9996c6" stroke-width="1.9" stroke-linecap="round" stroke-linejoin="round"/>
<path d="M1000.0 387.0 C997.8 387.0 991.1 386.9 986.7 387.0 C982.2 387.1 978.9 387.4 973.3 387.7 C967.8 387.9 960.0 388.1 953.3 388.3 C946.7 388.6 938.4 388.8 933.3 389.0 C928.2 389.2 924.4 389.2 922.7 389.3 M1000.0 386.6 C1003.3 386.5 1014.0 386.4 1020.0 386.1 C1026.0 385.7 1033.3 384.7 1036.0 384.5" fill="none" stroke="#c5ab70" stroke-width="2.6" stroke-linecap="round" stroke-linejoin="round"/>
<path d="M946.7 369.0 C948.9 369.8 955.6 371.9 960.0 373.7 C964.4 375.4 968.9 377.9 973.3 379.7 C977.8 381.4 982.2 383.3 986.7 384.3 C991.1 385.4 997.8 385.8 1000.0 386.1 M980.0 387.7 C977.8 388.8 971.1 392.2 966.7 394.3 C962.2 396.4 957.6 398.7 953.3 400.3 C949.1 402.0 943.3 403.7 941.3 404.3" fill="none" stroke="#c5ab70" stroke-width="2.2" stroke-linecap="round" stroke-linejoin="round"/>
<path d="M890.7 274.7 C891.0 276.0 892.2 280.0 892.7 282.7 C893.1 285.3 893.1 287.6 893.3 290.7 C893.6 293.8 893.3 298.0 894.0 301.3 C894.7 304.7 895.4 307.8 897.3 310.7 C899.2 313.6 902.4 315.8 905.3 318.7 C908.2 321.6 911.8 324.9 914.7 328.0 C917.6 331.1 920.0 334.2 922.7 337.3 C925.3 340.4 928.0 343.8 930.7 346.7 C933.3 349.6 935.6 352.2 938.7 354.7 C941.8 357.1 945.8 359.1 949.3 361.3 C952.9 363.6 958.2 366.9 960.0 368.0 M883.6 278.0 C884.1 279.0 885.3 282.3 886.7 284.0 C888.1 285.7 891.1 287.3 892.0 288.0 M902.0 283.3 C901.3 284.3 899.2 287.2 898.0 289.3 C896.8 291.4 895.2 294.9 894.7 296.0 M874.7 283.3 C875.3 284.6 877.1 288.1 878.7 290.7 C880.2 293.2 882.0 296.0 884.0 298.7 C886.0 301.3 888.7 304.6 890.7 306.7 C892.7 308.8 895.1 310.6 896.0 311.3 M870.3 288.4 C871.0 289.0 873.3 291.2 874.7 292.0 C876.1 292.8 878.0 293.1 878.7 293.3 M849.6 310.4 C851.1 310.9 855.4 312.0 858.7 313.3 C862.0 314.7 865.8 316.9 869.3 318.7 C872.9 320.4 876.4 322.0 880.0 324.0 C883.6 326.0 887.1 328.7 890.7 330.7 C894.2 332.7 897.6 334.0 901.3 336.0 C905.1 338.0 909.3 340.2 913.3 342.7 C917.3 345.1 921.3 348.2 925.3 350.7 C929.3 353.1 935.3 356.2 937.3 357.3 M850.0 316.3 C851.0 316.3 854.1 316.8 856.0 316.7 C857.9 316.5 860.4 315.6 861.3 315.3 M876.0 312.7 C876.7 313.7 878.4 316.8 880.0 318.7 C881.6 320.6 884.4 323.1 885.3 324.0 M907.3 328.7 C907.9 329.7 909.0 332.6 910.7 334.7 C912.3 336.8 915.3 339.3 917.3 341.3 C919.3 343.3 921.8 345.8 922.7 346.7 M925.3 326.7 C925.6 328.0 925.8 332.2 926.7 334.7 C927.6 337.1 929.6 339.1 930.7 341.3 C931.8 343.6 932.9 346.9 933.3 348.0 M866.3 332.3 C867.2 332.7 869.3 333.9 872.0 334.7 C874.7 335.4 879.1 335.8 882.7 336.7 C886.2 337.6 889.8 338.3 893.3 340.0 C896.9 341.7 900.4 344.4 904.0 346.7 C907.6 348.9 910.7 351.1 914.7 353.3 C918.7 355.6 923.6 358.1 928.0 360.0 C932.4 361.9 937.1 363.2 941.3 364.7 C945.6 366.2 951.3 368.3 953.3 369.1 M865.3 338.7 C866.4 338.3 870.0 337.2 872.0 336.7 C874.0 336.2 876.4 335.9 877.3 335.7 M877.3 330.3 C878.4 330.7 881.8 331.7 884.0 332.7 C886.2 333.6 888.9 334.7 890.7 336.0 C892.4 337.3 894.0 339.9 894.7 340.7 M881.3 326.7 C882.2 327.2 884.9 328.7 886.7 330.0 C888.4 331.3 891.1 333.9 892.0 334.7 M900.7 352.3 C901.7 352.6 904.3 353.3 906.7 354.0 C909.0 354.7 912.0 355.8 914.7 356.7 C917.3 357.6 920.0 358.6 922.7 359.3 C925.3 360.1 929.3 361.0 930.7 361.3 M899.3 357.6 C900.6 357.6 904.3 357.5 906.7 357.3 C909.0 357.2 912.2 356.8 913.3 356.7 M909.3 363.1 C910.2 362.8 912.9 362.0 914.7 361.3 C916.4 360.7 919.1 359.7 920.0 359.3 M941.3 404.3 C939.1 404.8 932.4 406.1 928.0 407.0 C923.6 407.9 919.1 408.8 914.7 409.7 C910.2 410.6 906.2 411.3 901.3 412.3 C896.4 413.3 890.7 414.6 885.3 415.7 C880.0 416.8 874.7 417.9 869.3 419.0 C864.0 420.1 858.7 421.2 853.3 422.3 C848.0 423.4 842.2 424.7 837.3 425.7 C832.4 426.7 828.0 427.7 824.0 428.3 C820.0 429.0 815.1 429.4 813.3 429.7 M888.9 375.0 C889.7 374.6 891.3 372.2 893.3 372.3 C895.4 372.4 899.1 374.2 901.3 375.7 C903.6 377.1 904.4 379.2 906.7 381.0 C908.9 382.8 912.0 385.0 914.7 386.3 C917.3 387.7 921.3 388.6 922.7 389.0 M896.0 383.7 C897.1 383.8 900.7 384.6 902.7 384.3 C904.7 384.1 907.1 382.7 908.0 382.3 M892.0 376.3 C893.1 376.6 896.9 377.2 898.7 377.7 C900.4 378.1 902.0 378.8 902.7 379.0 M922.7 389.3 C920.0 389.6 911.6 390.5 906.7 391.0 C901.8 391.5 897.8 391.9 893.3 392.3 C888.9 392.8 884.4 393.4 880.0 393.7 C875.6 393.9 870.2 394.0 866.7 393.7 C863.1 393.3 861.6 392.4 858.7 391.7 C855.8 390.9 850.9 389.4 849.3 389.0 M866.4 377.3 C867.8 377.7 872.0 378.4 874.7 379.7 C877.4 381.0 880.0 383.2 882.7 385.0 C885.3 386.8 888.4 389.2 890.7 390.3 C892.9 391.5 895.1 391.7 896.0 391.9 M863.3 381.3 C864.6 381.2 868.3 380.8 870.7 381.0 C873.0 381.2 876.2 382.1 877.3 382.3 M848.0 393.0 C849.3 393.0 853.3 392.9 856.0 393.0 C858.7 393.1 862.7 393.4 864.0 393.5 M848.7 398.3 C850.1 398.1 854.6 397.7 857.3 397.0 C860.1 396.3 864.0 394.8 865.3 394.3 M851.3 403.7 C852.3 403.2 855.4 402.3 857.3 401.0 C859.2 399.7 861.8 396.6 862.7 395.7 M874.4 399.9 C875.1 399.3 877.5 397.4 878.7 396.3 C879.8 395.3 880.9 394.1 881.3 393.7 M912.0 401.3 C913.3 401.7 917.3 403.3 920.0 403.7 C922.7 404.1 924.9 403.6 928.0 403.7 C931.1 403.8 936.9 404.1 938.7 404.2 M884.7 404.3 C886.1 404.2 890.6 403.3 893.3 403.7 C896.1 404.0 898.7 405.4 901.3 406.3 C904.0 407.2 906.9 408.5 909.3 409.0 C911.8 409.5 914.9 409.2 916.0 409.3 M884.0 409.0 C885.1 408.8 888.7 408.2 890.7 407.7 C892.7 407.1 895.1 406.0 896.0 405.7 M859.3 412.7 C861.0 413.1 865.9 414.6 869.3 415.0 C872.8 415.4 876.4 415.5 880.0 415.4 C883.6 415.3 888.9 414.5 890.7 414.3 M835.1 417.0 C836.3 417.4 840.1 418.8 842.7 419.4 C845.3 420.0 848.2 420.0 850.7 420.3 C853.1 420.6 856.2 421.1 857.3 421.3 M810.9 426.6 C812.2 426.7 816.0 426.8 818.7 427.0 C821.3 427.2 825.3 427.6 826.7 427.7 M810.9 432.3 C812.2 432.0 816.3 431.0 818.7 430.3 C821.1 429.7 824.2 428.7 825.3 428.3 M885.3 417.0 C882.7 417.9 874.7 420.8 869.3 422.3 C864.0 423.9 858.2 425.0 853.3 426.3 C848.4 427.7 844.0 429.0 840.0 430.3 C836.0 431.7 831.8 432.9 829.3 434.3 C826.9 435.8 826.0 438.2 825.3 439.0 M822.0 435.0 C822.8 434.7 825.2 433.3 826.7 433.0 C828.1 432.7 830.0 433.2 830.7 433.3 M820.3 446.3 C821.3 445.9 824.7 445.0 826.7 443.7 C828.6 442.3 829.8 439.9 832.0 438.3 C834.2 436.8 836.9 435.9 840.0 434.3 C843.1 432.8 847.6 430.6 850.7 429.0 C853.8 427.4 857.3 425.7 858.7 425.0 M824.7 451.9 C825.1 451.0 826.4 448.2 827.3 446.3 C828.2 444.5 829.6 441.9 830.0 441.0 M849.6 439.0 C850.4 438.2 852.7 436.0 854.7 434.3 C856.6 432.7 858.4 430.8 861.3 429.0 C864.2 427.2 868.4 425.3 872.0 423.7 C875.6 422.0 880.9 419.8 882.7 419.0 M854.7 441.7 C855.3 440.7 857.3 437.6 858.7 435.7 C860.0 433.8 862.0 431.2 862.7 430.3 M864.4 438.3 C865.0 437.2 866.7 433.7 868.0 431.7 C869.3 429.7 871.3 427.2 872.0 426.3 M941.3 404.3 C940.4 406.0 938.2 411.1 936.0 414.3 C933.8 417.6 930.7 421.0 928.0 423.7 C925.3 426.3 922.7 427.7 920.0 430.3 C917.3 433.0 915.1 436.3 912.0 439.7 C908.9 443.0 905.3 446.8 901.3 450.3 C897.3 453.9 892.4 457.7 888.0 461.0 C883.6 464.3 878.9 467.4 874.7 470.3 C870.4 473.2 865.8 476.4 862.7 478.3 C859.6 480.3 857.1 481.4 856.0 482.1 M930.7 422.3 C931.1 423.9 932.7 428.6 933.3 431.7 C934.0 434.8 934.4 438.1 934.7 441.0 C934.9 443.9 934.7 447.7 934.7 449.0 M933.3 431.7 C934.0 432.8 936.2 435.7 937.3 438.3 C938.4 441.0 939.6 446.1 940.0 447.7 M920.0 430.3 C919.6 431.9 917.4 437.0 917.3 439.7 C917.2 442.3 919.4 444.1 919.3 446.3 C919.2 448.6 917.1 451.9 916.7 453.0 M897.3 432.3 C898.7 432.2 902.7 432.0 905.3 431.7 C908.0 431.4 910.9 430.9 913.3 430.6 C915.8 430.3 918.9 429.8 920.0 429.7 M889.3 439.0 C890.9 438.9 895.8 438.9 898.7 438.3 C901.6 437.8 904.0 436.8 906.7 435.7 C909.3 434.6 913.3 432.3 914.7 431.7 M891.3 443.0 C892.8 442.8 897.2 442.7 900.0 441.7 C902.8 440.7 906.7 437.8 908.0 437.0 M850.7 455.9 C852.0 456.2 855.6 457.6 858.7 457.7 C861.8 457.7 865.8 457.6 869.3 456.3 C872.9 455.1 876.4 452.0 880.0 450.3 C883.6 448.7 887.6 447.3 890.7 446.3 C893.8 445.3 896.0 445.2 898.7 444.3 C901.3 443.4 905.3 441.6 906.7 441.0 M853.7 461.7 C854.8 461.4 857.8 460.9 860.0 460.3 C862.2 459.7 865.6 458.4 866.7 458.1 M912.0 440.3 C911.1 441.8 908.7 446.2 906.7 449.0 C904.7 451.8 901.3 454.3 900.0 457.0 C898.7 459.7 899.1 462.4 898.7 465.0 C898.2 467.6 897.6 471.1 897.3 472.3 M898.7 457.0 C897.3 458.3 893.3 462.3 890.7 465.0 C888.0 467.7 884.7 470.2 882.7 473.0 C880.7 475.8 879.3 480.6 878.7 482.1 M828.7 472.3 C830.6 471.9 835.9 470.0 840.0 469.7 C844.1 469.3 849.3 470.1 853.3 470.3 C857.3 470.6 860.4 471.4 864.0 471.0 C867.6 470.6 872.9 468.2 874.7 467.7 M831.3 475.7 C832.6 475.1 836.6 473.2 838.7 472.3 C840.8 471.4 843.1 470.7 844.0 470.3 M822.7 482.1 C824.7 481.7 831.1 480.7 834.7 479.7 C838.2 478.6 840.9 477.1 844.0 475.7 C847.1 474.2 851.8 471.8 853.3 471.0 M881.3 474.3 L884.0 482.1 M864.0 475.7 L862.7 482.1 M856.0 482.0 C854.9 483.3 851.8 487.3 849.3 490.0 C846.9 492.7 843.6 495.3 841.3 498.0 C839.1 500.7 837.3 504.1 836.0 506.0 C834.7 507.9 834.1 508.8 833.7 509.3 M840.0 512.4 C840.2 511.1 840.7 507.3 841.3 504.7 C842.0 502.0 843.6 498.0 844.0 496.7 M850.7 492.7 C851.1 493.6 853.0 496.3 853.3 498.0 C853.7 499.7 852.8 501.9 852.7 502.7 M816.3 490.7 C817.1 489.9 819.6 487.2 821.3 486.0 C823.1 484.8 824.7 484.0 826.7 483.3 C828.7 482.7 832.2 482.2 833.3 482.0 M827.3 491.1 C828.1 490.3 830.6 488.2 832.0 486.7 C833.4 485.2 835.3 482.8 836.0 482.0 M812.0 484.0 C813.3 483.9 817.6 483.7 820.0 483.6 C822.4 483.5 825.6 483.4 826.7 483.3 M862.0 489.7 C862.1 488.9 862.6 486.0 862.7 484.7 C862.8 483.4 862.7 482.4 862.7 482.0 M883.7 489.6 C883.7 488.8 883.7 485.9 883.3 484.7 C882.9 483.4 881.7 482.4 881.3 482.0 M876.0 488.0 C876.2 487.2 876.9 484.3 877.3 483.3 C877.8 482.3 878.4 482.2 878.7 482.0" fill="none" stroke="#c5ab70" stroke-width="1.9" stroke-linecap="round" stroke-linejoin="round"/>
<path d="M980.0 212.3 C980.9 212.8 982.4 213.9 985.3 215.0 C988.2 216.1 993.1 217.6 997.3 219.0 C1001.6 220.4 1006.2 222.2 1010.7 223.7 C1015.1 225.1 1019.6 226.7 1024.0 227.7 C1028.4 228.7 1032.8 229.3 1037.3 229.7 C1041.9 230.0 1049.0 229.7 1051.3 229.7 M1051.3 229.7 C1052.8 231.7 1056.8 237.3 1060.0 241.7 C1063.2 246.1 1068.9 253.7 1070.7 256.1" fill="none" stroke="#b575a1" stroke-width="2.6" stroke-linecap="round" stroke-linejoin="round"/>
<path d="M1040.0 256.0 C1042.4 256.9 1050.2 259.7 1054.7 261.3 C1059.1 263.0 1063.0 264.6 1066.7 266.0 C1070.3 267.4 1075.0 269.3 1076.7 270.0 M1030.7 256.0 C1031.8 256.1 1035.1 256.3 1037.3 256.7 C1039.6 257.0 1042.9 257.8 1044.0 258.0" fill="none" stroke="#b575a1" stroke-width="2.2" stroke-linecap="round" stroke-linejoin="round"/>
<path d="M872.4 59.3 C873.7 60.0 877.2 61.3 880.0 63.3 C882.8 65.3 886.0 68.0 889.3 71.3 C892.7 74.7 896.4 79.3 900.0 83.3 C903.6 87.3 907.1 90.9 910.7 95.3 C914.2 99.8 917.8 105.1 921.3 110.0 C924.9 114.9 928.9 120.2 932.0 124.7 C935.1 129.1 937.3 132.7 940.0 136.7 C942.7 140.7 945.6 144.9 948.0 148.7 C950.4 152.4 953.1 156.9 954.7 159.3 C956.2 161.7 956.9 162.4 957.3 163.1 M869.1 66.9 C870.7 67.0 875.7 66.8 878.7 67.3 C881.6 67.8 885.3 69.6 886.7 70.0 M891.3 81.7 C892.3 82.2 895.0 82.8 897.3 84.7 C899.7 86.5 902.7 90.2 905.3 92.7 C908.0 95.1 912.0 98.2 913.3 99.3 M842.8 74.8 C844.3 75.2 848.7 76.1 852.0 77.3 C855.3 78.5 858.7 79.9 862.7 82.0 C866.7 84.1 871.6 86.7 876.0 90.0 C880.4 93.3 885.3 98.2 889.3 102.0 C893.3 105.8 896.0 109.1 900.0 112.7 C904.0 116.2 908.9 120.2 913.3 123.3 C917.8 126.4 922.1 128.8 926.7 131.3 C931.2 133.9 938.3 137.4 940.7 138.7 M842.0 83.2 C843.4 83.0 847.9 82.1 850.7 81.7 C853.4 81.4 857.3 81.1 858.7 80.9 M859.9 87.7 C861.2 87.9 865.1 88.2 868.0 88.9 C870.9 89.7 875.8 91.8 877.3 92.4 M876.9 97.6 C878.1 98.0 881.5 98.5 884.0 100.0 C886.5 101.5 889.3 104.3 892.0 106.7 C894.7 109.0 898.7 112.8 900.0 114.0 M914.9 108.4 C915.8 108.9 918.0 109.5 920.0 111.3 C922.0 113.2 924.4 116.7 926.7 119.3 C928.9 122.0 932.2 126.0 933.3 127.3 M898.0 119.2 C899.2 119.6 902.3 120.0 905.3 121.3 C908.3 122.7 912.7 125.6 916.0 127.3 C919.3 129.0 923.8 130.9 925.3 131.6 M850.9 106.7 C852.4 107.2 856.7 108.3 860.0 110.0 C863.3 111.7 867.1 114.2 870.7 116.7 C874.2 119.1 877.8 121.8 881.3 124.7 C884.9 127.6 888.4 130.7 892.0 134.0 C895.6 137.3 899.1 141.1 902.7 144.7 C906.2 148.2 910.2 152.3 913.3 155.3 C916.4 158.4 920.0 161.8 921.3 163.1 M848.4 110.7 C849.7 110.8 853.6 111.3 856.0 111.6 C858.4 111.9 861.6 112.5 862.7 112.7 M874.9 129.6 C876.0 129.9 878.9 130.2 881.3 131.3 C883.7 132.5 886.7 134.9 889.3 136.7 C892.0 138.4 896.0 141.1 897.3 142.0 M910.8 134.8 C912.1 135.1 915.6 135.5 918.7 136.7 C921.8 137.9 925.8 140.0 929.3 142.0 C932.9 144.0 936.7 146.8 940.0 148.7 C943.3 150.5 947.8 152.2 949.3 152.9 M835.3 123.3 C836.8 123.9 840.8 125.3 844.0 126.7 C847.2 128.0 851.1 129.4 854.7 131.3 C858.2 133.2 861.8 135.6 865.3 138.0 C868.9 140.4 872.4 143.3 876.0 146.0 C879.6 148.7 883.1 151.2 886.7 154.0 C890.2 156.8 895.6 161.6 897.3 163.1 M833.3 128.0 C834.4 128.2 837.8 128.8 840.0 128.9 C842.2 129.0 845.6 128.7 846.7 128.7 M850.4 140.4 C851.8 140.7 855.7 140.8 858.7 142.0 C861.6 143.2 864.9 145.6 868.0 147.3 C871.1 149.1 874.4 151.3 877.3 152.7 C880.2 154.0 884.0 154.9 885.3 155.3 M888.8 141.9 C889.8 142.1 892.4 142.2 894.7 143.3 C897.0 144.5 900.0 146.7 902.7 148.7 C905.3 150.7 908.4 153.3 910.7 155.3 C912.9 157.3 915.1 159.8 916.0 160.7 M875.7 155.5 C876.9 155.7 880.0 155.4 882.7 156.7 C885.4 157.9 890.4 162.0 892.0 163.1 M932.7 153.6 C933.7 153.9 936.3 154.2 938.7 155.3 C941.0 156.5 944.7 159.4 946.7 160.7 C948.7 162.0 950.0 162.7 950.7 163.1 M940.7 51.3 C941.9 52.4 945.9 55.6 948.0 58.0 C950.1 60.4 951.6 62.4 953.3 66.0 C955.1 69.6 956.7 74.9 958.7 79.3 C960.7 83.8 962.7 88.0 965.3 92.7 C968.0 97.3 971.6 102.4 974.7 107.3 C977.8 112.2 980.9 117.3 984.0 122.0 C987.1 126.7 990.0 131.1 993.3 135.3 C996.7 139.6 1000.7 143.3 1004.0 147.3 C1007.3 151.3 1011.1 156.7 1013.3 159.3 C1015.6 162.0 1016.7 162.4 1017.3 163.1 M934.9 57.2 C936.2 57.6 940.3 58.5 942.7 59.3 C945.1 60.1 948.2 61.6 949.3 62.0 M944.8 68.0 C945.8 68.6 949.0 70.5 950.7 71.3 C952.4 72.2 954.2 72.7 954.9 72.9 M946.9 76.7 C948.0 77.2 951.4 79.1 953.3 80.0 C955.3 80.9 957.8 81.7 958.7 82.0 M943.1 82.4 C944.3 82.8 948.1 83.9 950.7 84.9 C953.3 86.0 956.4 87.4 958.7 88.7 C960.9 90.0 963.1 92.0 964.0 92.7 M941.7 87.6 C943.0 87.8 946.5 88.3 949.3 88.7 C952.2 89.1 957.1 89.8 958.7 90.0 M965.6 79.3 C965.8 80.4 966.0 83.8 966.7 86.0 C967.3 88.2 968.2 89.7 969.3 92.7 C970.4 95.7 972.7 102.1 973.3 104.0 M972.0 80.0 C971.9 81.0 971.8 83.9 971.3 86.0 C970.9 88.1 969.7 91.6 969.3 92.7 M943.3 96.0 C944.6 96.7 947.9 98.3 950.7 100.0 C953.4 101.7 956.9 103.7 960.0 106.0 C963.1 108.3 966.0 110.9 969.3 114.0 C972.7 117.1 976.7 121.6 980.0 124.7 C983.3 127.8 987.8 131.3 989.3 132.7 M940.7 100.8 C941.9 100.9 945.7 100.9 948.0 101.3 C950.3 101.8 953.6 103.0 954.7 103.3 M958.0 97.9 C958.6 98.6 960.6 100.4 961.3 102.0 C962.1 103.6 962.4 106.7 962.7 107.6 M954.3 113.6 C955.4 114.1 958.8 115.3 961.3 116.7 C963.8 118.1 966.7 120.1 969.3 122.0 C972.0 123.9 976.0 127.0 977.3 128.0 M948.0 116.7 C949.3 116.9 953.3 117.3 956.0 118.0 C958.7 118.7 962.7 120.2 964.0 120.7 M947.7 122.0 C949.1 122.1 952.8 122.4 956.0 122.7 C959.2 122.9 964.9 123.2 966.7 123.3 M977.3 134.3 C978.7 134.7 982.7 135.4 985.3 136.7 C988.0 138.0 990.9 140.4 993.3 142.0 C995.8 143.6 998.9 145.6 1000.0 146.3 M997.3 50.0 C997.7 51.8 998.4 56.2 999.3 60.7 C1000.2 65.1 1001.4 71.8 1002.7 76.7 C1003.9 81.6 1005.1 85.1 1006.7 90.0 C1008.2 94.9 1010.2 101.1 1012.0 106.0 C1013.8 110.9 1016.0 116.2 1017.3 119.3 C1018.7 122.4 1019.6 123.8 1020.0 124.7 M990.0 56.4 C990.8 57.3 993.2 59.5 994.7 62.0 C996.1 64.5 997.6 68.4 998.7 71.3 C999.8 74.2 1000.9 78.0 1001.3 79.3 M1009.7 62.0 C1009.2 62.9 1007.3 64.9 1006.7 67.3 C1006.0 69.8 1006.0 73.3 1006.0 76.7 C1006.0 80.0 1006.6 85.6 1006.7 87.3 M1012.9 70.9 C1012.8 72.3 1012.4 76.4 1012.0 79.3 C1011.6 82.3 1011.1 85.9 1010.7 88.7 C1010.2 91.4 1009.6 94.8 1009.3 96.0 M986.8 82.8 C987.7 83.8 990.5 86.1 992.0 88.7 C993.5 91.2 994.7 94.4 996.0 98.0 C997.3 101.6 998.7 105.6 1000.0 110.0 C1001.3 114.4 1002.9 120.0 1004.0 124.7 C1005.1 129.3 1005.8 133.8 1006.7 138.0 C1007.6 142.2 1008.9 148.0 1009.3 150.0 M983.9 88.1 C984.8 88.4 987.8 89.0 989.3 90.0 C990.9 91.0 992.7 93.3 993.3 94.0 M997.3 81.7 C998.0 82.4 1000.2 84.4 1001.3 86.0 C1002.4 87.6 1003.6 90.4 1004.0 91.3 M999.3 89.7 C999.2 90.7 998.7 92.8 998.7 95.3 C998.7 97.8 999.2 103.1 999.3 104.7 M991.5 106.3 C992.2 106.9 994.6 108.8 996.0 110.0 C997.4 111.2 999.3 112.8 1000.0 113.3 M987.2 110.9 C988.2 111.2 991.4 111.8 993.3 112.7 C995.2 113.5 997.8 115.4 998.7 116.0 M1008.0 131.3 C1007.8 132.4 1006.7 135.6 1006.7 138.0 C1006.7 140.4 1007.8 144.7 1008.0 146.0 M990.9 40.4 C991.3 41.6 992.4 44.6 993.3 47.3 C994.3 50.0 995.9 53.8 996.7 56.7 C997.4 59.6 997.8 63.3 998.0 64.7 M999.2 40.4 C998.9 41.6 997.8 45.1 997.3 47.3 C996.9 49.6 996.8 52.9 996.7 54.0 M1020.0 124.7 C1020.4 125.8 1021.3 128.3 1022.7 131.3 C1024.0 134.4 1027.1 141.1 1028.0 143.1 M1019.3 74.4 C1018.7 75.2 1016.3 77.8 1015.3 79.3 C1014.3 80.8 1013.7 82.7 1013.3 83.3 M1012.9 70.9 C1012.8 72.1 1011.9 75.9 1012.0 78.0 C1012.1 80.1 1012.8 80.9 1013.3 83.3 C1013.8 85.8 1014.6 89.6 1014.9 92.7 C1015.3 95.8 1015.5 98.9 1015.3 102.0 C1015.2 105.1 1014.2 109.8 1014.0 111.3 M1018.7 91.5 C1018.3 92.3 1016.8 94.9 1016.3 96.7 C1015.7 98.4 1015.5 101.1 1015.3 102.0 M1029.7 73.3 C1029.3 74.6 1028.0 77.9 1027.3 80.7 C1026.7 83.4 1026.1 86.4 1026.0 90.0 C1025.9 93.6 1026.2 98.2 1026.7 102.0 C1027.1 105.8 1028.2 109.1 1028.7 112.7 C1029.1 116.2 1029.7 120.0 1029.3 123.3 C1029.0 126.7 1027.4 130.4 1026.7 132.7 C1025.9 134.9 1025.0 136.0 1024.7 136.7 M1036.9 75.6 C1036.1 76.4 1033.5 79.2 1032.0 80.7 C1030.5 82.2 1028.7 84.0 1028.0 84.7 M1031.6 96.7 C1031.6 98.0 1031.6 101.6 1031.3 104.7 C1031.1 107.8 1030.2 113.6 1030.0 115.3 M1038.3 93.1 C1037.9 94.1 1036.9 97.2 1036.0 99.3 C1035.1 101.5 1033.4 103.8 1032.7 106.0 C1031.9 108.2 1031.6 111.6 1031.3 112.7 M1043.3 96.3 C1042.6 97.0 1040.0 99.3 1038.7 100.7 C1037.3 102.1 1035.9 104.0 1035.3 104.7 M1035.7 122.3 C1035.7 123.6 1035.5 126.5 1035.3 130.0 C1035.2 133.5 1035.0 140.9 1034.9 143.1 M1042.4 124.7 C1042.0 125.8 1041.1 129.3 1040.0 131.3 C1038.9 133.3 1036.7 135.8 1036.0 136.7 M1056.7 106.7 C1057.2 107.7 1058.9 109.9 1060.0 112.7 C1061.1 115.4 1062.7 119.8 1063.3 123.3 C1064.0 126.9 1064.0 130.7 1064.0 134.0 C1064.0 137.3 1063.4 141.6 1063.3 143.1 M1059.7 104.1 C1060.0 105.1 1060.8 107.9 1061.3 110.0 C1061.8 112.1 1062.4 115.6 1062.7 116.7 M1071.3 128.7 C1070.8 129.6 1068.8 131.6 1068.0 134.0 C1067.2 136.4 1066.9 141.6 1066.7 143.1 M1008.7 132.0 C1008.4 132.8 1007.7 134.8 1007.3 136.7 C1007.0 138.5 1006.8 142.0 1006.7 143.1 M1000.0 143.0 C1001.6 144.8 1006.2 149.7 1009.3 153.7 C1012.4 157.7 1015.6 162.1 1018.7 167.0 C1021.8 171.9 1024.9 177.4 1028.0 183.0 C1031.1 188.6 1034.4 194.8 1037.3 200.3 C1040.2 205.9 1043.0 211.4 1045.3 216.3 C1047.7 221.2 1050.3 227.4 1051.3 229.7 M1028.0 143.0 C1028.9 145.4 1031.8 152.1 1033.3 157.7 C1034.9 163.2 1036.3 170.8 1037.3 176.3 C1038.3 181.9 1038.8 186.8 1039.3 191.0 C1039.9 195.2 1040.4 199.9 1040.7 201.7 M1034.9 143.0 C1035.4 145.4 1037.0 152.1 1037.6 157.7 C1038.2 163.2 1038.5 173.2 1038.7 176.3 M1006.7 143.0 C1006.8 143.7 1007.0 145.7 1007.3 147.0 C1007.7 148.3 1008.4 150.3 1008.7 151.0 M1044.0 145.7 C1044.9 147.9 1047.6 154.3 1049.3 159.0 C1051.1 163.7 1053.4 169.0 1054.7 173.7 C1055.9 178.3 1056.4 182.1 1056.7 187.0 C1056.9 191.9 1056.2 198.1 1056.0 203.0 C1055.8 207.9 1055.6 211.8 1055.3 216.3 C1055.1 220.9 1054.6 228.0 1054.4 230.3 M1042.0 144.1 L1044.7 149.7 M1047.3 144.1 L1046.0 149.7 M1056.0 150.3 C1055.9 151.6 1055.1 154.9 1055.3 157.7 C1055.6 160.4 1056.8 164.2 1057.3 167.0 C1057.9 169.8 1058.4 173.1 1058.7 174.3 M1063.3 143.0 C1063.3 144.8 1063.7 149.7 1063.3 153.7 C1063.0 157.7 1062.1 162.8 1061.3 167.0 C1060.6 171.2 1059.4 175.7 1058.7 179.0 C1057.9 182.3 1057.0 185.7 1056.7 187.0 M1066.7 143.0 C1066.6 143.9 1066.4 146.3 1066.0 148.3 C1065.6 150.3 1064.3 153.9 1064.0 155.0 M1073.3 143.7 C1073.1 145.1 1072.1 149.1 1072.0 152.3 C1071.9 155.6 1072.9 159.7 1072.7 163.0 C1072.4 166.3 1071.9 169.0 1070.7 172.3 C1069.4 175.7 1067.3 179.7 1065.3 183.0 C1063.3 186.3 1060.2 190.1 1058.7 192.3 C1057.2 194.6 1056.7 195.7 1056.3 196.3 M1086.0 143.7 C1084.8 145.3 1080.8 150.0 1078.7 153.7 C1076.6 157.3 1074.2 163.7 1073.3 165.7 M1090.7 149.0 C1089.3 149.8 1084.7 152.2 1082.7 153.7 C1080.7 155.1 1079.3 157.0 1078.7 157.7 M1078.7 145.0 C1078.0 146.0 1075.7 149.1 1074.7 151.0 C1073.7 152.9 1073.0 155.4 1072.7 156.3 M1078.0 173.0 C1077.6 174.4 1076.1 179.1 1075.3 181.7 C1074.6 184.2 1073.9 185.4 1073.3 188.3 C1072.8 191.2 1072.4 195.4 1072.0 199.0 C1071.6 202.6 1070.8 206.1 1070.7 209.7 C1070.6 213.2 1071.6 216.3 1071.3 220.3 C1071.1 224.3 1070.1 229.9 1069.3 233.7 C1068.6 237.4 1067.3 240.6 1066.7 243.0 C1066.0 245.4 1065.6 247.4 1065.3 248.3 M1082.0 174.3 C1081.6 175.2 1080.4 178.2 1079.3 179.7 C1078.2 181.1 1076.0 182.4 1075.3 183.0 M1076.0 196.3 C1075.7 197.2 1074.4 199.9 1074.0 201.7 C1073.6 203.4 1073.4 206.1 1073.3 207.0 M993.1 164.7 C994.0 166.0 996.6 168.8 998.7 172.3 C1000.7 175.8 1003.6 181.2 1005.3 185.7 C1007.1 190.1 1008.0 194.6 1009.3 199.0 C1010.7 203.4 1011.6 208.3 1013.3 212.3 C1015.1 216.3 1018.2 220.4 1020.0 223.0 C1021.8 225.6 1023.3 226.9 1024.0 227.7 M986.9 167.4 C987.6 167.8 989.2 169.0 990.7 169.7 C992.2 170.4 995.1 171.3 996.0 171.7 M980.0 171.7 C981.3 172.2 985.8 173.3 988.0 175.0 C990.2 176.7 991.8 178.8 993.3 181.7 C994.9 184.6 995.8 189.4 997.3 192.3 C998.9 195.2 1000.7 197.3 1002.7 199.0 C1004.7 200.7 1008.2 201.8 1009.3 202.3 M980.0 192.3 C981.3 194.1 985.1 199.4 988.0 203.0 C990.9 206.6 994.2 210.6 997.3 213.7 C1000.4 216.8 1004.0 219.7 1006.7 221.7 C1009.3 223.7 1012.2 225.0 1013.3 225.7 M980.0 204.3 C980.9 205.0 983.3 207.6 985.3 208.3 C987.3 209.0 990.9 208.6 992.0 208.6 M980.0 217.7 C982.2 218.3 988.9 220.4 993.3 221.7 C997.8 222.9 1004.4 224.4 1006.7 225.0 M1001.3 234.3 C1002.7 234.7 1006.2 235.1 1009.3 236.3 C1012.4 237.6 1016.4 239.7 1020.0 241.7 C1023.6 243.7 1027.3 245.9 1030.7 248.3 C1034.0 250.7 1038.4 254.8 1040.0 256.1 M1005.3 231.0 L1009.3 235.7 M996.7 245.0 C997.9 245.1 1001.0 245.1 1004.0 245.7 C1007.0 246.2 1011.1 247.0 1014.7 248.3 C1018.2 249.7 1022.7 252.4 1025.3 253.7 C1028.0 255.0 1029.8 255.7 1030.7 256.1 M998.7 240.3 C999.3 240.9 1001.3 242.7 1002.7 243.7 C1004.0 244.6 1006.0 245.6 1006.7 245.9 M1043.3 245.7 C1044.3 246.2 1047.0 248.1 1049.3 249.0 C1051.7 249.9 1054.7 250.6 1057.3 251.0 C1060.0 251.4 1064.0 251.6 1065.3 251.7 M897.3 163.0 C899.6 164.6 905.8 169.2 910.7 172.3 C915.6 175.4 921.1 178.1 926.7 181.7 C932.2 185.2 938.4 189.9 944.0 193.7 C949.6 197.4 954.0 200.8 960.0 204.3 C966.0 207.9 973.3 211.9 980.0 215.0 C986.7 218.1 996.7 221.7 1000.0 223.0 M892.0 163.0 C893.1 163.7 896.2 165.7 898.7 167.0 C901.1 168.3 904.0 169.7 906.7 171.0 C909.3 172.3 913.3 174.3 914.7 175.0 M921.3 163.0 C922.9 165.0 927.3 171.2 930.7 175.0 C934.0 178.8 937.6 182.1 941.3 185.7 C945.1 189.2 949.1 193.0 953.3 196.3 C957.6 199.7 962.2 202.8 966.7 205.7 C971.1 208.6 977.8 212.3 980.0 213.7 M957.3 163.0 C958.4 164.8 961.3 170.1 964.0 173.7 C966.7 177.2 970.0 180.6 973.3 184.3 C976.7 188.1 980.7 192.6 984.0 196.3 C987.3 200.1 990.7 203.9 993.3 207.0 C996.0 210.1 998.9 213.7 1000.0 215.0 M950.7 163.0 L954.0 165.4 M948.4 167.7 C949.4 168.0 952.7 168.4 954.7 169.7 C956.6 170.9 958.2 173.4 960.0 175.0 C961.8 176.6 964.4 178.3 965.3 179.0 M962.0 186.3 C962.8 187.1 964.6 190.0 966.7 191.0 C968.8 192.0 972.7 192.2 974.7 192.3 C976.7 192.4 978.0 191.8 978.7 191.7 M977.3 202.3 C978.0 203.1 979.3 206.0 981.3 207.0 C983.3 208.0 987.1 208.1 989.3 208.3 C991.6 208.6 993.8 208.3 994.7 208.3 M876.0 176.3 C877.1 176.8 880.7 177.7 882.7 179.0 C884.7 180.3 886.2 183.0 888.0 184.3 C889.8 185.7 892.4 186.6 893.3 187.0 M850.4 182.6 C852.0 182.6 856.0 182.2 860.0 182.3 C864.0 182.5 869.6 183.0 874.7 183.7 C879.8 184.3 885.3 185.2 890.7 186.3 C896.0 187.4 901.8 189.0 906.7 190.3 C911.6 191.7 915.6 192.9 920.0 194.3 C924.4 195.8 928.9 197.3 933.3 199.0 C937.8 200.7 942.2 202.6 946.7 204.3 C951.1 206.1 955.6 207.9 960.0 209.7 C964.4 211.4 968.9 213.2 973.3 215.0 C977.8 216.8 982.2 218.8 986.7 220.3 C991.1 221.9 997.8 223.7 1000.0 224.3 M853.1 187.0 C853.8 186.7 855.7 185.7 857.3 185.0 C858.9 184.3 861.8 183.3 862.7 183.0 M861.7 191.9 C863.4 191.7 868.1 190.4 872.0 190.3 C875.9 190.3 880.9 191.2 885.3 191.7 C889.8 192.1 894.4 193.1 898.7 193.0 C902.9 192.9 908.7 191.6 910.7 191.3 M862.9 197.0 C863.8 196.4 866.0 194.6 868.0 193.7 C870.0 192.8 873.6 192.0 874.7 191.7 M860.3 205.0 C861.8 204.7 865.6 203.4 869.3 203.0 C873.1 202.6 878.2 202.1 882.7 202.3 C887.1 202.6 891.6 203.6 896.0 204.3 C900.4 205.1 904.9 206.4 909.3 207.0 C913.8 207.6 918.7 207.9 922.7 207.7 C926.7 207.4 930.0 206.3 933.3 205.7 C936.7 205.0 941.1 204.0 942.7 203.7 M862.9 209.0 C863.6 208.4 865.2 206.6 866.7 205.7 C868.2 204.8 871.1 204.0 872.0 203.7 M869.6 212.3 C870.9 211.9 873.8 210.3 877.3 209.7 C880.8 209.0 886.2 208.4 890.7 208.3 C895.1 208.2 900.7 209.2 904.0 209.0 C907.3 208.8 909.6 207.7 910.7 207.4 M872.9 216.1 C873.7 215.4 875.7 213.4 877.3 212.3 C879.0 211.3 881.8 210.1 882.7 209.7 M902.7 218.3 C904.0 217.8 907.3 216.0 910.7 215.0 C914.0 214.0 918.4 213.1 922.7 212.3 C926.9 211.6 932.0 211.1 936.0 210.3 C940.0 209.6 943.8 208.3 946.7 207.7 C949.6 207.1 952.2 206.9 953.3 206.7 M906.7 222.3 C907.6 221.7 910.2 219.6 912.0 218.3 C913.8 217.1 916.4 215.6 917.3 215.0 M924.7 181.3 C925.9 181.8 929.2 183.2 932.0 184.3 C934.8 185.5 938.4 186.8 941.3 188.3 C944.2 189.9 948.0 192.8 949.3 193.7 M928.0 186.6 C929.3 187.0 932.9 188.0 936.0 189.0 C939.1 190.0 943.3 191.1 946.7 192.3 C950.0 193.6 954.4 195.7 956.0 196.3 M925.3 192.6 C926.7 193.2 930.2 195.3 933.3 196.3 C936.4 197.4 940.4 198.3 944.0 199.0 C947.6 199.7 951.6 199.7 954.7 200.3 C957.8 201.0 961.3 202.6 962.7 203.0" fill="none" stroke="#b575a1" stroke-width="1.9" stroke-linecap="round" stroke-linejoin="round"/>
<defs><radialGradient id="tkfade" cx="1062" cy="245" r="55" gradientUnits="userSpaceOnUse"><stop offset="0" stop-color="#fff" stop-opacity=".4"/><stop offset=".5" stop-color="#fff" stop-opacity=".25"/><stop offset="1" stop-color="#fff" stop-opacity="0"/></radialGradient></defs><circle cx="1062" cy="245" r="55" fill="url(#tkfade)"/>
<defs><radialGradient id="hubfade" cx="1100" cy="368" r="80" gradientUnits="userSpaceOnUse"><stop offset="0" stop-color="#fff" stop-opacity=".42"/><stop offset=".55" stop-color="#fff" stop-opacity=".28"/><stop offset="1" stop-color="#fff" stop-opacity="0"/></radialGradient></defs><circle cx="1100" cy="368" r="80" fill="url(#hubfade)"/>
<g fill="#a4fd21"><circle cx="872.4" cy="59.3" r="3.5"/><circle cx="869.1" cy="66.9" r="3.5"/><circle cx="842.8" cy="74.8" r="3.5"/><circle cx="842.0" cy="83.2" r="3.5"/><circle cx="859.9" cy="87.7" r="3.5"/><circle cx="891.3" cy="81.7" r="3.5"/><circle cx="876.9" cy="97.6" r="3.5"/><circle cx="850.9" cy="106.7" r="3.5"/><circle cx="848.4" cy="110.7" r="3.5"/><circle cx="835.3" cy="123.3" r="3.5"/><circle cx="833.3" cy="128.0" r="3.5"/><circle cx="850.4" cy="140.4" r="3.5"/><circle cx="874.9" cy="129.6" r="3.5"/><circle cx="898.0" cy="119.2" r="3.5"/><circle cx="914.9" cy="108.4" r="3.5"/><circle cx="910.8" cy="134.8" r="3.5"/><circle cx="888.8" cy="141.9" r="3.5"/><circle cx="875.7" cy="155.5" r="3.5"/><circle cx="932.7" cy="153.6" r="3.5"/><circle cx="940.7" cy="51.3" r="3.5"/><circle cx="934.9" cy="57.2" r="3.5"/><circle cx="944.8" cy="68.0" r="3.5"/><circle cx="946.9" cy="76.7" r="3.5"/><circle cx="943.1" cy="82.4" r="3.5"/><circle cx="941.7" cy="87.6" r="3.5"/><circle cx="943.3" cy="96.0" r="3.5"/><circle cx="940.7" cy="100.8" r="3.5"/><circle cx="958.0" cy="97.9" r="3.5"/><circle cx="954.3" cy="113.6" r="3.5"/><circle cx="948.0" cy="116.7" r="3.5"/><circle cx="947.7" cy="122.0" r="3.5"/><circle cx="990.0" cy="56.4" r="3.5"/><circle cx="1009.7" cy="62.0" r="3.5"/><circle cx="1012.9" cy="70.9" r="3.5"/><circle cx="986.8" cy="82.8" r="3.5"/><circle cx="983.9" cy="88.1" r="3.5"/><circle cx="997.3" cy="81.7" r="3.5"/><circle cx="999.3" cy="89.7" r="3.5"/><circle cx="991.5" cy="106.3" r="3.5"/><circle cx="987.2" cy="110.9" r="3.5"/><circle cx="990.9" cy="40.4" r="3.5"/><circle cx="999.2" cy="40.4" r="3.5"/><circle cx="1019.3" cy="74.4" r="3.5"/><circle cx="1036.9" cy="75.6" r="3.5"/><circle cx="1018.7" cy="91.5" r="3.5"/><circle cx="1038.3" cy="93.1" r="3.5"/><circle cx="1043.3" cy="96.3" r="3.5"/><circle cx="1056.7" cy="106.7" r="3.5"/><circle cx="1059.7" cy="104.1" r="3.5"/><circle cx="1035.7" cy="122.3" r="3.5"/><circle cx="1071.3" cy="128.7" r="3.5"/><circle cx="1042.0" cy="144.1" r="3.5"/><circle cx="1047.3" cy="144.1" r="3.5"/><circle cx="1073.3" cy="143.7" r="3.5"/><circle cx="1078.7" cy="145.0" r="3.5"/><circle cx="1086.0" cy="143.7" r="3.5"/><circle cx="1090.7" cy="149.0" r="3.5"/><circle cx="993.1" cy="164.7" r="3.5"/><circle cx="986.9" cy="167.4" r="3.5"/><circle cx="980.0" cy="167.7" r="3.5"/><circle cx="1001.3" cy="234.3" r="3.5"/><circle cx="1118.0" cy="193.4" r="3.5"/><circle cx="1127.1" cy="187.4" r="3.5"/><circle cx="1144.3" cy="162.3" r="3.5"/><circle cx="1125.3" cy="208.6" r="3.5"/><circle cx="1147.7" cy="201.4" r="3.5"/><circle cx="1153.1" cy="204.3" r="3.5"/><circle cx="1160.3" cy="202.3" r="3.5"/><circle cx="1165.3" cy="207.7" r="3.5"/><circle cx="1173.3" cy="182.6" r="3.5"/><circle cx="1138.4" cy="241.4" r="3.5"/><circle cx="1101.5" cy="244.7" r="3.5"/><circle cx="948.4" cy="167.7" r="3.5"/><circle cx="976.7" cy="172.6" r="3.5"/><circle cx="876.0" cy="176.3" r="3.5"/><circle cx="850.4" cy="182.6" r="3.5"/><circle cx="853.1" cy="187.0" r="3.5"/><circle cx="861.7" cy="191.9" r="3.5"/><circle cx="862.9" cy="197.0" r="3.5"/><circle cx="860.3" cy="205.0" r="3.5"/><circle cx="862.9" cy="209.0" r="3.5"/><circle cx="869.6" cy="212.3" r="3.5"/><circle cx="872.9" cy="216.1" r="3.5"/><circle cx="924.7" cy="181.3" r="3.5"/><circle cx="928.0" cy="186.6" r="3.5"/><circle cx="925.3" cy="192.6" r="3.5"/><circle cx="902.7" cy="218.3" r="3.5"/><circle cx="906.7" cy="222.3" r="3.5"/><circle cx="1225.6" cy="109.6" r="3.5"/><circle cx="1236.7" cy="116.0" r="3.5"/><circle cx="1225.3" cy="131.3" r="3.5"/><circle cx="1198.4" cy="136.7" r="3.5"/><circle cx="1238.9" cy="172.8" r="3.5"/><circle cx="1246.4" cy="178.0" r="3.5"/><circle cx="1222.4" cy="183.3" r="3.5"/><circle cx="1200.0" cy="186.0" r="3.5"/><circle cx="1247.6" cy="195.3" r="3.5"/><circle cx="1248.3" cy="200.7" r="3.5"/><circle cx="1234.4" cy="205.7" r="3.5"/><circle cx="1237.3" cy="209.7" r="3.5"/><circle cx="1220.7" cy="215.0" r="3.5"/><circle cx="1223.3" cy="219.0" r="3.5"/><circle cx="1217.3" cy="226.7" r="3.5"/><circle cx="1216.0" cy="237.4" r="3.5"/><circle cx="1257.1" cy="233.3" r="3.5"/><circle cx="1266.0" cy="235.0" r="3.5"/><circle cx="1245.3" cy="245.4" r="3.5"/><circle cx="1273.6" cy="241.4" r="3.5"/><circle cx="1280.0" cy="246.7" r="3.5"/><circle cx="1193.3" cy="265.0" r="3.5"/><circle cx="1196.7" cy="271.0" r="3.5"/><circle cx="1185.3" cy="279.0" r="3.5"/><circle cx="1230.7" cy="291.7" r="3.5"/><circle cx="1267.3" cy="301.4" r="3.5"/><circle cx="1295.1" cy="262.3" r="3.5"/><circle cx="1316.0" cy="254.1" r="3.5"/><circle cx="1320.0" cy="260.1" r="3.5"/><circle cx="1314.4" cy="267.7" r="3.5"/><circle cx="1338.4" cy="258.6" r="3.5"/><circle cx="1342.4" cy="262.3" r="3.5"/><circle cx="1357.1" cy="255.9" r="3.5"/><circle cx="1356.0" cy="270.3" r="3.5"/><circle cx="1360.0" cy="275.7" r="3.5"/><circle cx="1344.0" cy="285.4" r="3.5"/><circle cx="1360.0" cy="283.0" r="3.5"/><circle cx="1338.4" cy="295.7" r="3.5"/><circle cx="1336.7" cy="301.7" r="3.5"/><circle cx="1295.3" cy="309.3" r="3.5"/><circle cx="1277.6" cy="316.1" r="3.5"/><circle cx="1290.7" cy="320.3" r="3.5"/><circle cx="1292.7" cy="325.0" r="3.5"/><circle cx="1318.0" cy="324.7" r="3.5"/><circle cx="1362.9" cy="261.7" r="3.5"/><circle cx="1281.6" cy="328.4" r="3.5"/><circle cx="1320.9" cy="331.6" r="3.5"/><circle cx="1311.7" cy="336.9" r="3.5"/><circle cx="1275.7" cy="339.1" r="3.5"/><circle cx="990.9" cy="306.0" r="3.5"/><circle cx="990.0" cy="333.1" r="3.5"/><circle cx="989.3" cy="336.7" r="3.5"/><circle cx="992.3" cy="351.7" r="3.5"/><circle cx="989.1" cy="364.7" r="3.5"/><circle cx="1135.3" cy="321.6" r="3.5"/><circle cx="1144.7" cy="320.3" r="3.5"/><circle cx="890.7" cy="274.7" r="3.5"/><circle cx="883.6" cy="278.0" r="3.5"/><circle cx="874.7" cy="283.3" r="3.5"/><circle cx="870.3" cy="288.4" r="3.5"/><circle cx="902.0" cy="283.3" r="3.5"/><circle cx="849.6" cy="310.4" r="3.5"/><circle cx="850.0" cy="316.3" r="3.5"/><circle cx="876.0" cy="312.7" r="3.5"/><circle cx="907.3" cy="328.7" r="3.5"/><circle cx="866.3" cy="332.3" r="3.5"/><circle cx="877.3" cy="330.3" r="3.5"/><circle cx="865.3" cy="338.7" r="3.5"/><circle cx="900.7" cy="352.3" r="3.5"/><circle cx="899.3" cy="357.6" r="3.5"/><circle cx="909.3" cy="363.1" r="3.5"/><circle cx="866.4" cy="377.3" r="3.5"/><circle cx="863.3" cy="381.3" r="3.5"/><circle cx="888.9" cy="375.0" r="3.5"/><circle cx="874.4" cy="399.9" r="3.5"/><circle cx="912.0" cy="401.3" r="3.5"/><circle cx="859.3" cy="412.7" r="3.5"/><circle cx="835.1" cy="417.0" r="3.5"/><circle cx="810.9" cy="426.6" r="3.5"/><circle cx="810.9" cy="432.3" r="3.5"/><circle cx="822.0" cy="435.0" r="3.5"/><circle cx="824.7" cy="439.7" r="3.5"/><circle cx="820.3" cy="446.3" r="3.5"/><circle cx="824.7" cy="451.9" r="3.5"/><circle cx="849.6" cy="439.0" r="3.5"/><circle cx="854.7" cy="441.7" r="3.5"/><circle cx="864.4" cy="438.3" r="3.5"/><circle cx="897.3" cy="432.3" r="3.5"/><circle cx="850.7" cy="455.9" r="3.5"/><circle cx="853.7" cy="461.7" r="3.5"/><circle cx="934.7" cy="449.3" r="3.5"/><circle cx="940.0" cy="447.9" r="3.5"/><circle cx="831.3" cy="475.7" r="3.5"/><circle cx="896.0" cy="473.4" r="3.5"/><circle cx="975.7" cy="447.7" r="3.5"/><circle cx="816.3" cy="490.7" r="3.5"/><circle cx="827.3" cy="491.1" r="3.5"/><circle cx="862.0" cy="489.7" r="3.5"/><circle cx="883.7" cy="489.6" r="3.5"/><circle cx="833.7" cy="509.3" r="3.5"/><circle cx="840.0" cy="512.4" r="3.5"/><circle cx="954.0" cy="513.7" r="3.5"/><circle cx="926.3" cy="539.1" r="3.5"/><circle cx="987.3" cy="371.4" r="3.5"/><circle cx="1022.4" cy="373.0" r="3.5"/><circle cx="1136.4" cy="378.6" r="3.5"/><circle cx="992.9" cy="396.1" r="3.5"/><circle cx="1022.0" cy="415.7" r="3.5"/><circle cx="998.4" cy="420.6" r="3.5"/><circle cx="1002.9" cy="429.7" r="3.5"/><circle cx="1005.1" cy="434.6" r="3.5"/><circle cx="1051.1" cy="437.0" r="3.5"/><circle cx="1017.6" cy="443.1" r="3.5"/><circle cx="1004.7" cy="451.0" r="3.5"/><circle cx="1007.3" cy="456.6" r="3.5"/><circle cx="1040.3" cy="452.1" r="3.5"/><circle cx="1015.7" cy="463.4" r="3.5"/><circle cx="1018.4" cy="469.9" r="3.5"/><circle cx="1006.7" cy="480.3" r="3.5"/><circle cx="1173.1" cy="431.7" r="3.5"/><circle cx="1145.3" cy="440.3" r="3.5"/><circle cx="1145.1" cy="447.7" r="3.5"/><circle cx="989.6" cy="487.3" r="3.5"/><circle cx="986.4" cy="491.6" r="3.5"/><circle cx="982.0" cy="499.3" r="3.5"/><circle cx="1097.3" cy="484.0" r="3.5"/><circle cx="1103.6" cy="496.4" r="3.5"/><circle cx="1023.1" cy="520.3" r="3.5"/><circle cx="1028.0" cy="525.3" r="3.5"/><circle cx="1050.4" cy="520.3" r="3.5"/><circle cx="1141.1" cy="500.0" r="3.5"/><circle cx="1152.7" cy="518.3" r="3.5"/><circle cx="1163.3" cy="514.4" r="3.5"/><circle cx="1130.0" cy="544.7" r="3.5"/><circle cx="1012.7" cy="573.7" r="3.5"/><circle cx="994.7" cy="587.3" r="3.5"/><circle cx="1008.0" cy="592.0" r="3.5"/><circle cx="1122.7" cy="578.7" r="3.5"/><circle cx="1104.3" cy="590.7" r="3.5"/><circle cx="1011.3" cy="597.0" r="3.5"/><circle cx="980.3" cy="605.7" r="3.5"/><circle cx="985.6" cy="612.1" r="3.5"/><circle cx="998.4" cy="615.9" r="3.5"/><circle cx="1004.7" cy="619.7" r="3.5"/><circle cx="1014.0" cy="615.4" r="3.5"/><circle cx="1062.0" cy="605.7" r="3.5"/><circle cx="1066.7" cy="609.9" r="3.5"/><circle cx="1129.3" cy="597.4" r="3.5"/><circle cx="1101.3" cy="615.7" r="3.5"/><circle cx="1125.3" cy="612.3" r="3.5"/><circle cx="1133.3" cy="613.3" r="3.5"/><circle cx="1076.7" cy="635.0" r="3.5"/><circle cx="1079.3" cy="640.3" r="3.5"/><circle cx="1082.0" cy="647.4" r="3.5"/><circle cx="1086.7" cy="652.1" r="3.5"/><circle cx="1092.4" cy="657.7" r="3.5"/><circle cx="1097.1" cy="661.0" r="3.5"/><circle cx="1127.7" cy="631.0" r="3.5"/><circle cx="1132.7" cy="632.3" r="3.5"/><circle cx="1156.0" cy="630.7" r="3.5"/><circle cx="1156.7" cy="641.7" r="3.5"/><circle cx="1149.6" cy="646.3" r="3.5"/><circle cx="1127.3" cy="655.4" r="3.5"/><circle cx="1148.0" cy="664.1" r="3.5"/><circle cx="1157.1" cy="663.0" r="3.5"/><circle cx="1088.7" cy="675.3" r="3.5"/><circle cx="1080.7" cy="691.3" r="3.5"/><circle cx="1089.1" cy="694.7" r="3.5"/><circle cx="1185.3" cy="584.0" r="3.5"/><circle cx="1166.0" cy="617.7" r="3.5"/><circle cx="1232.0" cy="614.4" r="3.5"/><circle cx="1231.3" cy="620.7" r="3.5"/><circle cx="1196.7" cy="632.0" r="3.5"/><circle cx="1190.0" cy="635.1" r="3.5"/><circle cx="1191.1" cy="642.4" r="3.5"/><circle cx="1183.1" cy="645.3" r="3.5"/><circle cx="1170.7" cy="643.6" r="3.5"/><circle cx="1175.1" cy="647.3" r="3.5"/><circle cx="1218.4" cy="661.1" r="3.5"/><circle cx="1287.3" cy="574.7" r="3.5"/><circle cx="1286.0" cy="580.7" r="3.5"/><circle cx="1284.3" cy="587.1" r="3.5"/><circle cx="1304.7" cy="620.7" r="3.5"/><circle cx="1296.7" cy="625.6" r="3.5"/><circle cx="1103.3" cy="714.2" r="3.5"/><circle cx="1096.1" cy="722.8" r="3.5"/><circle cx="1086.9" cy="728.1" r="3.5"/><circle cx="1078.8" cy="724.1" r="3.5"/><circle cx="1235.0" cy="700.1" r="3.5"/><circle cx="1238.2" cy="715.3" r="3.5"/><circle cx="1228.7" cy="717.7" r="3.5"/><circle cx="1274.0" cy="344.0" r="3.5"/><circle cx="1248.9" cy="360.9" r="3.5"/><circle cx="1264.3" cy="360.9" r="3.5"/><circle cx="1181.3" cy="359.6" r="3.5"/><circle cx="1212.4" cy="364.0" r="3.5"/><circle cx="1293.3" cy="367.1" r="3.5"/><circle cx="1296.7" cy="375.3" r="3.5"/><circle cx="1297.7" cy="381.3" r="3.5"/><circle cx="1298.3" cy="387.1" r="3.5"/><circle cx="1266.9" cy="394.3" r="3.5"/><circle cx="1278.0" cy="401.7" r="3.5"/><circle cx="1276.3" cy="409.3" r="3.5"/><circle cx="1255.6" cy="427.6" r="3.5"/><circle cx="1254.7" cy="443.9" r="3.5"/><circle cx="1253.3" cy="451.9" r="3.5"/><circle cx="1227.6" cy="451.9" r="3.5"/><circle cx="1287.6" cy="463.3" r="3.5"/><circle cx="1255.1" cy="468.1" r="3.5"/><circle cx="1337.3" cy="466.1" r="3.5"/><circle cx="1336.7" cy="474.3" r="3.5"/><circle cx="1309.6" cy="475.0" r="3.5"/><circle cx="1202.4" cy="485.4" r="3.5"/><circle cx="1323.1" cy="496.7" r="3.5"/><circle cx="1297.1" cy="499.4" r="3.5"/><circle cx="1296.3" cy="504.3" r="3.5"/><circle cx="1265.7" cy="520.6" r="3.5"/><circle cx="1264.4" cy="526.1" r="3.5"/><circle cx="1312.9" cy="519.7" r="3.5"/><circle cx="1313.6" cy="526.3" r="3.5"/><circle cx="1239.1" cy="527.4" r="3.5"/><circle cx="1231.7" cy="531.9" r="3.5"/><circle cx="1230.7" cy="536.7" r="3.5"/><circle cx="1290.0" cy="539.7" r="3.5"/><circle cx="1211.1" cy="545.3" r="3.5"/><circle cx="1193.7" cy="549.9" r="3.5"/><circle cx="1185.3" cy="552.1" r="3.5"/><circle cx="1315.7" cy="548.3" r="3.5"/><circle cx="1312.7" cy="551.0" r="3.5"/><circle cx="1330.0" cy="549.7" r="3.5"/><circle cx="1353.1" cy="485.3" r="3.5"/><circle cx="1354.0" cy="491.7" r="3.5"/><circle cx="1368.0" cy="497.3" r="3.5"/><circle cx="1367.3" cy="502.9" r="3.5"/><circle cx="1352.0" cy="504.0" r="3.5"/><circle cx="1369.1" cy="511.7" r="3.5"/><circle cx="1367.3" cy="517.3" r="3.5"/><circle cx="1355.3" cy="516.9" r="3.5"/><circle cx="1349.3" cy="541.3" r="3.5"/><circle cx="1349.1" cy="547.7" r="3.5"/><circle cx="1326.7" cy="553.3" r="3.5"/><circle cx="1288.0" cy="554.7" r="3.5"/><circle cx="1310.7" cy="559.3" r="3.5"/><circle cx="1302.9" cy="564.9" r="3.5"/><circle cx="1366.3" cy="559.1" r="3.5"/><circle cx="1374.7" cy="574.9" r="3.5"/><circle cx="1373.7" cy="580.9" r="3.5"/></g>
<g fill="#fff200"><circle cx="1029.7" cy="73.3" r="3.2"/><circle cx="1110.0" cy="196.1" r="3.2"/></g>
<g fill="#ed1c24"><circle cx="1031.6" cy="96.7" r="3.2"/></g>
<g fill="#ff9c1a"><circle cx="1222.0" cy="331.3" r="3.2"/></g></g>
<g class="lab">
<text x="817" y="164.5" textLength="19.2" lengthAdjust="spacingAndGlyphs">TK</text>
<text x="1242" y="154.8" textLength="29" lengthAdjust="spacingAndGlyphs">TKL</text>
<text x="1338.4" y="238.6" textLength="29" lengthAdjust="spacingAndGlyphs">STE</text>
<text x="809" y="362.8" textLength="46" lengthAdjust="spacingAndGlyphs">CMGC</text>
<text x="1306.7" y="413.4" textLength="29.3" lengthAdjust="spacingAndGlyphs">CK1</text>
<text x="1330.2" y="597.6" textLength="34.3" lengthAdjust="spacingAndGlyphs">AGC</text>
<text x="1134.2" y="697.5" textLength="46.5" lengthAdjust="spacingAndGlyphs">CAMK</text>
</g>
<rect x="813.4" y="547.4" width="99.2" height="10.4" fill="#2b4869"/>
<text x="863" y="555.6" text-anchor="middle" textLength="92" lengthAdjust="spacingAndGlyphs" style="font-family:'Liberation Sans',sans-serif;font-weight:bold;font-size:8.2px;fill:#fff">Atypical Protein Kinases</text>
<path d="M828.7 567.8H839.6M839.6 565.1H887.8M839.6 570.7H890.0M828.7 578.8H864.3M864.3 575.9H894.0M864.3 581.3H898.0M828.7 587.0H896.8M828.7 598.1H863.5M863.5 595.3H899.0M863.5 600.1H899.0M828.7 604.8H873.0M828.7 610.5H873.0M830.3 617.0H848.4M848.4 614.5H892.0M848.4 619.3H892.5M832.1 629.6H891.5M832.1 635.0H889.0M829.1 632.0H832.1M829.1 640.2H894.2M829.1 645.3H900.0M829.4 652.6H875.7M829.4 656.9H877.7M829.4 661.6H876.8M829.4 669.0H837.5M837.5 666.1H886.7M837.5 671.0H900.0M829.4 681.2H850.5M850.5 678.5H900.0M850.5 683.3H900.0M829.4 689.6H877.0M829.4 694.7H877.0M829.4 702.7H835.0M835.0 699.7H884.7M835.0 705.7H885.0M829.4 712.7H840.5M829.4 718.2H843.5M829.4 722.8H900.0M829.4 729.8H871.4M829.4 734.0H870.7M829.4 739.7H900.0M828.7 567.8V587.0M839.6 565.1V570.7M864.3 575.9V581.3M828.7 598.1V611.0M863.5 595.3V600.1M830.3 611.0V617.0M848.4 614.5V619.3M829.1 631.5V645.7M832.1 629.6V635.0M829.4 652.6V669.0M837.5 666.1V671.0M829.4 681.5V702.7M850.5 678.5V683.3M835.0 699.7V705.7M829.4 712.7V722.8M829.4 729.8V739.7" transform="translate(0.6,0.6)" fill="none" stroke="#b9bfcc" stroke-width="1"/>
<path d="M828.7 567.8H839.6M839.6 565.1H887.8M839.6 570.7H890.0M828.7 578.8H864.3M864.3 575.9H894.0M864.3 581.3H898.0M828.7 587.0H896.8M828.7 598.1H863.5M863.5 595.3H899.0M863.5 600.1H899.0M828.7 604.8H873.0M828.7 610.5H873.0M830.3 617.0H848.4M848.4 614.5H892.0M848.4 619.3H892.5M832.1 629.6H891.5M832.1 635.0H889.0M829.1 632.0H832.1M829.1 640.2H894.2M829.1 645.3H900.0M829.4 652.6H875.7M829.4 656.9H877.7M829.4 661.6H876.8M829.4 669.0H837.5M837.5 666.1H886.7M837.5 671.0H900.0M829.4 681.2H850.5M850.5 678.5H900.0M850.5 683.3H900.0M829.4 689.6H877.0M829.4 694.7H877.0M829.4 702.7H835.0M835.0 699.7H884.7M835.0 705.7H885.0M829.4 712.7H840.5M829.4 718.2H843.5M829.4 722.8H900.0M829.4 729.8H871.4M829.4 734.0H870.7M829.4 739.7H900.0M828.7 567.8V587.0M839.6 565.1V570.7M864.3 575.9V581.3M828.7 598.1V611.0M863.5 595.3V600.1M830.3 611.0V617.0M848.4 614.5V619.3M829.1 631.5V645.7M832.1 629.6V635.0M829.4 652.6V669.0M837.5 666.1V671.0M829.4 681.5V702.7M850.5 678.5V683.3M835.0 699.7V705.7M829.4 712.7V722.8M829.4 729.8V739.7" fill="none" stroke="#77839c" stroke-width="1"/>
<g style="font-family:'Liberation Sans',sans-serif;font-weight:bold;font-size:5.6px;fill:#3a3a3a" text-anchor="end"><text x="824.3" y="579.2">ABC1</text><text x="823.7" y="609.4">Alpha</text><text x="826.2" y="640.7">Brd</text><text x="826.5" y="663.6">PDHK</text><text x="825.5" y="695.5">PIKK</text><text x="826.2" y="719.7">RIO</text><text x="826.2" y="736.8">TIF1</text></g>
<g fill="#a4fd21"><circle cx="896.5" cy="575.5" r="3.5"/><circle cx="875.0" cy="609.9" r="3.5"/><circle cx="879.3" cy="688.9" r="3.5"/><circle cx="879.3" cy="694.5" r="3.5"/></g>
</svg>
</body>
</html>
